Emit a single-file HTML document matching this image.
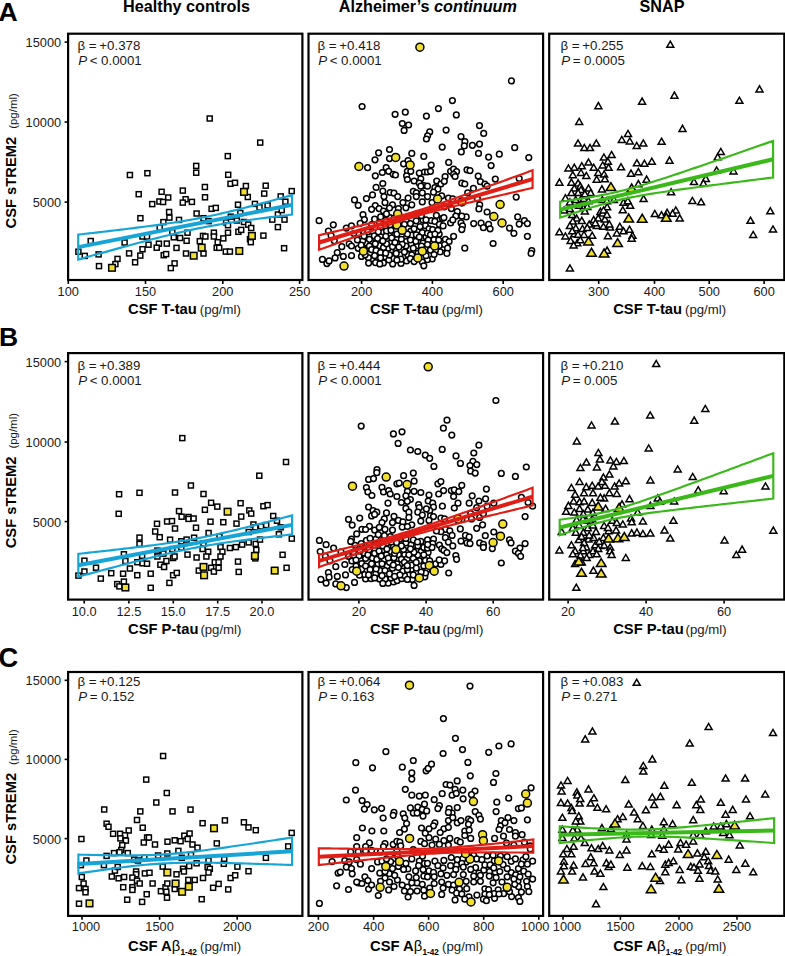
<!DOCTYPE html><html><head><meta charset="utf-8"><style>html,body{margin:0;padding:0;background:#fff;overflow:hidden;width:785px;height:956px;}svg{display:block;}text{font-family:"Liberation Sans", sans-serif;}</style></head><body>
<svg width="785" height="956" viewBox="0 0 785 956">
<rect width="785" height="956" fill="#fff"/>
<text x="186.5" y="12.3" font-size="16.2" font-weight="bold" text-anchor="middle">Healthy controls</text>
<text x="427.8" y="12.3" font-size="16.2" font-weight="bold" text-anchor="middle">Alzheimer’s <tspan font-style="italic">continuum</tspan></text>
<text x="662" y="12.3" font-size="16.2" font-weight="bold" text-anchor="middle">SNAP</text>
<text x="-1.6" y="20.8" font-size="26.5" font-weight="bold">A</text>
<text x="-1.0" y="345.5" font-size="26.5" font-weight="bold">B</text>
<text x="-1.6" y="666.9" font-size="27.3" font-weight="bold">C</text>
<g><rect x="127.4" y="172.5" width="5.0" height="5.0" fill="#fff" stroke="#000" stroke-width="1.5"/><rect x="144.9" y="170.7" width="5.0" height="5.0" fill="#fff" stroke="#000" stroke-width="1.5"/><rect x="136.2" y="191.7" width="5.0" height="5.0" fill="#fff" stroke="#000" stroke-width="1.5"/><rect x="159.1" y="189.3" width="5.0" height="5.0" fill="#fff" stroke="#000" stroke-width="1.5"/><rect x="165.7" y="195.0" width="5.0" height="5.0" fill="#fff" stroke="#000" stroke-width="1.5"/><rect x="149.7" y="201.6" width="5.0" height="5.0" fill="#fff" stroke="#000" stroke-width="1.5"/><rect x="156.9" y="199.0" width="5.0" height="5.0" fill="#fff" stroke="#000" stroke-width="1.5"/><rect x="160.6" y="199.5" width="5.0" height="5.0" fill="#fff" stroke="#000" stroke-width="1.5"/><rect x="180.3" y="188.1" width="5.0" height="5.0" fill="#fff" stroke="#000" stroke-width="1.5"/><rect x="166.6" y="209.5" width="5.0" height="5.0" fill="#fff" stroke="#000" stroke-width="1.5"/><rect x="166.9" y="215.1" width="5.0" height="5.0" fill="#fff" stroke="#000" stroke-width="1.5"/><rect x="137.9" y="215.7" width="5.0" height="5.0" fill="#fff" stroke="#000" stroke-width="1.5"/><rect x="176.5" y="217.4" width="5.0" height="5.0" fill="#fff" stroke="#000" stroke-width="1.5"/><rect x="160.9" y="219.6" width="5.0" height="5.0" fill="#fff" stroke="#000" stroke-width="1.5"/><rect x="157.2" y="225.1" width="5.0" height="5.0" fill="#fff" stroke="#000" stroke-width="1.5"/><rect x="169.8" y="229.6" width="5.0" height="5.0" fill="#fff" stroke="#000" stroke-width="1.5"/><rect x="171.3" y="234.8" width="5.0" height="5.0" fill="#fff" stroke="#000" stroke-width="1.5"/><rect x="177.6" y="235.5" width="5.0" height="5.0" fill="#fff" stroke="#000" stroke-width="1.5"/><rect x="140.0" y="234.0" width="5.0" height="5.0" fill="#fff" stroke="#000" stroke-width="1.5"/><rect x="144.5" y="234.0" width="5.0" height="5.0" fill="#fff" stroke="#000" stroke-width="1.5"/><rect x="88.2" y="238.5" width="5.0" height="5.0" fill="#fff" stroke="#000" stroke-width="1.5"/><rect x="122.1" y="240.0" width="5.0" height="5.0" fill="#fff" stroke="#000" stroke-width="1.5"/><rect x="146.0" y="242.2" width="5.0" height="5.0" fill="#fff" stroke="#000" stroke-width="1.5"/><rect x="156.4" y="241.2" width="5.0" height="5.0" fill="#fff" stroke="#000" stroke-width="1.5"/><rect x="164.3" y="241.1" width="5.0" height="5.0" fill="#fff" stroke="#000" stroke-width="1.5"/><rect x="154.2" y="245.2" width="5.0" height="5.0" fill="#fff" stroke="#000" stroke-width="1.5"/><rect x="140.0" y="246.7" width="5.0" height="5.0" fill="#fff" stroke="#000" stroke-width="1.5"/><rect x="174.0" y="245.4" width="5.0" height="5.0" fill="#fff" stroke="#000" stroke-width="1.5"/><rect x="75.9" y="249.2" width="5.0" height="5.0" fill="#fff" stroke="#000" stroke-width="1.5"/><rect x="82.3" y="253.4" width="5.0" height="5.0" fill="#fff" stroke="#000" stroke-width="1.5"/><rect x="96.1" y="251.9" width="5.0" height="5.0" fill="#fff" stroke="#000" stroke-width="1.5"/><rect x="126.6" y="250.9" width="5.0" height="5.0" fill="#fff" stroke="#000" stroke-width="1.5"/><rect x="137.8" y="253.1" width="5.0" height="5.0" fill="#fff" stroke="#000" stroke-width="1.5"/><rect x="161.2" y="252.7" width="5.0" height="5.0" fill="#fff" stroke="#000" stroke-width="1.5"/><rect x="163.6" y="251.6" width="5.0" height="5.0" fill="#fff" stroke="#000" stroke-width="1.5"/><rect x="115.0" y="256.4" width="5.0" height="5.0" fill="#fff" stroke="#000" stroke-width="1.5"/><rect x="112.9" y="261.6" width="5.0" height="5.0" fill="#fff" stroke="#000" stroke-width="1.5"/><rect x="132.6" y="259.8" width="5.0" height="5.0" fill="#fff" stroke="#000" stroke-width="1.5"/><rect x="96.5" y="263.6" width="5.0" height="5.0" fill="#fff" stroke="#000" stroke-width="1.5"/><rect x="172.1" y="260.9" width="5.0" height="5.0" fill="#fff" stroke="#000" stroke-width="1.5"/><rect x="168.3" y="265.6" width="5.0" height="5.0" fill="#fff" stroke="#000" stroke-width="1.5"/><rect x="207.2" y="116.0" width="5.0" height="5.0" fill="#fff" stroke="#000" stroke-width="1.5"/><rect x="257.7" y="140.1" width="5.0" height="5.0" fill="#fff" stroke="#000" stroke-width="1.5"/><rect x="225.3" y="153.6" width="5.0" height="5.0" fill="#fff" stroke="#000" stroke-width="1.5"/><rect x="193.7" y="163.4" width="5.0" height="5.0" fill="#fff" stroke="#000" stroke-width="1.5"/><rect x="193.7" y="170.2" width="5.0" height="5.0" fill="#fff" stroke="#000" stroke-width="1.5"/><rect x="225.7" y="172.3" width="5.0" height="5.0" fill="#fff" stroke="#000" stroke-width="1.5"/><rect x="228.0" y="181.3" width="5.0" height="5.0" fill="#fff" stroke="#000" stroke-width="1.5"/><rect x="232.5" y="180.3" width="5.0" height="5.0" fill="#fff" stroke="#000" stroke-width="1.5"/><rect x="243.4" y="183.5" width="5.0" height="5.0" fill="#fff" stroke="#000" stroke-width="1.5"/><rect x="263.2" y="183.2" width="5.0" height="5.0" fill="#fff" stroke="#000" stroke-width="1.5"/><rect x="245.3" y="194.5" width="5.0" height="5.0" fill="#fff" stroke="#000" stroke-width="1.5"/><rect x="261.7" y="191.1" width="5.0" height="5.0" fill="#fff" stroke="#000" stroke-width="1.5"/><rect x="289.2" y="188.6" width="5.0" height="5.0" fill="#fff" stroke="#000" stroke-width="1.5"/><rect x="202.4" y="184.5" width="5.0" height="5.0" fill="#fff" stroke="#000" stroke-width="1.5"/><rect x="202.5" y="194.8" width="5.0" height="5.0" fill="#fff" stroke="#000" stroke-width="1.5"/><rect x="183.1" y="196.7" width="5.0" height="5.0" fill="#fff" stroke="#000" stroke-width="1.5"/><rect x="180.3" y="200.1" width="5.0" height="5.0" fill="#fff" stroke="#000" stroke-width="1.5"/><rect x="189.4" y="199.4" width="5.0" height="5.0" fill="#fff" stroke="#000" stroke-width="1.5"/><rect x="278.2" y="193.9" width="5.0" height="5.0" fill="#fff" stroke="#000" stroke-width="1.5"/><rect x="282.9" y="199.2" width="5.0" height="5.0" fill="#fff" stroke="#000" stroke-width="1.5"/><rect x="252.4" y="201.4" width="5.0" height="5.0" fill="#fff" stroke="#000" stroke-width="1.5"/><rect x="257.0" y="204.8" width="5.0" height="5.0" fill="#fff" stroke="#000" stroke-width="1.5"/><rect x="265.1" y="202.9" width="5.0" height="5.0" fill="#fff" stroke="#000" stroke-width="1.5"/><rect x="235.5" y="202.2" width="5.0" height="5.0" fill="#fff" stroke="#000" stroke-width="1.5"/><rect x="237.8" y="210.5" width="5.0" height="5.0" fill="#fff" stroke="#000" stroke-width="1.5"/><rect x="209.1" y="206.3" width="5.0" height="5.0" fill="#fff" stroke="#000" stroke-width="1.5"/><rect x="213.3" y="205.4" width="5.0" height="5.0" fill="#fff" stroke="#000" stroke-width="1.5"/><rect x="194.1" y="211.0" width="5.0" height="5.0" fill="#fff" stroke="#000" stroke-width="1.5"/><rect x="201.0" y="215.7" width="5.0" height="5.0" fill="#fff" stroke="#000" stroke-width="1.5"/><rect x="206.1" y="218.6" width="5.0" height="5.0" fill="#fff" stroke="#000" stroke-width="1.5"/><rect x="228.3" y="214.2" width="5.0" height="5.0" fill="#fff" stroke="#000" stroke-width="1.5"/><rect x="223.6" y="219.9" width="5.0" height="5.0" fill="#fff" stroke="#000" stroke-width="1.5"/><rect x="225.5" y="222.7" width="5.0" height="5.0" fill="#fff" stroke="#000" stroke-width="1.5"/><rect x="234.4" y="218.0" width="5.0" height="5.0" fill="#fff" stroke="#000" stroke-width="1.5"/><rect x="241.5" y="219.5" width="5.0" height="5.0" fill="#fff" stroke="#000" stroke-width="1.5"/><rect x="245.7" y="222.1" width="5.0" height="5.0" fill="#fff" stroke="#000" stroke-width="1.5"/><rect x="248.7" y="225.5" width="5.0" height="5.0" fill="#fff" stroke="#000" stroke-width="1.5"/><rect x="275.4" y="212.0" width="5.0" height="5.0" fill="#fff" stroke="#000" stroke-width="1.5"/><rect x="279.2" y="207.6" width="5.0" height="5.0" fill="#fff" stroke="#000" stroke-width="1.5"/><rect x="269.8" y="217.1" width="5.0" height="5.0" fill="#fff" stroke="#000" stroke-width="1.5"/><rect x="282.0" y="217.1" width="5.0" height="5.0" fill="#fff" stroke="#000" stroke-width="1.5"/><rect x="275.4" y="224.6" width="5.0" height="5.0" fill="#fff" stroke="#000" stroke-width="1.5"/><rect x="225.5" y="230.2" width="5.0" height="5.0" fill="#fff" stroke="#000" stroke-width="1.5"/><rect x="235.9" y="229.3" width="5.0" height="5.0" fill="#fff" stroke="#000" stroke-width="1.5"/><rect x="238.7" y="227.4" width="5.0" height="5.0" fill="#fff" stroke="#000" stroke-width="1.5"/><rect x="211.4" y="230.2" width="5.0" height="5.0" fill="#fff" stroke="#000" stroke-width="1.5"/><rect x="211.4" y="234.0" width="5.0" height="5.0" fill="#fff" stroke="#000" stroke-width="1.5"/><rect x="220.8" y="235.9" width="5.0" height="5.0" fill="#fff" stroke="#000" stroke-width="1.5"/><rect x="215.2" y="239.7" width="5.0" height="5.0" fill="#fff" stroke="#000" stroke-width="1.5"/><rect x="200.5" y="233.4" width="5.0" height="5.0" fill="#fff" stroke="#000" stroke-width="1.5"/><rect x="202.9" y="234.0" width="5.0" height="5.0" fill="#fff" stroke="#000" stroke-width="1.5"/><rect x="197.3" y="238.7" width="5.0" height="5.0" fill="#fff" stroke="#000" stroke-width="1.5"/><rect x="185.0" y="230.2" width="5.0" height="5.0" fill="#fff" stroke="#000" stroke-width="1.5"/><rect x="184.1" y="238.3" width="5.0" height="5.0" fill="#fff" stroke="#000" stroke-width="1.5"/><rect x="247.5" y="236.8" width="5.0" height="5.0" fill="#fff" stroke="#000" stroke-width="1.5"/><rect x="248.3" y="239.7" width="5.0" height="5.0" fill="#fff" stroke="#000" stroke-width="1.5"/><rect x="260.9" y="233.1" width="5.0" height="5.0" fill="#fff" stroke="#000" stroke-width="1.5"/><rect x="214.2" y="245.3" width="5.0" height="5.0" fill="#fff" stroke="#000" stroke-width="1.5"/><rect x="216.7" y="245.3" width="5.0" height="5.0" fill="#fff" stroke="#000" stroke-width="1.5"/><rect x="223.3" y="249.1" width="5.0" height="5.0" fill="#fff" stroke="#000" stroke-width="1.5"/><rect x="227.4" y="249.1" width="5.0" height="5.0" fill="#fff" stroke="#000" stroke-width="1.5"/><rect x="183.5" y="251.0" width="5.0" height="5.0" fill="#fff" stroke="#000" stroke-width="1.5"/><rect x="201.0" y="251.0" width="5.0" height="5.0" fill="#fff" stroke="#000" stroke-width="1.5"/><rect x="281.6" y="245.7" width="5.0" height="5.0" fill="#fff" stroke="#000" stroke-width="1.5"/><rect x="108.7" y="264.5" width="6.6" height="6.6" fill="#f0df2c" stroke="#000" stroke-width="1.5"/><rect x="240.7" y="188.6" width="6.6" height="6.6" fill="#f0df2c" stroke="#000" stroke-width="1.5"/><rect x="248.6" y="232.6" width="6.6" height="6.6" fill="#f0df2c" stroke="#000" stroke-width="1.5"/><rect x="198.4" y="244.3" width="6.6" height="6.6" fill="#f0df2c" stroke="#000" stroke-width="1.5"/><rect x="236.0" y="247.7" width="6.6" height="6.6" fill="#f0df2c" stroke="#000" stroke-width="1.5"/><rect x="190.4" y="252.4" width="6.6" height="6.6" fill="#f0df2c" stroke="#000" stroke-width="1.5"/></g>
<path d="M78.20,234.60 L81.76,234.20 L85.33,233.79 L88.89,233.39 L92.45,232.98 L96.02,232.57 L99.58,232.16 L103.14,231.75 L106.71,231.33 L110.27,230.92 L113.83,230.50 L117.40,230.07 L120.96,229.64 L124.52,229.21 L128.09,228.78 L131.65,228.34 L135.21,227.89 L138.78,227.44 L142.34,226.99 L145.90,226.52 L149.47,226.05 L153.03,225.57 L156.59,225.09 L160.16,224.59 L163.72,224.08 L167.28,223.56 L170.85,223.03 L174.41,222.48 L177.97,221.92 L181.54,221.34 L185.10,220.74 L188.66,220.13 L192.23,219.49 L195.79,218.83 L199.35,218.15 L202.92,217.45 L206.48,216.73 L210.04,215.99 L213.61,215.22 L217.17,214.44 L220.73,213.63 L224.30,212.81 L227.86,211.97 L231.42,211.11 L234.99,210.24 L238.55,209.36 L242.11,208.46 L245.68,207.55 L249.24,206.64 L252.80,205.71 L256.37,204.77 L259.93,203.83 L263.49,202.88 L267.06,201.92 L270.62,200.96 L274.18,200.00 L277.75,199.02 L281.31,198.05 L284.87,197.07 L288.44,196.09 L292.00,195.10 L292.00,214.60 L288.44,215.02 L284.87,215.45 L281.31,215.88 L277.75,216.31 L274.18,216.75 L270.62,217.19 L267.06,217.63 L263.49,218.09 L259.93,218.54 L256.37,219.01 L252.80,219.48 L249.24,219.96 L245.68,220.45 L242.11,220.95 L238.55,221.47 L234.99,221.99 L231.42,222.53 L227.86,223.08 L224.30,223.65 L220.73,224.23 L217.17,224.84 L213.61,225.46 L210.04,226.10 L206.48,226.77 L202.92,227.46 L199.35,228.16 L195.79,228.89 L192.23,229.64 L188.66,230.42 L185.10,231.21 L181.54,232.02 L177.97,232.85 L174.41,233.69 L170.85,234.55 L167.28,235.43 L163.72,236.32 L160.16,237.22 L156.59,238.13 L153.03,239.05 L149.47,239.98 L145.90,240.92 L142.34,241.86 L138.78,242.82 L135.21,243.77 L131.65,244.74 L128.09,245.71 L124.52,246.68 L120.96,247.66 L117.40,248.64 L113.83,249.62 L110.27,250.61 L106.71,251.60 L103.14,252.59 L99.58,253.59 L96.02,254.58 L92.45,255.58 L88.89,256.59 L85.33,257.59 L81.76,258.59 L78.20,259.60 Z" fill="none" stroke="#17a5d8" stroke-width="2.15"/>
<path d="M78.2,247.1 L292,204.85" fill="none" stroke="#17a5d8" stroke-width="4.0"/>
<rect x="68.1" y="33.7" width="234.29999999999998" height="246.3" fill="none" stroke="#000" stroke-width="2.2"/>
<line x1="68.3" y1="281" x2="68.3" y2="283.9" stroke="#000" stroke-width="1.6"/>
<text x="68.3" y="296.0" font-size="12.8" text-anchor="middle" fill="#1a1a1a">100</text>
<line x1="145.5" y1="281" x2="145.5" y2="283.9" stroke="#000" stroke-width="1.6"/>
<text x="145.5" y="296.0" font-size="12.8" text-anchor="middle" fill="#1a1a1a">150</text>
<line x1="222.8" y1="281" x2="222.8" y2="283.9" stroke="#000" stroke-width="1.6"/>
<text x="222.8" y="296.0" font-size="12.8" text-anchor="middle" fill="#1a1a1a">200</text>
<line x1="299.6" y1="281" x2="299.6" y2="283.9" stroke="#000" stroke-width="1.6"/>
<text x="299.6" y="296.0" font-size="12.8" text-anchor="middle" fill="#1a1a1a">250</text>
<text x="77.45" y="50.2" font-size="13.3" fill="#1a1a1a">β</text>
<text x="88.65" y="50.2" font-size="13.3" fill="#1a1a1a">=</text>
<text x="99.30" y="50.2" font-size="13.3" fill="#1a1a1a">+0.378</text>
<text x="78.35" y="64.7" font-size="13.3" font-style="italic" fill="#1a1a1a">P</text>
<text x="89.65" y="64.7" font-size="13.3" fill="#1a1a1a">&lt;</text>
<text x="101.10" y="64.7" font-size="13.3" fill="#1a1a1a">0.0001</text>
<g><circle cx="384.3" cy="226.6" r="4.0" fill="#f0df2c" stroke="#000" stroke-width="1.5"/><circle cx="381.0" cy="235.4" r="2.85" fill="#fff" stroke="#000" stroke-width="1.5"/><circle cx="419.4" cy="242.5" r="2.85" fill="#fff" stroke="#000" stroke-width="1.5"/><circle cx="404.9" cy="237.4" r="2.85" fill="#fff" stroke="#000" stroke-width="1.5"/><circle cx="396.0" cy="230.6" r="2.85" fill="#fff" stroke="#000" stroke-width="1.5"/><circle cx="417.4" cy="230.4" r="2.85" fill="#fff" stroke="#000" stroke-width="1.5"/><circle cx="434.0" cy="239.6" r="2.85" fill="#fff" stroke="#000" stroke-width="1.5"/><circle cx="371.8" cy="242.6" r="2.85" fill="#fff" stroke="#000" stroke-width="1.5"/><circle cx="360.4" cy="237.8" r="2.85" fill="#fff" stroke="#000" stroke-width="1.5"/><circle cx="432.2" cy="259.0" r="2.85" fill="#fff" stroke="#000" stroke-width="1.5"/><circle cx="369.4" cy="235.3" r="2.85" fill="#fff" stroke="#000" stroke-width="1.5"/><circle cx="366.8" cy="243.2" r="2.85" fill="#fff" stroke="#000" stroke-width="1.5"/><circle cx="401.0" cy="263.5" r="2.85" fill="#fff" stroke="#000" stroke-width="1.5"/><circle cx="422.0" cy="258.1" r="2.85" fill="#fff" stroke="#000" stroke-width="1.5"/><circle cx="442.8" cy="248.0" r="2.85" fill="#fff" stroke="#000" stroke-width="1.5"/><circle cx="395.1" cy="249.2" r="2.85" fill="#fff" stroke="#000" stroke-width="1.5"/><circle cx="390.6" cy="251.0" r="2.85" fill="#fff" stroke="#000" stroke-width="1.5"/><circle cx="392.7" cy="263.9" r="2.85" fill="#fff" stroke="#000" stroke-width="1.5"/><circle cx="385.9" cy="257.3" r="2.85" fill="#fff" stroke="#000" stroke-width="1.5"/><circle cx="391.4" cy="242.3" r="2.85" fill="#fff" stroke="#000" stroke-width="1.5"/><circle cx="426.0" cy="236.9" r="2.85" fill="#fff" stroke="#000" stroke-width="1.5"/><circle cx="367.1" cy="248.8" r="2.85" fill="#fff" stroke="#000" stroke-width="1.5"/><circle cx="409.7" cy="248.7" r="2.85" fill="#fff" stroke="#000" stroke-width="1.5"/><circle cx="372.2" cy="258.8" r="2.85" fill="#fff" stroke="#000" stroke-width="1.5"/><circle cx="383.4" cy="262.9" r="2.85" fill="#fff" stroke="#000" stroke-width="1.5"/><circle cx="427.3" cy="259.7" r="2.85" fill="#fff" stroke="#000" stroke-width="1.5"/><circle cx="403.5" cy="256.6" r="2.85" fill="#fff" stroke="#000" stroke-width="1.5"/><circle cx="389.2" cy="234.0" r="2.85" fill="#fff" stroke="#000" stroke-width="1.5"/><circle cx="375.6" cy="262.7" r="2.85" fill="#fff" stroke="#000" stroke-width="1.5"/><circle cx="440.1" cy="251.9" r="2.85" fill="#fff" stroke="#000" stroke-width="1.5"/><circle cx="422.3" cy="262.0" r="2.85" fill="#fff" stroke="#000" stroke-width="1.5"/><circle cx="407.8" cy="254.7" r="2.85" fill="#fff" stroke="#000" stroke-width="1.5"/><circle cx="400.0" cy="254.9" r="2.85" fill="#fff" stroke="#000" stroke-width="1.5"/><circle cx="389.9" cy="217.5" r="2.85" fill="#fff" stroke="#000" stroke-width="1.5"/><circle cx="397.2" cy="239.0" r="2.85" fill="#fff" stroke="#000" stroke-width="1.5"/><circle cx="363.8" cy="232.1" r="2.85" fill="#fff" stroke="#000" stroke-width="1.5"/><circle cx="358.2" cy="248.3" r="2.85" fill="#fff" stroke="#000" stroke-width="1.5"/><circle cx="392.8" cy="258.4" r="2.85" fill="#fff" stroke="#000" stroke-width="1.5"/><circle cx="362.7" cy="241.0" r="2.85" fill="#fff" stroke="#000" stroke-width="1.5"/><circle cx="416.8" cy="245.7" r="2.85" fill="#fff" stroke="#000" stroke-width="1.5"/><circle cx="406.2" cy="241.6" r="2.85" fill="#fff" stroke="#000" stroke-width="1.5"/><circle cx="439.5" cy="245.6" r="2.85" fill="#fff" stroke="#000" stroke-width="1.5"/><circle cx="425.3" cy="248.2" r="2.85" fill="#fff" stroke="#000" stroke-width="1.5"/><circle cx="406.5" cy="261.0" r="2.85" fill="#fff" stroke="#000" stroke-width="1.5"/><circle cx="368.4" cy="257.7" r="2.85" fill="#fff" stroke="#000" stroke-width="1.5"/><circle cx="379.4" cy="222.5" r="2.85" fill="#fff" stroke="#000" stroke-width="1.5"/><circle cx="418.1" cy="253.2" r="2.85" fill="#fff" stroke="#000" stroke-width="1.5"/><circle cx="425.4" cy="225.7" r="2.85" fill="#fff" stroke="#000" stroke-width="1.5"/><circle cx="410.8" cy="231.2" r="2.85" fill="#fff" stroke="#000" stroke-width="1.5"/><circle cx="411.4" cy="235.2" r="2.85" fill="#fff" stroke="#000" stroke-width="1.5"/><circle cx="435.5" cy="250.2" r="2.85" fill="#fff" stroke="#000" stroke-width="1.5"/><circle cx="411.2" cy="243.9" r="2.85" fill="#fff" stroke="#000" stroke-width="1.5"/><circle cx="394.2" cy="218.2" r="2.85" fill="#fff" stroke="#000" stroke-width="1.5"/><circle cx="388.2" cy="248.2" r="2.85" fill="#fff" stroke="#000" stroke-width="1.5"/><circle cx="379.5" cy="245.7" r="2.85" fill="#fff" stroke="#000" stroke-width="1.5"/><circle cx="406.1" cy="220.0" r="2.85" fill="#fff" stroke="#000" stroke-width="1.5"/><circle cx="430.4" cy="250.1" r="2.85" fill="#fff" stroke="#000" stroke-width="1.5"/><circle cx="382.4" cy="231.7" r="2.85" fill="#fff" stroke="#000" stroke-width="1.5"/><circle cx="388.8" cy="260.0" r="2.85" fill="#fff" stroke="#000" stroke-width="1.5"/><circle cx="372.9" cy="231.7" r="2.85" fill="#fff" stroke="#000" stroke-width="1.5"/><circle cx="415.8" cy="241.3" r="2.85" fill="#fff" stroke="#000" stroke-width="1.5"/><circle cx="400.7" cy="226.5" r="2.85" fill="#fff" stroke="#000" stroke-width="1.5"/><circle cx="385.8" cy="220.4" r="2.85" fill="#fff" stroke="#000" stroke-width="1.5"/><circle cx="401.0" cy="259.2" r="2.85" fill="#fff" stroke="#000" stroke-width="1.5"/><circle cx="390.2" cy="224.8" r="2.85" fill="#fff" stroke="#000" stroke-width="1.5"/><circle cx="398.8" cy="218.6" r="2.85" fill="#fff" stroke="#000" stroke-width="1.5"/><circle cx="401.6" cy="234.6" r="2.85" fill="#fff" stroke="#000" stroke-width="1.5"/><circle cx="434.1" cy="254.5" r="2.85" fill="#fff" stroke="#000" stroke-width="1.5"/><circle cx="375.8" cy="227.5" r="2.85" fill="#fff" stroke="#000" stroke-width="1.5"/><circle cx="374.3" cy="235.9" r="2.85" fill="#fff" stroke="#000" stroke-width="1.5"/><circle cx="439.2" cy="234.1" r="2.85" fill="#fff" stroke="#000" stroke-width="1.5"/><circle cx="511.4" cy="80.9" r="2.85" fill="#fff" stroke="#000" stroke-width="1.5"/><circle cx="362.1" cy="106.5" r="2.85" fill="#fff" stroke="#000" stroke-width="1.5"/><circle cx="452.4" cy="100.6" r="2.85" fill="#fff" stroke="#000" stroke-width="1.5"/><circle cx="438.4" cy="108.6" r="2.85" fill="#fff" stroke="#000" stroke-width="1.5"/><circle cx="395.1" cy="114.3" r="2.85" fill="#fff" stroke="#000" stroke-width="1.5"/><circle cx="405.3" cy="112.2" r="2.85" fill="#fff" stroke="#000" stroke-width="1.5"/><circle cx="426.4" cy="116.1" r="2.85" fill="#fff" stroke="#000" stroke-width="1.5"/><circle cx="456.3" cy="114.9" r="2.85" fill="#fff" stroke="#000" stroke-width="1.5"/><circle cx="402.3" cy="123.5" r="2.85" fill="#fff" stroke="#000" stroke-width="1.5"/><circle cx="408.6" cy="125.0" r="2.85" fill="#fff" stroke="#000" stroke-width="1.5"/><circle cx="404.1" cy="130.4" r="2.85" fill="#fff" stroke="#000" stroke-width="1.5"/><circle cx="429.7" cy="131.9" r="2.85" fill="#fff" stroke="#000" stroke-width="1.5"/><circle cx="427.6" cy="135.8" r="2.85" fill="#fff" stroke="#000" stroke-width="1.5"/><circle cx="426.4" cy="139.0" r="2.85" fill="#fff" stroke="#000" stroke-width="1.5"/><circle cx="446.1" cy="130.1" r="2.85" fill="#fff" stroke="#000" stroke-width="1.5"/><circle cx="479.5" cy="125.6" r="2.85" fill="#fff" stroke="#000" stroke-width="1.5"/><circle cx="483.7" cy="133.4" r="2.85" fill="#fff" stroke="#000" stroke-width="1.5"/><circle cx="461.0" cy="136.6" r="2.85" fill="#fff" stroke="#000" stroke-width="1.5"/><circle cx="464.9" cy="141.7" r="2.85" fill="#fff" stroke="#000" stroke-width="1.5"/><circle cx="464.3" cy="145.9" r="2.85" fill="#fff" stroke="#000" stroke-width="1.5"/><circle cx="472.4" cy="145.3" r="2.85" fill="#fff" stroke="#000" stroke-width="1.5"/><circle cx="479.5" cy="144.1" r="2.85" fill="#fff" stroke="#000" stroke-width="1.5"/><circle cx="442.2" cy="147.1" r="2.85" fill="#fff" stroke="#000" stroke-width="1.5"/><circle cx="514.7" cy="147.7" r="2.85" fill="#fff" stroke="#000" stroke-width="1.5"/><circle cx="389.5" cy="149.5" r="2.85" fill="#fff" stroke="#000" stroke-width="1.5"/><circle cx="378.6" cy="152.8" r="2.85" fill="#fff" stroke="#000" stroke-width="1.5"/><circle cx="411.8" cy="153.4" r="2.85" fill="#fff" stroke="#000" stroke-width="1.5"/><circle cx="423.8" cy="156.4" r="2.85" fill="#fff" stroke="#000" stroke-width="1.5"/><circle cx="375.0" cy="159.8" r="2.85" fill="#fff" stroke="#000" stroke-width="1.5"/><circle cx="389.5" cy="158.6" r="2.85" fill="#fff" stroke="#000" stroke-width="1.5"/><circle cx="367.6" cy="167.7" r="2.85" fill="#fff" stroke="#000" stroke-width="1.5"/><circle cx="403.6" cy="163.8" r="2.85" fill="#fff" stroke="#000" stroke-width="1.5"/><circle cx="408.1" cy="160.6" r="2.85" fill="#fff" stroke="#000" stroke-width="1.5"/><circle cx="386.2" cy="167.7" r="2.85" fill="#fff" stroke="#000" stroke-width="1.5"/><circle cx="382.3" cy="172.5" r="2.85" fill="#fff" stroke="#000" stroke-width="1.5"/><circle cx="388.7" cy="171.3" r="2.85" fill="#fff" stroke="#000" stroke-width="1.5"/><circle cx="393.2" cy="174.3" r="2.85" fill="#fff" stroke="#000" stroke-width="1.5"/><circle cx="395.5" cy="175.0" r="2.85" fill="#fff" stroke="#000" stroke-width="1.5"/><circle cx="375.3" cy="175.8" r="2.85" fill="#fff" stroke="#000" stroke-width="1.5"/><circle cx="407.4" cy="171.3" r="2.85" fill="#fff" stroke="#000" stroke-width="1.5"/><circle cx="410.8" cy="171.3" r="2.85" fill="#fff" stroke="#000" stroke-width="1.5"/><circle cx="406.6" cy="175.8" r="2.85" fill="#fff" stroke="#000" stroke-width="1.5"/><circle cx="407.4" cy="179.5" r="2.85" fill="#fff" stroke="#000" stroke-width="1.5"/><circle cx="419.3" cy="173.1" r="2.85" fill="#fff" stroke="#000" stroke-width="1.5"/><circle cx="424.5" cy="172.0" r="2.85" fill="#fff" stroke="#000" stroke-width="1.5"/><circle cx="420.8" cy="178.8" r="2.85" fill="#fff" stroke="#000" stroke-width="1.5"/><circle cx="414.1" cy="181.0" r="2.85" fill="#fff" stroke="#000" stroke-width="1.5"/><circle cx="419.3" cy="183.2" r="2.85" fill="#fff" stroke="#000" stroke-width="1.5"/><circle cx="423.8" cy="185.5" r="2.85" fill="#fff" stroke="#000" stroke-width="1.5"/><circle cx="382.8" cy="183.5" r="2.85" fill="#fff" stroke="#000" stroke-width="1.5"/><circle cx="376.1" cy="187.4" r="2.85" fill="#fff" stroke="#000" stroke-width="1.5"/><circle cx="382.8" cy="191.0" r="2.85" fill="#fff" stroke="#000" stroke-width="1.5"/><circle cx="390.2" cy="192.5" r="2.85" fill="#fff" stroke="#000" stroke-width="1.5"/><circle cx="394.0" cy="193.2" r="2.85" fill="#fff" stroke="#000" stroke-width="1.5"/><circle cx="413.3" cy="191.4" r="2.85" fill="#fff" stroke="#000" stroke-width="1.5"/><circle cx="416.3" cy="192.9" r="2.85" fill="#fff" stroke="#000" stroke-width="1.5"/><circle cx="420.8" cy="186.2" r="2.85" fill="#fff" stroke="#000" stroke-width="1.5"/><circle cx="422.3" cy="192.9" r="2.85" fill="#fff" stroke="#000" stroke-width="1.5"/><circle cx="372.5" cy="194.9" r="2.85" fill="#fff" stroke="#000" stroke-width="1.5"/><circle cx="366.4" cy="198.6" r="2.85" fill="#fff" stroke="#000" stroke-width="1.5"/><circle cx="354.5" cy="199.9" r="2.85" fill="#fff" stroke="#000" stroke-width="1.5"/><circle cx="358.2" cy="205.3" r="2.85" fill="#fff" stroke="#000" stroke-width="1.5"/><circle cx="384.0" cy="196.6" r="2.85" fill="#fff" stroke="#000" stroke-width="1.5"/><circle cx="397.7" cy="196.6" r="2.85" fill="#fff" stroke="#000" stroke-width="1.5"/><circle cx="408.1" cy="198.1" r="2.85" fill="#fff" stroke="#000" stroke-width="1.5"/><circle cx="416.3" cy="196.6" r="2.85" fill="#fff" stroke="#000" stroke-width="1.5"/><circle cx="422.3" cy="201.9" r="2.85" fill="#fff" stroke="#000" stroke-width="1.5"/><circle cx="385.0" cy="202.6" r="2.85" fill="#fff" stroke="#000" stroke-width="1.5"/><circle cx="392.5" cy="204.8" r="2.85" fill="#fff" stroke="#000" stroke-width="1.5"/><circle cx="402.9" cy="202.6" r="2.85" fill="#fff" stroke="#000" stroke-width="1.5"/><circle cx="411.8" cy="204.8" r="2.85" fill="#fff" stroke="#000" stroke-width="1.5"/><circle cx="375.3" cy="205.6" r="2.85" fill="#fff" stroke="#000" stroke-width="1.5"/><circle cx="371.6" cy="209.3" r="2.85" fill="#fff" stroke="#000" stroke-width="1.5"/><circle cx="379.1" cy="208.6" r="2.85" fill="#fff" stroke="#000" stroke-width="1.5"/><circle cx="398.4" cy="208.6" r="2.85" fill="#fff" stroke="#000" stroke-width="1.5"/><circle cx="405.9" cy="207.8" r="2.85" fill="#fff" stroke="#000" stroke-width="1.5"/><circle cx="319.1" cy="220.7" r="2.85" fill="#fff" stroke="#000" stroke-width="1.5"/><circle cx="333.3" cy="224.8" r="2.85" fill="#fff" stroke="#000" stroke-width="1.5"/><circle cx="328.4" cy="231.1" r="2.85" fill="#fff" stroke="#000" stroke-width="1.5"/><circle cx="331.1" cy="235.6" r="2.85" fill="#fff" stroke="#000" stroke-width="1.5"/><circle cx="346.3" cy="228.1" r="2.85" fill="#fff" stroke="#000" stroke-width="1.5"/><circle cx="351.5" cy="225.9" r="2.85" fill="#fff" stroke="#000" stroke-width="1.5"/><circle cx="363.0" cy="214.7" r="2.85" fill="#fff" stroke="#000" stroke-width="1.5"/><circle cx="364.4" cy="219.6" r="2.85" fill="#fff" stroke="#000" stroke-width="1.5"/><circle cx="383.5" cy="211.0" r="2.85" fill="#fff" stroke="#000" stroke-width="1.5"/><circle cx="389.5" cy="208.0" r="2.85" fill="#fff" stroke="#000" stroke-width="1.5"/><circle cx="386.5" cy="213.9" r="2.85" fill="#fff" stroke="#000" stroke-width="1.5"/><circle cx="374.6" cy="219.2" r="2.85" fill="#fff" stroke="#000" stroke-width="1.5"/><circle cx="423.0" cy="219.9" r="2.85" fill="#fff" stroke="#000" stroke-width="1.5"/><circle cx="420.0" cy="226.6" r="2.85" fill="#fff" stroke="#000" stroke-width="1.5"/><circle cx="410.4" cy="223.6" r="2.85" fill="#fff" stroke="#000" stroke-width="1.5"/><circle cx="404.4" cy="224.4" r="2.85" fill="#fff" stroke="#000" stroke-width="1.5"/><circle cx="414.1" cy="228.8" r="2.85" fill="#fff" stroke="#000" stroke-width="1.5"/><circle cx="380.5" cy="227.4" r="2.85" fill="#fff" stroke="#000" stroke-width="1.5"/><circle cx="367.9" cy="231.8" r="2.85" fill="#fff" stroke="#000" stroke-width="1.5"/><circle cx="358.2" cy="234.1" r="2.85" fill="#fff" stroke="#000" stroke-width="1.5"/><circle cx="378.3" cy="231.8" r="2.85" fill="#fff" stroke="#000" stroke-width="1.5"/><circle cx="386.5" cy="231.1" r="2.85" fill="#fff" stroke="#000" stroke-width="1.5"/><circle cx="391.0" cy="230.3" r="2.85" fill="#fff" stroke="#000" stroke-width="1.5"/><circle cx="396.9" cy="234.1" r="2.85" fill="#fff" stroke="#000" stroke-width="1.5"/><circle cx="407.4" cy="234.1" r="2.85" fill="#fff" stroke="#000" stroke-width="1.5"/><circle cx="416.3" cy="234.8" r="2.85" fill="#fff" stroke="#000" stroke-width="1.5"/><circle cx="422.3" cy="232.6" r="2.85" fill="#fff" stroke="#000" stroke-width="1.5"/><circle cx="357.4" cy="240.0" r="2.85" fill="#fff" stroke="#000" stroke-width="1.5"/><circle cx="369.4" cy="239.3" r="2.85" fill="#fff" stroke="#000" stroke-width="1.5"/><circle cx="377.6" cy="238.5" r="2.85" fill="#fff" stroke="#000" stroke-width="1.5"/><circle cx="385.8" cy="236.3" r="2.85" fill="#fff" stroke="#000" stroke-width="1.5"/><circle cx="391.7" cy="237.8" r="2.85" fill="#fff" stroke="#000" stroke-width="1.5"/><circle cx="401.4" cy="239.3" r="2.85" fill="#fff" stroke="#000" stroke-width="1.5"/><circle cx="410.4" cy="240.0" r="2.85" fill="#fff" stroke="#000" stroke-width="1.5"/><circle cx="419.3" cy="237.0" r="2.85" fill="#fff" stroke="#000" stroke-width="1.5"/><circle cx="423.0" cy="243.0" r="2.85" fill="#fff" stroke="#000" stroke-width="1.5"/><circle cx="334.3" cy="240.8" r="2.85" fill="#fff" stroke="#000" stroke-width="1.5"/><circle cx="341.8" cy="246.7" r="2.85" fill="#fff" stroke="#000" stroke-width="1.5"/><circle cx="349.2" cy="243.8" r="2.85" fill="#fff" stroke="#000" stroke-width="1.5"/><circle cx="351.5" cy="246.0" r="2.85" fill="#fff" stroke="#000" stroke-width="1.5"/><circle cx="361.2" cy="245.2" r="2.85" fill="#fff" stroke="#000" stroke-width="1.5"/><circle cx="369.4" cy="246.0" r="2.85" fill="#fff" stroke="#000" stroke-width="1.5"/><circle cx="375.3" cy="243.8" r="2.85" fill="#fff" stroke="#000" stroke-width="1.5"/><circle cx="383.5" cy="247.5" r="2.85" fill="#fff" stroke="#000" stroke-width="1.5"/><circle cx="392.5" cy="246.7" r="2.85" fill="#fff" stroke="#000" stroke-width="1.5"/><circle cx="386.5" cy="243.8" r="2.85" fill="#fff" stroke="#000" stroke-width="1.5"/><circle cx="398.4" cy="244.5" r="2.85" fill="#fff" stroke="#000" stroke-width="1.5"/><circle cx="405.9" cy="246.0" r="2.85" fill="#fff" stroke="#000" stroke-width="1.5"/><circle cx="413.3" cy="248.2" r="2.85" fill="#fff" stroke="#000" stroke-width="1.5"/><circle cx="421.5" cy="246.0" r="2.85" fill="#fff" stroke="#000" stroke-width="1.5"/><circle cx="371.6" cy="249.7" r="2.85" fill="#fff" stroke="#000" stroke-width="1.5"/><circle cx="376.1" cy="250.5" r="2.85" fill="#fff" stroke="#000" stroke-width="1.5"/><circle cx="380.5" cy="252.7" r="2.85" fill="#fff" stroke="#000" stroke-width="1.5"/><circle cx="389.5" cy="254.9" r="2.85" fill="#fff" stroke="#000" stroke-width="1.5"/><circle cx="396.2" cy="253.4" r="2.85" fill="#fff" stroke="#000" stroke-width="1.5"/><circle cx="404.4" cy="252.0" r="2.85" fill="#fff" stroke="#000" stroke-width="1.5"/><circle cx="411.8" cy="254.9" r="2.85" fill="#fff" stroke="#000" stroke-width="1.5"/><circle cx="337.3" cy="252.7" r="2.85" fill="#fff" stroke="#000" stroke-width="1.5"/><circle cx="335.1" cy="257.9" r="2.85" fill="#fff" stroke="#000" stroke-width="1.5"/><circle cx="343.3" cy="256.4" r="2.85" fill="#fff" stroke="#000" stroke-width="1.5"/><circle cx="351.5" cy="255.7" r="2.85" fill="#fff" stroke="#000" stroke-width="1.5"/><circle cx="322.4" cy="259.4" r="2.85" fill="#fff" stroke="#000" stroke-width="1.5"/><circle cx="326.9" cy="263.6" r="2.85" fill="#fff" stroke="#000" stroke-width="1.5"/><circle cx="329.1" cy="260.9" r="2.85" fill="#fff" stroke="#000" stroke-width="1.5"/><circle cx="368.6" cy="263.1" r="2.85" fill="#fff" stroke="#000" stroke-width="1.5"/><circle cx="379.8" cy="263.9" r="2.85" fill="#fff" stroke="#000" stroke-width="1.5"/><circle cx="380.5" cy="257.9" r="2.85" fill="#fff" stroke="#000" stroke-width="1.5"/><circle cx="396.9" cy="260.1" r="2.85" fill="#fff" stroke="#000" stroke-width="1.5"/><circle cx="410.4" cy="258.7" r="2.85" fill="#fff" stroke="#000" stroke-width="1.5"/><circle cx="414.1" cy="261.6" r="2.85" fill="#fff" stroke="#000" stroke-width="1.5"/><circle cx="423.8" cy="265.8" r="2.85" fill="#fff" stroke="#000" stroke-width="1.5"/><circle cx="374.6" cy="255.7" r="2.85" fill="#fff" stroke="#000" stroke-width="1.5"/><circle cx="461.3" cy="151.9" r="2.85" fill="#fff" stroke="#000" stroke-width="1.5"/><circle cx="478.5" cy="153.4" r="2.85" fill="#fff" stroke="#000" stroke-width="1.5"/><circle cx="488.6" cy="157.1" r="2.85" fill="#fff" stroke="#000" stroke-width="1.5"/><circle cx="499.3" cy="154.2" r="2.85" fill="#fff" stroke="#000" stroke-width="1.5"/><circle cx="528.8" cy="157.6" r="2.85" fill="#fff" stroke="#000" stroke-width="1.5"/><circle cx="448.7" cy="162.4" r="2.85" fill="#fff" stroke="#000" stroke-width="1.5"/><circle cx="431.2" cy="165.0" r="2.85" fill="#fff" stroke="#000" stroke-width="1.5"/><circle cx="491.1" cy="165.6" r="2.85" fill="#fff" stroke="#000" stroke-width="1.5"/><circle cx="427.5" cy="172.0" r="2.85" fill="#fff" stroke="#000" stroke-width="1.5"/><circle cx="430.5" cy="171.3" r="2.85" fill="#fff" stroke="#000" stroke-width="1.5"/><circle cx="450.6" cy="171.3" r="2.85" fill="#fff" stroke="#000" stroke-width="1.5"/><circle cx="453.6" cy="169.1" r="2.85" fill="#fff" stroke="#000" stroke-width="1.5"/><circle cx="456.6" cy="171.6" r="2.85" fill="#fff" stroke="#000" stroke-width="1.5"/><circle cx="453.6" cy="174.3" r="2.85" fill="#fff" stroke="#000" stroke-width="1.5"/><circle cx="455.1" cy="176.5" r="2.85" fill="#fff" stroke="#000" stroke-width="1.5"/><circle cx="467.0" cy="169.8" r="2.85" fill="#fff" stroke="#000" stroke-width="1.5"/><circle cx="470.0" cy="170.6" r="2.85" fill="#fff" stroke="#000" stroke-width="1.5"/><circle cx="445.1" cy="176.5" r="2.85" fill="#fff" stroke="#000" stroke-width="1.5"/><circle cx="478.2" cy="176.1" r="2.85" fill="#fff" stroke="#000" stroke-width="1.5"/><circle cx="495.3" cy="179.1" r="2.85" fill="#fff" stroke="#000" stroke-width="1.5"/><circle cx="519.2" cy="178.5" r="2.85" fill="#fff" stroke="#000" stroke-width="1.5"/><circle cx="480.4" cy="181.7" r="2.85" fill="#fff" stroke="#000" stroke-width="1.5"/><circle cx="461.8" cy="183.2" r="2.85" fill="#fff" stroke="#000" stroke-width="1.5"/><circle cx="464.8" cy="184.0" r="2.85" fill="#fff" stroke="#000" stroke-width="1.5"/><circle cx="436.7" cy="181.0" r="2.85" fill="#fff" stroke="#000" stroke-width="1.5"/><circle cx="440.9" cy="184.0" r="2.85" fill="#fff" stroke="#000" stroke-width="1.5"/><circle cx="434.9" cy="187.7" r="2.85" fill="#fff" stroke="#000" stroke-width="1.5"/><circle cx="437.9" cy="189.2" r="2.85" fill="#fff" stroke="#000" stroke-width="1.5"/><circle cx="427.5" cy="186.2" r="2.85" fill="#fff" stroke="#000" stroke-width="1.5"/><circle cx="484.9" cy="184.0" r="2.85" fill="#fff" stroke="#000" stroke-width="1.5"/><circle cx="487.1" cy="186.2" r="2.85" fill="#fff" stroke="#000" stroke-width="1.5"/><circle cx="473.4" cy="188.4" r="2.85" fill="#fff" stroke="#000" stroke-width="1.5"/><circle cx="467.7" cy="192.9" r="2.85" fill="#fff" stroke="#000" stroke-width="1.5"/><circle cx="433.5" cy="192.2" r="2.85" fill="#fff" stroke="#000" stroke-width="1.5"/><circle cx="427.5" cy="196.6" r="2.85" fill="#fff" stroke="#000" stroke-width="1.5"/><circle cx="441.7" cy="195.9" r="2.85" fill="#fff" stroke="#000" stroke-width="1.5"/><circle cx="448.4" cy="198.1" r="2.85" fill="#fff" stroke="#000" stroke-width="1.5"/><circle cx="452.8" cy="198.9" r="2.85" fill="#fff" stroke="#000" stroke-width="1.5"/><circle cx="477.4" cy="198.9" r="2.85" fill="#fff" stroke="#000" stroke-width="1.5"/><circle cx="479.7" cy="204.8" r="2.85" fill="#fff" stroke="#000" stroke-width="1.5"/><circle cx="478.9" cy="208.9" r="2.85" fill="#fff" stroke="#000" stroke-width="1.5"/><circle cx="516.2" cy="197.1" r="2.85" fill="#fff" stroke="#000" stroke-width="1.5"/><circle cx="432.0" cy="202.6" r="2.85" fill="#fff" stroke="#000" stroke-width="1.5"/><circle cx="451.3" cy="208.6" r="2.85" fill="#fff" stroke="#000" stroke-width="1.5"/><circle cx="457.3" cy="211.5" r="2.85" fill="#fff" stroke="#000" stroke-width="1.5"/><circle cx="487.1" cy="212.0" r="2.85" fill="#fff" stroke="#000" stroke-width="1.5"/><circle cx="455.8" cy="216.2" r="2.85" fill="#fff" stroke="#000" stroke-width="1.5"/><circle cx="466.2" cy="216.9" r="2.85" fill="#fff" stroke="#000" stroke-width="1.5"/><circle cx="461.8" cy="216.2" r="2.85" fill="#fff" stroke="#000" stroke-width="1.5"/><circle cx="517.7" cy="216.9" r="2.85" fill="#fff" stroke="#000" stroke-width="1.5"/><circle cx="524.4" cy="220.7" r="2.85" fill="#fff" stroke="#000" stroke-width="1.5"/><circle cx="527.4" cy="223.6" r="2.85" fill="#fff" stroke="#000" stroke-width="1.5"/><circle cx="519.2" cy="224.1" r="2.85" fill="#fff" stroke="#000" stroke-width="1.5"/><circle cx="473.7" cy="223.6" r="2.85" fill="#fff" stroke="#000" stroke-width="1.5"/><circle cx="481.1" cy="223.2" r="2.85" fill="#fff" stroke="#000" stroke-width="1.5"/><circle cx="483.4" cy="227.7" r="2.85" fill="#fff" stroke="#000" stroke-width="1.5"/><circle cx="488.6" cy="224.4" r="2.85" fill="#fff" stroke="#000" stroke-width="1.5"/><circle cx="490.1" cy="228.8" r="2.85" fill="#fff" stroke="#000" stroke-width="1.5"/><circle cx="509.5" cy="228.1" r="2.85" fill="#fff" stroke="#000" stroke-width="1.5"/><circle cx="513.9" cy="233.3" r="2.85" fill="#fff" stroke="#000" stroke-width="1.5"/><circle cx="527.4" cy="236.3" r="2.85" fill="#fff" stroke="#000" stroke-width="1.5"/><circle cx="431.2" cy="220.7" r="2.85" fill="#fff" stroke="#000" stroke-width="1.5"/><circle cx="426.0" cy="219.9" r="2.85" fill="#fff" stroke="#000" stroke-width="1.5"/><circle cx="436.4" cy="215.4" r="2.85" fill="#fff" stroke="#000" stroke-width="1.5"/><circle cx="442.4" cy="218.4" r="2.85" fill="#fff" stroke="#000" stroke-width="1.5"/><circle cx="443.9" cy="217.7" r="2.85" fill="#fff" stroke="#000" stroke-width="1.5"/><circle cx="434.9" cy="221.4" r="2.85" fill="#fff" stroke="#000" stroke-width="1.5"/><circle cx="439.4" cy="224.4" r="2.85" fill="#fff" stroke="#000" stroke-width="1.5"/><circle cx="450.6" cy="222.9" r="2.85" fill="#fff" stroke="#000" stroke-width="1.5"/><circle cx="452.8" cy="219.9" r="2.85" fill="#fff" stroke="#000" stroke-width="1.5"/><circle cx="461.0" cy="222.9" r="2.85" fill="#fff" stroke="#000" stroke-width="1.5"/><circle cx="462.5" cy="225.9" r="2.85" fill="#fff" stroke="#000" stroke-width="1.5"/><circle cx="461.8" cy="229.6" r="2.85" fill="#fff" stroke="#000" stroke-width="1.5"/><circle cx="443.1" cy="225.9" r="2.85" fill="#fff" stroke="#000" stroke-width="1.5"/><circle cx="429.0" cy="228.8" r="2.85" fill="#fff" stroke="#000" stroke-width="1.5"/><circle cx="427.5" cy="233.3" r="2.85" fill="#fff" stroke="#000" stroke-width="1.5"/><circle cx="432.7" cy="229.6" r="2.85" fill="#fff" stroke="#000" stroke-width="1.5"/><circle cx="437.9" cy="230.3" r="2.85" fill="#fff" stroke="#000" stroke-width="1.5"/><circle cx="430.5" cy="234.8" r="2.85" fill="#fff" stroke="#000" stroke-width="1.5"/><circle cx="434.9" cy="234.1" r="2.85" fill="#fff" stroke="#000" stroke-width="1.5"/><circle cx="453.6" cy="236.3" r="2.85" fill="#fff" stroke="#000" stroke-width="1.5"/><circle cx="438.7" cy="240.0" r="2.85" fill="#fff" stroke="#000" stroke-width="1.5"/><circle cx="445.4" cy="239.3" r="2.85" fill="#fff" stroke="#000" stroke-width="1.5"/><circle cx="449.1" cy="241.5" r="2.85" fill="#fff" stroke="#000" stroke-width="1.5"/><circle cx="428.2" cy="240.0" r="2.85" fill="#fff" stroke="#000" stroke-width="1.5"/><circle cx="427.5" cy="244.5" r="2.85" fill="#fff" stroke="#000" stroke-width="1.5"/><circle cx="444.6" cy="244.5" r="2.85" fill="#fff" stroke="#000" stroke-width="1.5"/><circle cx="447.6" cy="248.2" r="2.85" fill="#fff" stroke="#000" stroke-width="1.5"/><circle cx="464.8" cy="248.2" r="2.85" fill="#fff" stroke="#000" stroke-width="1.5"/><circle cx="493.1" cy="243.5" r="2.85" fill="#fff" stroke="#000" stroke-width="1.5"/><circle cx="446.9" cy="253.4" r="2.85" fill="#fff" stroke="#000" stroke-width="1.5"/><circle cx="426.0" cy="255.7" r="2.85" fill="#fff" stroke="#000" stroke-width="1.5"/><circle cx="531.8" cy="250.5" r="2.85" fill="#fff" stroke="#000" stroke-width="1.5"/><circle cx="531.1" cy="253.4" r="2.85" fill="#fff" stroke="#000" stroke-width="1.5"/><circle cx="444.3" cy="181.3" r="2.85" fill="#fff" stroke="#000" stroke-width="1.5"/><circle cx="444.3" cy="206.8" r="2.85" fill="#fff" stroke="#000" stroke-width="1.5"/><circle cx="380.6" cy="216.9" r="2.85" fill="#fff" stroke="#000" stroke-width="1.5"/><circle cx="421.3" cy="215.7" r="2.85" fill="#fff" stroke="#000" stroke-width="1.5"/><circle cx="416.2" cy="220.8" r="2.85" fill="#fff" stroke="#000" stroke-width="1.5"/><circle cx="360.2" cy="223.3" r="2.85" fill="#fff" stroke="#000" stroke-width="1.5"/><circle cx="371.7" cy="224.6" r="2.85" fill="#fff" stroke="#000" stroke-width="1.5"/><circle cx="364.0" cy="236.1" r="2.85" fill="#fff" stroke="#000" stroke-width="1.5"/><circle cx="353.8" cy="233.5" r="2.85" fill="#fff" stroke="#000" stroke-width="1.5"/><circle cx="402.2" cy="244.3" r="2.85" fill="#fff" stroke="#000" stroke-width="1.5"/><circle cx="385.7" cy="253.2" r="2.85" fill="#fff" stroke="#000" stroke-width="1.5"/><circle cx="361.5" cy="256.4" r="2.85" fill="#fff" stroke="#000" stroke-width="1.5"/><circle cx="382.8" cy="241.0" r="2.85" fill="#fff" stroke="#000" stroke-width="1.5"/><circle cx="395.0" cy="242.5" r="2.85" fill="#fff" stroke="#000" stroke-width="1.5"/><circle cx="365.2" cy="254.8" r="2.85" fill="#fff" stroke="#000" stroke-width="1.5"/><circle cx="398.9" cy="247.1" r="2.85" fill="#fff" stroke="#000" stroke-width="1.5"/><circle cx="419.9" cy="47.2" r="4.0" fill="#f0df2c" stroke="#000" stroke-width="1.5"/><circle cx="395.7" cy="157.4" r="4.0" fill="#f0df2c" stroke="#000" stroke-width="1.5"/><circle cx="358.9" cy="166.5" r="4.0" fill="#f0df2c" stroke="#000" stroke-width="1.5"/><circle cx="410.1" cy="164.9" r="4.0" fill="#f0df2c" stroke="#000" stroke-width="1.5"/><circle cx="397.7" cy="213.9" r="4.0" fill="#f0df2c" stroke="#000" stroke-width="1.5"/><circle cx="396.9" cy="225.1" r="4.0" fill="#f0df2c" stroke="#000" stroke-width="1.5"/><circle cx="402.2" cy="230.3" r="4.0" fill="#f0df2c" stroke="#000" stroke-width="1.5"/><circle cx="363.4" cy="251.2" r="4.0" fill="#f0df2c" stroke="#000" stroke-width="1.5"/><circle cx="422.3" cy="251.2" r="4.0" fill="#f0df2c" stroke="#000" stroke-width="1.5"/><circle cx="417.8" cy="257.9" r="4.0" fill="#f0df2c" stroke="#000" stroke-width="1.5"/><circle cx="344.0" cy="266.1" r="4.0" fill="#f0df2c" stroke="#000" stroke-width="1.5"/><circle cx="437.6" cy="198.9" r="4.0" fill="#f0df2c" stroke="#000" stroke-width="1.5"/><circle cx="461.8" cy="201.9" r="4.0" fill="#f0df2c" stroke="#000" stroke-width="1.5"/><circle cx="500.1" cy="204.5" r="4.0" fill="#f0df2c" stroke="#000" stroke-width="1.5"/><circle cx="493.8" cy="216.6" r="4.0" fill="#f0df2c" stroke="#000" stroke-width="1.5"/><circle cx="502.0" cy="222.9" r="4.0" fill="#f0df2c" stroke="#000" stroke-width="1.5"/><circle cx="434.6" cy="246.0" r="4.0" fill="#f0df2c" stroke="#000" stroke-width="1.5"/></g>
<path d="M319.10,235.20 L322.66,234.38 L326.22,233.56 L329.78,232.74 L333.33,231.91 L336.89,231.09 L340.45,230.26 L344.01,229.43 L347.57,228.60 L351.12,227.76 L354.68,226.92 L358.24,226.08 L361.80,225.24 L365.36,224.39 L368.92,223.53 L372.48,222.67 L376.03,221.80 L379.59,220.93 L383.15,220.04 L386.71,219.14 L390.27,218.24 L393.83,217.31 L397.38,216.37 L400.94,215.42 L404.50,214.44 L408.06,213.44 L411.62,212.42 L415.18,211.37 L418.73,210.30 L422.29,209.20 L425.85,208.08 L429.41,206.94 L432.97,205.78 L436.53,204.60 L440.08,203.41 L443.64,202.20 L447.20,200.98 L450.76,199.75 L454.32,198.51 L457.88,197.26 L461.43,196.01 L464.99,194.75 L468.55,193.48 L472.11,192.21 L475.67,190.94 L479.23,189.67 L482.78,188.39 L486.34,187.11 L489.90,185.82 L493.46,184.54 L497.02,183.25 L500.58,181.96 L504.13,180.67 L507.69,179.37 L511.25,178.08 L514.81,176.79 L518.37,175.49 L521.92,174.19 L525.48,172.90 L529.04,171.60 L532.60,170.30 L532.60,187.90 L529.04,188.71 L525.48,189.53 L521.92,190.35 L518.37,191.16 L514.81,191.98 L511.25,192.80 L507.69,193.62 L504.13,194.44 L500.58,195.26 L497.02,196.09 L493.46,196.91 L489.90,197.74 L486.34,198.57 L482.78,199.40 L479.23,200.23 L475.67,201.07 L472.11,201.91 L468.55,202.76 L464.99,203.61 L461.43,204.46 L457.88,205.32 L454.32,206.18 L450.76,207.06 L447.20,207.94 L443.64,208.84 L440.08,209.74 L436.53,210.66 L432.97,211.59 L429.41,212.55 L425.85,213.52 L422.29,214.51 L418.73,215.53 L415.18,216.57 L411.62,217.64 L408.06,218.73 L404.50,219.84 L400.94,220.98 L397.38,222.13 L393.83,223.31 L390.27,224.50 L386.71,225.70 L383.15,226.92 L379.59,228.15 L376.03,229.39 L372.48,230.63 L368.92,231.88 L365.36,233.14 L361.80,234.40 L358.24,235.67 L354.68,236.94 L351.12,238.22 L347.57,239.50 L344.01,240.78 L340.45,242.06 L336.89,243.35 L333.33,244.63 L329.78,245.92 L326.22,247.21 L322.66,248.51 L319.10,249.80 Z" fill="none" stroke="#e01e16" stroke-width="2.15"/>
<path d="M319.1,242.5 L532.6,179.1" fill="none" stroke="#e01e16" stroke-width="4.0"/>
<rect x="308.5" y="33.7" width="234.60000000000002" height="246.3" fill="none" stroke="#000" stroke-width="2.2"/>
<line x1="361.6" y1="281" x2="361.6" y2="283.9" stroke="#000" stroke-width="1.6"/>
<text x="361.6" y="296.0" font-size="12.8" text-anchor="middle" fill="#1a1a1a">200</text>
<line x1="432.4" y1="281" x2="432.4" y2="283.9" stroke="#000" stroke-width="1.6"/>
<text x="432.4" y="296.0" font-size="12.8" text-anchor="middle" fill="#1a1a1a">400</text>
<line x1="503.2" y1="281" x2="503.2" y2="283.9" stroke="#000" stroke-width="1.6"/>
<text x="503.2" y="296.0" font-size="12.8" text-anchor="middle" fill="#1a1a1a">600</text>
<text x="317.44" y="50.2" font-size="13.3" fill="#1a1a1a">β</text>
<text x="328.64" y="50.2" font-size="13.3" fill="#1a1a1a">=</text>
<text x="339.29" y="50.2" font-size="13.3" fill="#1a1a1a">+0.418</text>
<text x="318.34" y="64.7" font-size="13.3" font-style="italic" fill="#1a1a1a">P</text>
<text x="329.64" y="64.7" font-size="13.3" fill="#1a1a1a">&lt;</text>
<text x="341.09" y="64.7" font-size="13.3" fill="#1a1a1a">0.0001</text>
<g><path d="M666.8,47.3 L673.8,47.3 L670.3,41.2 Z" fill="#fff" stroke="#000" stroke-width="1.5" stroke-linejoin="miter"/><path d="M756.0,91.9 L763.0,91.9 L759.5,85.8 Z" fill="#fff" stroke="#000" stroke-width="1.5" stroke-linejoin="miter"/><path d="M735.9,103.3 L742.9,103.3 L739.4,97.2 Z" fill="#fff" stroke="#000" stroke-width="1.5" stroke-linejoin="miter"/><path d="M670.9,98.2 L677.9,98.2 L674.4,92.1 Z" fill="#fff" stroke="#000" stroke-width="1.5" stroke-linejoin="miter"/><path d="M638.6,104.2 L645.6,104.2 L642.1,98.1 Z" fill="#fff" stroke="#000" stroke-width="1.5" stroke-linejoin="miter"/><path d="M594.9,108.7 L601.9,108.7 L598.4,102.6 Z" fill="#fff" stroke="#000" stroke-width="1.5" stroke-linejoin="miter"/><path d="M575.7,124.5 L582.7,124.5 L579.2,118.4 Z" fill="#fff" stroke="#000" stroke-width="1.5" stroke-linejoin="miter"/><path d="M679.0,131.4 L686.0,131.4 L682.5,125.3 Z" fill="#fff" stroke="#000" stroke-width="1.5" stroke-linejoin="miter"/><path d="M624.5,136.5 L631.5,136.5 L628.0,130.4 Z" fill="#fff" stroke="#000" stroke-width="1.5" stroke-linejoin="miter"/><path d="M618.3,142.5 L625.3,142.5 L621.8,136.4 Z" fill="#fff" stroke="#000" stroke-width="1.5" stroke-linejoin="miter"/><path d="M626.3,144.0 L633.3,144.0 L629.8,137.9 Z" fill="#fff" stroke="#000" stroke-width="1.5" stroke-linejoin="miter"/><path d="M574.5,146.1 L581.5,146.1 L578.0,140.0 Z" fill="#fff" stroke="#000" stroke-width="1.5" stroke-linejoin="miter"/><path d="M580.8,150.6 L587.8,150.6 L584.3,144.5 Z" fill="#fff" stroke="#000" stroke-width="1.5" stroke-linejoin="miter"/><path d="M586.5,150.6 L593.5,150.6 L590.0,144.5 Z" fill="#fff" stroke="#000" stroke-width="1.5" stroke-linejoin="miter"/><path d="M592.8,146.1 L599.8,146.1 L596.3,140.0 Z" fill="#fff" stroke="#000" stroke-width="1.5" stroke-linejoin="miter"/><path d="M633.2,148.5 L640.2,148.5 L636.7,142.4 Z" fill="#fff" stroke="#000" stroke-width="1.5" stroke-linejoin="miter"/><path d="M639.8,146.1 L646.8,146.1 L643.3,140.0 Z" fill="#fff" stroke="#000" stroke-width="1.5" stroke-linejoin="miter"/><path d="M658.1,144.3 L665.1,144.3 L661.6,138.2 Z" fill="#fff" stroke="#000" stroke-width="1.5" stroke-linejoin="miter"/><path d="M600.4,160.1 L607.4,160.1 L603.9,154.0 Z" fill="#fff" stroke="#000" stroke-width="1.5" stroke-linejoin="miter"/><path d="M608.1,157.6 L615.1,157.6 L611.6,151.5 Z" fill="#fff" stroke="#000" stroke-width="1.5" stroke-linejoin="miter"/><path d="M604.4,164.3 L611.4,164.3 L607.9,158.2 Z" fill="#fff" stroke="#000" stroke-width="1.5" stroke-linejoin="miter"/><path d="M585.0,165.1 L592.0,165.1 L588.5,159.0 Z" fill="#fff" stroke="#000" stroke-width="1.5" stroke-linejoin="miter"/><path d="M578.3,168.8 L585.3,168.8 L581.8,162.7 Z" fill="#fff" stroke="#000" stroke-width="1.5" stroke-linejoin="miter"/><path d="M570.8,170.3 L577.8,170.3 L574.3,164.2 Z" fill="#fff" stroke="#000" stroke-width="1.5" stroke-linejoin="miter"/><path d="M564.9,171.0 L571.9,171.0 L568.4,164.9 Z" fill="#fff" stroke="#000" stroke-width="1.5" stroke-linejoin="miter"/><path d="M590.2,170.3 L597.2,170.3 L593.7,164.2 Z" fill="#fff" stroke="#000" stroke-width="1.5" stroke-linejoin="miter"/><path d="M599.2,168.0 L606.2,168.0 L602.7,161.9 Z" fill="#fff" stroke="#000" stroke-width="1.5" stroke-linejoin="miter"/><path d="M605.1,170.3 L612.1,170.3 L608.6,164.2 Z" fill="#fff" stroke="#000" stroke-width="1.5" stroke-linejoin="miter"/><path d="M617.5,169.8 L624.5,169.8 L621.0,163.7 Z" fill="#fff" stroke="#000" stroke-width="1.5" stroke-linejoin="miter"/><path d="M633.4,165.8 L640.4,165.8 L636.9,159.7 Z" fill="#fff" stroke="#000" stroke-width="1.5" stroke-linejoin="miter"/><path d="M640.9,166.3 L647.9,166.3 L644.4,160.2 Z" fill="#fff" stroke="#000" stroke-width="1.5" stroke-linejoin="miter"/><path d="M648.3,164.3 L655.3,164.3 L651.8,158.2 Z" fill="#fff" stroke="#000" stroke-width="1.5" stroke-linejoin="miter"/><path d="M569.3,177.7 L576.3,177.7 L572.8,171.6 Z" fill="#fff" stroke="#000" stroke-width="1.5" stroke-linejoin="miter"/><path d="M577.5,175.5 L584.5,175.5 L581.0,169.4 Z" fill="#fff" stroke="#000" stroke-width="1.5" stroke-linejoin="miter"/><path d="M582.8,178.5 L589.8,178.5 L586.3,172.4 Z" fill="#fff" stroke="#000" stroke-width="1.5" stroke-linejoin="miter"/><path d="M594.7,175.5 L601.7,175.5 L598.2,169.4 Z" fill="#fff" stroke="#000" stroke-width="1.5" stroke-linejoin="miter"/><path d="M600.6,177.0 L607.6,177.0 L604.1,170.9 Z" fill="#fff" stroke="#000" stroke-width="1.5" stroke-linejoin="miter"/><path d="M627.5,176.2 L634.5,176.2 L631.0,170.1 Z" fill="#fff" stroke="#000" stroke-width="1.5" stroke-linejoin="miter"/><path d="M634.9,174.7 L641.9,174.7 L638.4,168.6 Z" fill="#fff" stroke="#000" stroke-width="1.5" stroke-linejoin="miter"/><path d="M555.9,185.2 L562.9,185.2 L559.4,179.1 Z" fill="#fff" stroke="#000" stroke-width="1.5" stroke-linejoin="miter"/><path d="M567.9,185.2 L574.9,185.2 L571.4,179.1 Z" fill="#fff" stroke="#000" stroke-width="1.5" stroke-linejoin="miter"/><path d="M574.6,185.9 L581.6,185.9 L578.1,179.8 Z" fill="#fff" stroke="#000" stroke-width="1.5" stroke-linejoin="miter"/><path d="M576.8,188.9 L583.8,188.9 L580.3,182.8 Z" fill="#fff" stroke="#000" stroke-width="1.5" stroke-linejoin="miter"/><path d="M593.2,182.2 L600.2,182.2 L596.7,176.1 Z" fill="#fff" stroke="#000" stroke-width="1.5" stroke-linejoin="miter"/><path d="M601.4,181.8 L608.4,181.8 L604.9,175.7 Z" fill="#fff" stroke="#000" stroke-width="1.5" stroke-linejoin="miter"/><path d="M643.1,182.2 L650.1,182.2 L646.6,176.1 Z" fill="#fff" stroke="#000" stroke-width="1.5" stroke-linejoin="miter"/><path d="M634.9,186.7 L641.9,186.7 L638.4,180.6 Z" fill="#fff" stroke="#000" stroke-width="1.5" stroke-linejoin="miter"/><path d="M570.8,191.1 L577.8,191.1 L574.3,185.0 Z" fill="#fff" stroke="#000" stroke-width="1.5" stroke-linejoin="miter"/><path d="M577.5,192.6 L584.5,192.6 L581.0,186.5 Z" fill="#fff" stroke="#000" stroke-width="1.5" stroke-linejoin="miter"/><path d="M585.0,191.1 L592.0,191.1 L588.5,185.0 Z" fill="#fff" stroke="#000" stroke-width="1.5" stroke-linejoin="miter"/><path d="M598.4,191.9 L605.4,191.9 L601.9,185.8 Z" fill="#fff" stroke="#000" stroke-width="1.5" stroke-linejoin="miter"/><path d="M567.9,195.6 L574.9,195.6 L571.4,189.5 Z" fill="#fff" stroke="#000" stroke-width="1.5" stroke-linejoin="miter"/><path d="M574.6,195.6 L581.6,195.6 L578.1,189.5 Z" fill="#fff" stroke="#000" stroke-width="1.5" stroke-linejoin="miter"/><path d="M587.2,195.6 L594.2,195.6 L590.7,189.5 Z" fill="#fff" stroke="#000" stroke-width="1.5" stroke-linejoin="miter"/><path d="M561.9,200.8 L568.9,200.8 L565.4,194.7 Z" fill="#fff" stroke="#000" stroke-width="1.5" stroke-linejoin="miter"/><path d="M640.1,201.6 L647.1,201.6 L643.6,195.5 Z" fill="#fff" stroke="#000" stroke-width="1.5" stroke-linejoin="miter"/><path d="M620.0,205.3 L627.0,205.3 L623.5,199.2 Z" fill="#fff" stroke="#000" stroke-width="1.5" stroke-linejoin="miter"/><path d="M626.7,208.3 L633.7,208.3 L630.2,202.2 Z" fill="#fff" stroke="#000" stroke-width="1.5" stroke-linejoin="miter"/><path d="M603.6,209.8 L610.6,209.8 L607.1,203.7 Z" fill="#fff" stroke="#000" stroke-width="1.5" stroke-linejoin="miter"/><path d="M619.3,212.8 L626.3,212.8 L622.8,206.7 Z" fill="#fff" stroke="#000" stroke-width="1.5" stroke-linejoin="miter"/><path d="M576.8,203.1 L583.8,203.1 L580.3,197.0 Z" fill="#fff" stroke="#000" stroke-width="1.5" stroke-linejoin="miter"/><path d="M596.9,214.4 L603.9,214.4 L600.4,208.3 Z" fill="#fff" stroke="#000" stroke-width="1.5" stroke-linejoin="miter"/><path d="M599.2,215.9 L606.2,215.9 L602.7,209.8 Z" fill="#fff" stroke="#000" stroke-width="1.5" stroke-linejoin="miter"/><path d="M566.4,211.4 L573.4,211.4 L569.9,205.3 Z" fill="#fff" stroke="#000" stroke-width="1.5" stroke-linejoin="miter"/><path d="M579.8,210.7 L586.8,210.7 L583.3,204.6 Z" fill="#fff" stroke="#000" stroke-width="1.5" stroke-linejoin="miter"/><path d="M651.3,216.6 L658.3,216.6 L654.8,210.5 Z" fill="#fff" stroke="#000" stroke-width="1.5" stroke-linejoin="miter"/><path d="M658.0,217.8 L665.0,217.8 L661.5,211.7 Z" fill="#fff" stroke="#000" stroke-width="1.5" stroke-linejoin="miter"/><path d="M573.1,221.1 L580.1,221.1 L576.6,215.0 Z" fill="#fff" stroke="#000" stroke-width="1.5" stroke-linejoin="miter"/><path d="M569.3,224.1 L576.3,224.1 L572.8,218.0 Z" fill="#fff" stroke="#000" stroke-width="1.5" stroke-linejoin="miter"/><path d="M578.3,223.4 L585.3,223.4 L581.8,217.3 Z" fill="#fff" stroke="#000" stroke-width="1.5" stroke-linejoin="miter"/><path d="M594.7,221.1 L601.7,221.1 L598.2,215.0 Z" fill="#fff" stroke="#000" stroke-width="1.5" stroke-linejoin="miter"/><path d="M601.4,221.9 L608.4,221.9 L604.9,215.8 Z" fill="#fff" stroke="#000" stroke-width="1.5" stroke-linejoin="miter"/><path d="M585.7,227.1 L592.7,227.1 L589.2,221.0 Z" fill="#fff" stroke="#000" stroke-width="1.5" stroke-linejoin="miter"/><path d="M590.2,222.6 L597.2,222.6 L593.7,216.5 Z" fill="#fff" stroke="#000" stroke-width="1.5" stroke-linejoin="miter"/><path d="M555.9,234.8 L562.9,234.8 L559.4,228.7 Z" fill="#fff" stroke="#000" stroke-width="1.5" stroke-linejoin="miter"/><path d="M566.4,228.6 L573.4,228.6 L569.9,222.5 Z" fill="#fff" stroke="#000" stroke-width="1.5" stroke-linejoin="miter"/><path d="M572.3,230.8 L579.3,230.8 L575.8,224.7 Z" fill="#fff" stroke="#000" stroke-width="1.5" stroke-linejoin="miter"/><path d="M579.0,231.5 L586.0,231.5 L582.5,225.4 Z" fill="#fff" stroke="#000" stroke-width="1.5" stroke-linejoin="miter"/><path d="M593.2,228.6 L600.2,228.6 L596.7,222.5 Z" fill="#fff" stroke="#000" stroke-width="1.5" stroke-linejoin="miter"/><path d="M599.9,229.3 L606.9,229.3 L603.4,223.2 Z" fill="#fff" stroke="#000" stroke-width="1.5" stroke-linejoin="miter"/><path d="M606.6,230.1 L613.6,230.1 L610.1,224.0 Z" fill="#fff" stroke="#000" stroke-width="1.5" stroke-linejoin="miter"/><path d="M616.3,229.3 L623.3,229.3 L619.8,223.2 Z" fill="#fff" stroke="#000" stroke-width="1.5" stroke-linejoin="miter"/><path d="M620.0,233.8 L627.0,233.8 L623.5,227.7 Z" fill="#fff" stroke="#000" stroke-width="1.5" stroke-linejoin="miter"/><path d="M626.0,232.3 L633.0,232.3 L629.5,226.2 Z" fill="#fff" stroke="#000" stroke-width="1.5" stroke-linejoin="miter"/><path d="M561.9,239.0 L568.9,239.0 L565.4,232.9 Z" fill="#fff" stroke="#000" stroke-width="1.5" stroke-linejoin="miter"/><path d="M570.8,236.8 L577.8,236.8 L574.3,230.7 Z" fill="#fff" stroke="#000" stroke-width="1.5" stroke-linejoin="miter"/><path d="M580.5,237.5 L587.5,237.5 L584.0,231.4 Z" fill="#fff" stroke="#000" stroke-width="1.5" stroke-linejoin="miter"/><path d="M588.7,238.3 L595.7,238.3 L592.2,232.2 Z" fill="#fff" stroke="#000" stroke-width="1.5" stroke-linejoin="miter"/><path d="M604.4,238.7 L611.4,238.7 L607.9,232.6 Z" fill="#fff" stroke="#000" stroke-width="1.5" stroke-linejoin="miter"/><path d="M613.3,236.0 L620.3,236.0 L616.8,229.9 Z" fill="#fff" stroke="#000" stroke-width="1.5" stroke-linejoin="miter"/><path d="M629.0,238.3 L636.0,238.3 L632.5,232.2 Z" fill="#fff" stroke="#000" stroke-width="1.5" stroke-linejoin="miter"/><path d="M628.2,241.2 L635.2,241.2 L631.7,235.1 Z" fill="#fff" stroke="#000" stroke-width="1.5" stroke-linejoin="miter"/><path d="M567.1,243.5 L574.1,243.5 L570.6,237.4 Z" fill="#fff" stroke="#000" stroke-width="1.5" stroke-linejoin="miter"/><path d="M573.8,245.7 L580.8,245.7 L577.3,239.6 Z" fill="#fff" stroke="#000" stroke-width="1.5" stroke-linejoin="miter"/><path d="M570.1,247.9 L577.1,247.9 L573.6,241.8 Z" fill="#fff" stroke="#000" stroke-width="1.5" stroke-linejoin="miter"/><path d="M576.8,242.7 L583.8,242.7 L580.3,236.6 Z" fill="#fff" stroke="#000" stroke-width="1.5" stroke-linejoin="miter"/><path d="M603.6,253.2 L610.6,253.2 L607.1,247.1 Z" fill="#fff" stroke="#000" stroke-width="1.5" stroke-linejoin="miter"/><path d="M566.4,271.0 L573.4,271.0 L569.9,264.9 Z" fill="#fff" stroke="#000" stroke-width="1.5" stroke-linejoin="miter"/><path d="M666.0,163.2 L673.0,163.2 L669.5,157.1 Z" fill="#fff" stroke="#000" stroke-width="1.5" stroke-linejoin="miter"/><path d="M717.3,154.5 L724.3,154.5 L720.8,148.4 Z" fill="#fff" stroke="#000" stroke-width="1.5" stroke-linejoin="miter"/><path d="M714.2,159.8 L721.2,159.8 L717.7,153.7 Z" fill="#fff" stroke="#000" stroke-width="1.5" stroke-linejoin="miter"/><path d="M713.1,173.0 L720.1,173.0 L716.6,166.9 Z" fill="#fff" stroke="#000" stroke-width="1.5" stroke-linejoin="miter"/><path d="M730.0,174.0 L737.0,174.0 L733.5,167.9 Z" fill="#fff" stroke="#000" stroke-width="1.5" stroke-linejoin="miter"/><path d="M690.5,184.6 L697.5,184.6 L694.0,178.5 Z" fill="#fff" stroke="#000" stroke-width="1.5" stroke-linejoin="miter"/><path d="M702.3,181.4 L709.3,181.4 L705.8,175.3 Z" fill="#fff" stroke="#000" stroke-width="1.5" stroke-linejoin="miter"/><path d="M699.9,186.1 L706.9,186.1 L703.4,180.0 Z" fill="#fff" stroke="#000" stroke-width="1.5" stroke-linejoin="miter"/><path d="M667.6,194.8 L674.6,194.8 L671.1,188.7 Z" fill="#fff" stroke="#000" stroke-width="1.5" stroke-linejoin="miter"/><path d="M688.9,203.5 L695.9,203.5 L692.4,197.4 Z" fill="#fff" stroke="#000" stroke-width="1.5" stroke-linejoin="miter"/><path d="M697.6,204.8 L704.6,204.8 L701.1,198.7 Z" fill="#fff" stroke="#000" stroke-width="1.5" stroke-linejoin="miter"/><path d="M672.3,213.0 L679.3,213.0 L675.8,206.9 Z" fill="#fff" stroke="#000" stroke-width="1.5" stroke-linejoin="miter"/><path d="M669.1,216.2 L676.1,216.2 L672.6,210.1 Z" fill="#fff" stroke="#000" stroke-width="1.5" stroke-linejoin="miter"/><path d="M676.2,220.9 L683.2,220.9 L679.7,214.8 Z" fill="#fff" stroke="#000" stroke-width="1.5" stroke-linejoin="miter"/><path d="M663.6,215.4 L670.6,215.4 L667.1,209.3 Z" fill="#fff" stroke="#000" stroke-width="1.5" stroke-linejoin="miter"/><path d="M766.8,213.8 L773.8,213.8 L770.3,207.7 Z" fill="#fff" stroke="#000" stroke-width="1.5" stroke-linejoin="miter"/><path d="M747.0,223.3 L754.0,223.3 L750.5,217.2 Z" fill="#fff" stroke="#000" stroke-width="1.5" stroke-linejoin="miter"/><path d="M769.5,232.0 L776.5,232.0 L773.0,225.9 Z" fill="#fff" stroke="#000" stroke-width="1.5" stroke-linejoin="miter"/><path d="M749.7,237.5 L756.7,237.5 L753.2,231.4 Z" fill="#fff" stroke="#000" stroke-width="1.5" stroke-linejoin="miter"/><path d="M566.4,204.9 L573.4,204.9 L569.9,198.8 Z" fill="#fff" stroke="#000" stroke-width="1.5" stroke-linejoin="miter"/><path d="M572.2,202.5 L579.2,202.5 L575.7,196.4 Z" fill="#fff" stroke="#000" stroke-width="1.5" stroke-linejoin="miter"/><path d="M580.3,201.4 L587.3,201.4 L583.8,195.3 Z" fill="#fff" stroke="#000" stroke-width="1.5" stroke-linejoin="miter"/><path d="M584.9,203.7 L591.9,203.7 L588.4,197.6 Z" fill="#fff" stroke="#000" stroke-width="1.5" stroke-linejoin="miter"/><path d="M560.6,213.0 L567.6,213.0 L564.1,206.9 Z" fill="#fff" stroke="#000" stroke-width="1.5" stroke-linejoin="miter"/><path d="M575.6,208.3 L582.6,208.3 L579.1,202.2 Z" fill="#fff" stroke="#000" stroke-width="1.5" stroke-linejoin="miter"/><path d="M583.8,209.5 L590.8,209.5 L587.3,203.4 Z" fill="#fff" stroke="#000" stroke-width="1.5" stroke-linejoin="miter"/><path d="M568.7,217.6 L575.7,217.6 L572.2,211.5 Z" fill="#fff" stroke="#000" stroke-width="1.5" stroke-linejoin="miter"/><path d="M581.4,214.1 L588.4,214.1 L584.9,208.0 Z" fill="#fff" stroke="#000" stroke-width="1.5" stroke-linejoin="miter"/><path d="M598.8,202.5 L605.8,202.5 L602.3,196.4 Z" fill="#fff" stroke="#000" stroke-width="1.5" stroke-linejoin="miter"/><path d="M603.5,203.7 L610.5,203.7 L607.0,197.6 Z" fill="#fff" stroke="#000" stroke-width="1.5" stroke-linejoin="miter"/><path d="M610.4,202.5 L617.4,202.5 L613.9,196.4 Z" fill="#fff" stroke="#000" stroke-width="1.5" stroke-linejoin="miter"/><path d="M600.0,213.0 L607.0,213.0 L603.5,206.9 Z" fill="#fff" stroke="#000" stroke-width="1.5" stroke-linejoin="miter"/><path d="M603.5,217.6 L610.5,217.6 L607.0,211.5 Z" fill="#fff" stroke="#000" stroke-width="1.5" stroke-linejoin="miter"/><path d="M583.8,230.4 L590.8,230.4 L587.3,224.3 Z" fill="#fff" stroke="#000" stroke-width="1.5" stroke-linejoin="miter"/><path d="M574.5,237.3 L581.5,237.3 L578.0,231.2 Z" fill="#fff" stroke="#000" stroke-width="1.5" stroke-linejoin="miter"/><path d="M568.7,233.8 L575.7,233.8 L572.2,227.7 Z" fill="#fff" stroke="#000" stroke-width="1.5" stroke-linejoin="miter"/><path d="M591.9,225.7 L598.9,225.7 L595.4,219.6 Z" fill="#fff" stroke="#000" stroke-width="1.5" stroke-linejoin="miter"/><path d="M605.8,226.9 L612.8,226.9 L609.3,220.8 Z" fill="#fff" stroke="#000" stroke-width="1.5" stroke-linejoin="miter"/><path d="M624.3,203.7 L631.3,203.7 L627.8,197.6 Z" fill="#fff" stroke="#000" stroke-width="1.5" stroke-linejoin="miter"/><path d="M581.4,196.7 L588.4,196.7 L584.9,190.6 Z" fill="#fff" stroke="#000" stroke-width="1.5" stroke-linejoin="miter"/><path d="M606.1,190.6 L615.7,190.6 L610.9,182.6 Z" fill="#f0df2c" stroke="#000" stroke-width="1.5" stroke-linejoin="miter"/><path d="M626.9,192.0 L636.5,192.0 L631.7,184.0 Z" fill="#f0df2c" stroke="#000" stroke-width="1.5" stroke-linejoin="miter"/><path d="M623.9,222.0 L633.5,222.0 L628.7,214.0 Z" fill="#f0df2c" stroke="#000" stroke-width="1.5" stroke-linejoin="miter"/><path d="M637.4,222.3 L647.0,222.3 L642.2,214.3 Z" fill="#f0df2c" stroke="#000" stroke-width="1.5" stroke-linejoin="miter"/><path d="M583.7,245.1 L593.3,245.1 L588.5,237.1 Z" fill="#f0df2c" stroke="#000" stroke-width="1.5" stroke-linejoin="miter"/><path d="M612.8,246.6 L622.4,246.6 L617.6,238.6 Z" fill="#f0df2c" stroke="#000" stroke-width="1.5" stroke-linejoin="miter"/><path d="M586.7,256.3 L596.3,256.3 L591.5,248.3 Z" fill="#f0df2c" stroke="#000" stroke-width="1.5" stroke-linejoin="miter"/><path d="M599.3,257.0 L608.9,257.0 L604.1,249.0 Z" fill="#f0df2c" stroke="#000" stroke-width="1.5" stroke-linejoin="miter"/><path d="M661.5,221.3 L671.1,221.3 L666.3,213.3 Z" fill="#f0df2c" stroke="#000" stroke-width="1.5" stroke-linejoin="miter"/></g>
<path d="M560.20,201.70 L563.75,201.20 L567.30,200.69 L570.85,200.18 L574.39,199.65 L577.94,199.11 L581.49,198.57 L585.04,198.00 L588.59,197.43 L592.13,196.83 L595.68,196.21 L599.23,195.57 L602.78,194.90 L606.33,194.20 L609.88,193.47 L613.43,192.70 L616.97,191.89 L620.52,191.05 L624.07,190.17 L627.62,189.24 L631.17,188.29 L634.72,187.30 L638.26,186.28 L641.81,185.24 L645.36,184.17 L648.91,183.08 L652.46,181.97 L656.00,180.85 L659.55,179.71 L663.10,178.56 L666.65,177.40 L670.20,176.24 L673.75,175.06 L677.30,173.88 L680.84,172.69 L684.39,171.50 L687.94,170.30 L691.49,169.10 L695.04,167.89 L698.59,166.68 L702.13,165.47 L705.68,164.26 L709.23,163.04 L712.78,161.82 L716.33,160.60 L719.88,159.38 L723.42,158.15 L726.97,156.93 L730.52,155.70 L734.07,154.47 L737.62,153.24 L741.17,152.01 L744.71,150.78 L748.26,149.55 L751.81,148.31 L755.36,147.08 L758.91,145.84 L762.46,144.61 L766.00,143.37 L769.55,142.14 L773.10,140.90 L773.10,177.50 L769.55,177.94 L766.00,178.39 L762.46,178.84 L758.91,179.28 L755.36,179.73 L751.81,180.18 L748.26,180.62 L744.71,181.07 L741.17,181.52 L737.62,181.98 L734.07,182.43 L730.52,182.88 L726.97,183.34 L723.42,183.79 L719.88,184.25 L716.33,184.71 L712.78,185.17 L709.23,185.63 L705.68,186.10 L702.13,186.56 L698.59,187.03 L695.04,187.51 L691.49,187.98 L687.94,188.46 L684.39,188.94 L680.84,189.43 L677.30,189.93 L673.75,190.43 L670.20,190.93 L666.65,191.45 L663.10,191.97 L659.55,192.50 L656.00,193.05 L652.46,193.61 L648.91,194.18 L645.36,194.77 L641.81,195.39 L638.26,196.02 L634.72,196.69 L631.17,197.38 L627.62,198.10 L624.07,198.86 L620.52,199.66 L616.97,200.50 L613.43,201.37 L609.88,202.29 L606.33,203.24 L602.78,204.22 L599.23,205.23 L595.68,206.27 L592.13,207.33 L588.59,208.42 L585.04,209.52 L581.49,210.64 L577.94,211.78 L574.39,212.92 L570.85,214.08 L567.30,215.25 L563.75,216.42 L560.20,217.60 Z" fill="none" stroke="#3bb91b" stroke-width="2.15"/>
<path d="M560.2,209.65 L773.1,159.2" fill="none" stroke="#3bb91b" stroke-width="4.0"/>
<rect x="549.2" y="33.7" width="235.0999999999999" height="246.3" fill="none" stroke="#000" stroke-width="2.2"/>
<line x1="598.7" y1="281" x2="598.7" y2="283.9" stroke="#000" stroke-width="1.6"/>
<text x="598.7" y="296.0" font-size="12.8" text-anchor="middle" fill="#1a1a1a">300</text>
<line x1="654.5" y1="281" x2="654.5" y2="283.9" stroke="#000" stroke-width="1.6"/>
<text x="654.5" y="296.0" font-size="12.8" text-anchor="middle" fill="#1a1a1a">400</text>
<line x1="709.2" y1="281" x2="709.2" y2="283.9" stroke="#000" stroke-width="1.6"/>
<text x="709.2" y="296.0" font-size="12.8" text-anchor="middle" fill="#1a1a1a">500</text>
<line x1="764.1" y1="281" x2="764.1" y2="283.9" stroke="#000" stroke-width="1.6"/>
<text x="764.1" y="296.0" font-size="12.8" text-anchor="middle" fill="#1a1a1a">600</text>
<text x="560.46" y="50.2" font-size="13.3" fill="#1a1a1a">β</text>
<text x="571.66" y="50.2" font-size="13.3" fill="#1a1a1a">=</text>
<text x="582.31" y="50.2" font-size="13.3" fill="#1a1a1a">+0.255</text>
<text x="561.36" y="64.7" font-size="13.3" font-style="italic" fill="#1a1a1a">P</text>
<text x="572.66" y="64.7" font-size="13.3" fill="#1a1a1a">=</text>
<text x="584.11" y="64.7" font-size="13.3" fill="#1a1a1a">0.0005</text>
<line x1="64.6" y1="42.1" x2="67.5" y2="42.1" stroke="#000" stroke-width="1.6"/>
<text x="61.2" y="47.1" font-size="12.8" text-anchor="end" fill="#1a1a1a">15000</text>
<line x1="64.6" y1="122" x2="67.5" y2="122" stroke="#000" stroke-width="1.6"/>
<text x="61.2" y="127.0" font-size="12.8" text-anchor="end" fill="#1a1a1a">10000</text>
<line x1="64.6" y1="202.1" x2="67.5" y2="202.1" stroke="#000" stroke-width="1.6"/>
<text x="61.2" y="207.1" font-size="12.8" text-anchor="end" fill="#1a1a1a">5000</text>
<text transform="translate(16.2,228.5) rotate(-90)" font-size="14.75" font-weight="bold">CSF sTREM2</text>
<text transform="translate(16.6,128.8) rotate(-90)" font-size="11.45" fill="#1a1a1a">(pg/ml)</text>
<g><rect x="116.6" y="491.7" width="5.0" height="5.0" fill="#fff" stroke="#000" stroke-width="1.5"/><rect x="137.0" y="490.3" width="5.0" height="5.0" fill="#fff" stroke="#000" stroke-width="1.5"/><rect x="172.5" y="490.0" width="5.0" height="5.0" fill="#fff" stroke="#000" stroke-width="1.5"/><rect x="116.2" y="511.3" width="5.0" height="5.0" fill="#fff" stroke="#000" stroke-width="1.5"/><rect x="176.5" y="508.6" width="5.0" height="5.0" fill="#fff" stroke="#000" stroke-width="1.5"/><rect x="179.1" y="514.2" width="5.0" height="5.0" fill="#fff" stroke="#000" stroke-width="1.5"/><rect x="154.5" y="521.3" width="5.0" height="5.0" fill="#fff" stroke="#000" stroke-width="1.5"/><rect x="164.6" y="519.0" width="5.0" height="5.0" fill="#fff" stroke="#000" stroke-width="1.5"/><rect x="169.5" y="518.6" width="5.0" height="5.0" fill="#fff" stroke="#000" stroke-width="1.5"/><rect x="172.5" y="526.0" width="5.0" height="5.0" fill="#fff" stroke="#000" stroke-width="1.5"/><rect x="152.7" y="529.0" width="5.0" height="5.0" fill="#fff" stroke="#000" stroke-width="1.5"/><rect x="157.2" y="534.7" width="5.0" height="5.0" fill="#fff" stroke="#000" stroke-width="1.5"/><rect x="137.0" y="535.1" width="5.0" height="5.0" fill="#fff" stroke="#000" stroke-width="1.5"/><rect x="137.0" y="541.4" width="5.0" height="5.0" fill="#fff" stroke="#000" stroke-width="1.5"/><rect x="167.6" y="537.2" width="5.0" height="5.0" fill="#fff" stroke="#000" stroke-width="1.5"/><rect x="178.8" y="538.8" width="5.0" height="5.0" fill="#fff" stroke="#000" stroke-width="1.5"/><rect x="178.8" y="545.1" width="5.0" height="5.0" fill="#fff" stroke="#000" stroke-width="1.5"/><rect x="121.4" y="551.8" width="5.0" height="5.0" fill="#fff" stroke="#000" stroke-width="1.5"/><rect x="122.9" y="558.5" width="5.0" height="5.0" fill="#fff" stroke="#000" stroke-width="1.5"/><rect x="139.6" y="553.3" width="5.0" height="5.0" fill="#fff" stroke="#000" stroke-width="1.5"/><rect x="81.9" y="558.2" width="5.0" height="5.0" fill="#fff" stroke="#000" stroke-width="1.5"/><rect x="93.5" y="565.2" width="5.0" height="5.0" fill="#fff" stroke="#000" stroke-width="1.5"/><rect x="81.9" y="569.0" width="5.0" height="5.0" fill="#fff" stroke="#000" stroke-width="1.5"/><rect x="75.9" y="573.1" width="5.0" height="5.0" fill="#fff" stroke="#000" stroke-width="1.5"/><rect x="98.3" y="576.1" width="5.0" height="5.0" fill="#fff" stroke="#000" stroke-width="1.5"/><rect x="108.7" y="570.7" width="5.0" height="5.0" fill="#fff" stroke="#000" stroke-width="1.5"/><rect x="120.6" y="571.2" width="5.0" height="5.0" fill="#fff" stroke="#000" stroke-width="1.5"/><rect x="127.4" y="566.0" width="5.0" height="5.0" fill="#fff" stroke="#000" stroke-width="1.5"/><rect x="134.8" y="572.7" width="5.0" height="5.0" fill="#fff" stroke="#000" stroke-width="1.5"/><rect x="134.8" y="559.7" width="5.0" height="5.0" fill="#fff" stroke="#000" stroke-width="1.5"/><rect x="140.0" y="560.8" width="5.0" height="5.0" fill="#fff" stroke="#000" stroke-width="1.5"/><rect x="144.5" y="561.2" width="5.0" height="5.0" fill="#fff" stroke="#000" stroke-width="1.5"/><rect x="148.2" y="571.2" width="5.0" height="5.0" fill="#fff" stroke="#000" stroke-width="1.5"/><rect x="154.9" y="548.1" width="5.0" height="5.0" fill="#fff" stroke="#000" stroke-width="1.5"/><rect x="154.9" y="554.0" width="5.0" height="5.0" fill="#fff" stroke="#000" stroke-width="1.5"/><rect x="160.9" y="551.1" width="5.0" height="5.0" fill="#fff" stroke="#000" stroke-width="1.5"/><rect x="163.9" y="558.5" width="5.0" height="5.0" fill="#fff" stroke="#000" stroke-width="1.5"/><rect x="157.9" y="562.2" width="5.0" height="5.0" fill="#fff" stroke="#000" stroke-width="1.5"/><rect x="161.6" y="564.5" width="5.0" height="5.0" fill="#fff" stroke="#000" stroke-width="1.5"/><rect x="170.6" y="555.5" width="5.0" height="5.0" fill="#fff" stroke="#000" stroke-width="1.5"/><rect x="172.1" y="554.0" width="5.0" height="5.0" fill="#fff" stroke="#000" stroke-width="1.5"/><rect x="169.8" y="546.6" width="5.0" height="5.0" fill="#fff" stroke="#000" stroke-width="1.5"/><rect x="170.6" y="572.7" width="5.0" height="5.0" fill="#fff" stroke="#000" stroke-width="1.5"/><rect x="174.3" y="570.4" width="5.0" height="5.0" fill="#fff" stroke="#000" stroke-width="1.5"/><rect x="166.9" y="580.4" width="5.0" height="5.0" fill="#fff" stroke="#000" stroke-width="1.5"/><rect x="114.7" y="581.6" width="5.0" height="5.0" fill="#fff" stroke="#000" stroke-width="1.5"/><rect x="116.9" y="583.9" width="5.0" height="5.0" fill="#fff" stroke="#000" stroke-width="1.5"/><rect x="121.4" y="579.1" width="5.0" height="5.0" fill="#fff" stroke="#000" stroke-width="1.5"/><rect x="148.2" y="585.3" width="5.0" height="5.0" fill="#fff" stroke="#000" stroke-width="1.5"/><rect x="179.8" y="435.6" width="5.0" height="5.0" fill="#fff" stroke="#000" stroke-width="1.5"/><rect x="283.5" y="459.5" width="5.0" height="5.0" fill="#fff" stroke="#000" stroke-width="1.5"/><rect x="256.8" y="473.2" width="5.0" height="5.0" fill="#fff" stroke="#000" stroke-width="1.5"/><rect x="188.4" y="483.0" width="5.0" height="5.0" fill="#fff" stroke="#000" stroke-width="1.5"/><rect x="201.0" y="491.5" width="5.0" height="5.0" fill="#fff" stroke="#000" stroke-width="1.5"/><rect x="208.6" y="500.3" width="5.0" height="5.0" fill="#fff" stroke="#000" stroke-width="1.5"/><rect x="214.8" y="504.1" width="5.0" height="5.0" fill="#fff" stroke="#000" stroke-width="1.5"/><rect x="202.4" y="507.3" width="5.0" height="5.0" fill="#fff" stroke="#000" stroke-width="1.5"/><rect x="238.1" y="500.7" width="5.0" height="5.0" fill="#fff" stroke="#000" stroke-width="1.5"/><rect x="246.8" y="507.9" width="5.0" height="5.0" fill="#fff" stroke="#000" stroke-width="1.5"/><rect x="248.7" y="511.1" width="5.0" height="5.0" fill="#fff" stroke="#000" stroke-width="1.5"/><rect x="260.9" y="503.7" width="5.0" height="5.0" fill="#fff" stroke="#000" stroke-width="1.5"/><rect x="265.1" y="502.6" width="5.0" height="5.0" fill="#fff" stroke="#000" stroke-width="1.5"/><rect x="270.7" y="513.5" width="5.0" height="5.0" fill="#fff" stroke="#000" stroke-width="1.5"/><rect x="274.5" y="518.2" width="5.0" height="5.0" fill="#fff" stroke="#000" stroke-width="1.5"/><rect x="278.2" y="524.8" width="5.0" height="5.0" fill="#fff" stroke="#000" stroke-width="1.5"/><rect x="186.0" y="514.5" width="5.0" height="5.0" fill="#fff" stroke="#000" stroke-width="1.5"/><rect x="186.0" y="516.4" width="5.0" height="5.0" fill="#fff" stroke="#000" stroke-width="1.5"/><rect x="191.1" y="516.0" width="5.0" height="5.0" fill="#fff" stroke="#000" stroke-width="1.5"/><rect x="208.0" y="519.2" width="5.0" height="5.0" fill="#fff" stroke="#000" stroke-width="1.5"/><rect x="220.8" y="519.7" width="5.0" height="5.0" fill="#fff" stroke="#000" stroke-width="1.5"/><rect x="234.0" y="521.1" width="5.0" height="5.0" fill="#fff" stroke="#000" stroke-width="1.5"/><rect x="238.7" y="514.1" width="5.0" height="5.0" fill="#fff" stroke="#000" stroke-width="1.5"/><rect x="250.9" y="522.0" width="5.0" height="5.0" fill="#fff" stroke="#000" stroke-width="1.5"/><rect x="252.8" y="524.8" width="5.0" height="5.0" fill="#fff" stroke="#000" stroke-width="1.5"/><rect x="258.5" y="523.9" width="5.0" height="5.0" fill="#fff" stroke="#000" stroke-width="1.5"/><rect x="263.7" y="522.6" width="5.0" height="5.0" fill="#fff" stroke="#000" stroke-width="1.5"/><rect x="193.5" y="525.2" width="5.0" height="5.0" fill="#fff" stroke="#000" stroke-width="1.5"/><rect x="206.1" y="530.5" width="5.0" height="5.0" fill="#fff" stroke="#000" stroke-width="1.5"/><rect x="191.6" y="535.2" width="5.0" height="5.0" fill="#fff" stroke="#000" stroke-width="1.5"/><rect x="184.1" y="537.1" width="5.0" height="5.0" fill="#fff" stroke="#000" stroke-width="1.5"/><rect x="217.0" y="534.2" width="5.0" height="5.0" fill="#fff" stroke="#000" stroke-width="1.5"/><rect x="246.2" y="529.5" width="5.0" height="5.0" fill="#fff" stroke="#000" stroke-width="1.5"/><rect x="276.4" y="531.8" width="5.0" height="5.0" fill="#fff" stroke="#000" stroke-width="1.5"/><rect x="289.3" y="536.1" width="5.0" height="5.0" fill="#fff" stroke="#000" stroke-width="1.5"/><rect x="201.0" y="540.8" width="5.0" height="5.0" fill="#fff" stroke="#000" stroke-width="1.5"/><rect x="200.1" y="546.5" width="5.0" height="5.0" fill="#fff" stroke="#000" stroke-width="1.5"/><rect x="205.7" y="549.3" width="5.0" height="5.0" fill="#fff" stroke="#000" stroke-width="1.5"/><rect x="203.9" y="554.0" width="5.0" height="5.0" fill="#fff" stroke="#000" stroke-width="1.5"/><rect x="218.0" y="544.6" width="5.0" height="5.0" fill="#fff" stroke="#000" stroke-width="1.5"/><rect x="219.9" y="549.3" width="5.0" height="5.0" fill="#fff" stroke="#000" stroke-width="1.5"/><rect x="218.0" y="554.0" width="5.0" height="5.0" fill="#fff" stroke="#000" stroke-width="1.5"/><rect x="227.4" y="545.5" width="5.0" height="5.0" fill="#fff" stroke="#000" stroke-width="1.5"/><rect x="233.4" y="544.6" width="5.0" height="5.0" fill="#fff" stroke="#000" stroke-width="1.5"/><rect x="239.6" y="542.1" width="5.0" height="5.0" fill="#fff" stroke="#000" stroke-width="1.5"/><rect x="246.2" y="539.9" width="5.0" height="5.0" fill="#fff" stroke="#000" stroke-width="1.5"/><rect x="253.2" y="541.4" width="5.0" height="5.0" fill="#fff" stroke="#000" stroke-width="1.5"/><rect x="253.8" y="547.4" width="5.0" height="5.0" fill="#fff" stroke="#000" stroke-width="1.5"/><rect x="257.5" y="537.1" width="5.0" height="5.0" fill="#fff" stroke="#000" stroke-width="1.5"/><rect x="185.0" y="552.1" width="5.0" height="5.0" fill="#fff" stroke="#000" stroke-width="1.5"/><rect x="194.1" y="555.0" width="5.0" height="5.0" fill="#fff" stroke="#000" stroke-width="1.5"/><rect x="212.3" y="559.7" width="5.0" height="5.0" fill="#fff" stroke="#000" stroke-width="1.5"/><rect x="216.1" y="559.7" width="5.0" height="5.0" fill="#fff" stroke="#000" stroke-width="1.5"/><rect x="235.5" y="559.1" width="5.0" height="5.0" fill="#fff" stroke="#000" stroke-width="1.5"/><rect x="252.8" y="555.9" width="5.0" height="5.0" fill="#fff" stroke="#000" stroke-width="1.5"/><rect x="280.1" y="552.3" width="5.0" height="5.0" fill="#fff" stroke="#000" stroke-width="1.5"/><rect x="196.3" y="568.1" width="5.0" height="5.0" fill="#fff" stroke="#000" stroke-width="1.5"/><rect x="208.6" y="565.3" width="5.0" height="5.0" fill="#fff" stroke="#000" stroke-width="1.5"/><rect x="211.4" y="569.1" width="5.0" height="5.0" fill="#fff" stroke="#000" stroke-width="1.5"/><rect x="216.1" y="565.3" width="5.0" height="5.0" fill="#fff" stroke="#000" stroke-width="1.5"/><rect x="236.2" y="569.4" width="5.0" height="5.0" fill="#fff" stroke="#000" stroke-width="1.5"/><rect x="284.1" y="565.3" width="5.0" height="5.0" fill="#fff" stroke="#000" stroke-width="1.5"/><rect x="122.1" y="584.2" width="6.6" height="6.6" fill="#f0df2c" stroke="#000" stroke-width="1.5"/><rect x="224.3" y="508.4" width="6.6" height="6.6" fill="#f0df2c" stroke="#000" stroke-width="1.5"/><rect x="251.6" y="552.6" width="6.6" height="6.6" fill="#f0df2c" stroke="#000" stroke-width="1.5"/><rect x="200.2" y="563.6" width="6.6" height="6.6" fill="#f0df2c" stroke="#000" stroke-width="1.5"/><rect x="200.8" y="572.0" width="6.6" height="6.6" fill="#f0df2c" stroke="#000" stroke-width="1.5"/><rect x="271.4" y="567.3" width="6.6" height="6.6" fill="#f0df2c" stroke="#000" stroke-width="1.5"/></g>
<path d="M78.30,553.85 L81.86,553.47 L85.43,553.08 L88.99,552.69 L92.55,552.30 L96.12,551.91 L99.68,551.52 L103.24,551.12 L106.81,550.73 L110.37,550.33 L113.93,549.92 L117.50,549.52 L121.06,549.11 L124.62,548.69 L128.19,548.28 L131.75,547.86 L135.31,547.43 L138.88,547.00 L142.44,546.56 L146.00,546.11 L149.57,545.66 L153.13,545.20 L156.69,544.72 L160.26,544.24 L163.82,543.75 L167.38,543.24 L170.95,542.72 L174.51,542.19 L178.07,541.63 L181.64,541.06 L185.20,540.47 L188.76,539.86 L192.33,539.23 L195.89,538.58 L199.45,537.90 L203.02,537.21 L206.58,536.49 L210.14,535.75 L213.71,534.99 L217.27,534.21 L220.83,533.41 L224.40,532.60 L227.96,531.77 L231.52,530.93 L235.09,530.08 L238.65,529.21 L242.21,528.33 L245.78,527.45 L249.34,526.55 L252.90,525.65 L256.47,524.74 L260.03,523.83 L263.59,522.91 L267.16,521.98 L270.72,521.05 L274.28,520.12 L277.85,519.18 L281.41,518.24 L284.97,517.30 L288.54,516.35 L292.10,515.40 L292.10,534.40 L288.54,534.80 L284.97,535.20 L281.41,535.60 L277.85,536.01 L274.28,536.41 L270.72,536.83 L267.16,537.24 L263.59,537.67 L260.03,538.09 L256.47,538.52 L252.90,538.96 L249.34,539.41 L245.78,539.86 L242.21,540.32 L238.65,540.79 L235.09,541.27 L231.52,541.76 L227.96,542.27 L224.40,542.79 L220.83,543.32 L217.27,543.87 L213.71,544.44 L210.14,545.02 L206.58,545.63 L203.02,546.26 L199.45,546.91 L195.89,547.58 L192.33,548.28 L188.76,548.99 L185.20,549.73 L181.64,550.48 L178.07,551.26 L174.51,552.05 L170.95,552.87 L167.38,553.69 L163.82,554.53 L160.26,555.39 L156.69,556.25 L153.13,557.12 L149.57,558.01 L146.00,558.90 L142.44,559.80 L138.88,560.71 L135.31,561.63 L131.75,562.54 L128.19,563.47 L124.62,564.40 L121.06,565.33 L117.50,566.27 L113.93,567.21 L110.37,568.15 L106.81,569.10 L103.24,570.05 L99.68,571.00 L96.12,571.95 L92.55,572.91 L88.99,573.87 L85.43,574.83 L81.86,575.79 L78.30,576.75 Z" fill="none" stroke="#17a5d8" stroke-width="2.15"/>
<path d="M78.3,565.3 L292.1,524.9" fill="none" stroke="#17a5d8" stroke-width="4.0"/>
<rect x="68.1" y="353.1" width="234.29999999999998" height="246.5" fill="none" stroke="#000" stroke-width="2.2"/>
<line x1="84.2" y1="600.6" x2="84.2" y2="603.5" stroke="#000" stroke-width="1.6"/>
<text x="84.2" y="615.6" font-size="12.8" text-anchor="middle" fill="#1a1a1a">10.0</text>
<line x1="128.9" y1="600.6" x2="128.9" y2="603.5" stroke="#000" stroke-width="1.6"/>
<text x="128.9" y="615.6" font-size="12.8" text-anchor="middle" fill="#1a1a1a">12.5</text>
<line x1="173.3" y1="600.6" x2="173.3" y2="603.5" stroke="#000" stroke-width="1.6"/>
<text x="173.3" y="615.6" font-size="12.8" text-anchor="middle" fill="#1a1a1a">15.0</text>
<line x1="217.7" y1="600.6" x2="217.7" y2="603.5" stroke="#000" stroke-width="1.6"/>
<text x="217.7" y="615.6" font-size="12.8" text-anchor="middle" fill="#1a1a1a">17.5</text>
<line x1="262" y1="600.6" x2="262" y2="603.5" stroke="#000" stroke-width="1.6"/>
<text x="262" y="615.6" font-size="12.8" text-anchor="middle" fill="#1a1a1a">20.0</text>
<text x="77.45" y="369.6" font-size="13.3" fill="#1a1a1a">β</text>
<text x="88.65" y="369.6" font-size="13.3" fill="#1a1a1a">=</text>
<text x="99.30" y="369.6" font-size="13.3" fill="#1a1a1a">+0.389</text>
<text x="78.35" y="385.2" font-size="13.3" font-style="italic" fill="#1a1a1a">P</text>
<text x="89.65" y="385.2" font-size="13.3" fill="#1a1a1a">&lt;</text>
<text x="101.10" y="385.2" font-size="13.3" fill="#1a1a1a">0.0001</text>
<g><circle cx="404.7" cy="554.8" r="2.85" fill="#fff" stroke="#000" stroke-width="1.5"/><circle cx="365.6" cy="579.0" r="2.85" fill="#fff" stroke="#000" stroke-width="1.5"/><circle cx="374.8" cy="548.9" r="2.85" fill="#fff" stroke="#000" stroke-width="1.5"/><circle cx="412.4" cy="579.4" r="2.85" fill="#fff" stroke="#000" stroke-width="1.5"/><circle cx="416.9" cy="550.1" r="2.85" fill="#fff" stroke="#000" stroke-width="1.5"/><circle cx="426.9" cy="556.9" r="2.85" fill="#fff" stroke="#000" stroke-width="1.5"/><circle cx="371.0" cy="578.7" r="2.85" fill="#fff" stroke="#000" stroke-width="1.5"/><circle cx="427.4" cy="569.6" r="2.85" fill="#fff" stroke="#000" stroke-width="1.5"/><circle cx="378.1" cy="563.9" r="2.85" fill="#fff" stroke="#000" stroke-width="1.5"/><circle cx="401.0" cy="563.6" r="2.85" fill="#fff" stroke="#000" stroke-width="1.5"/><circle cx="364.3" cy="574.5" r="2.85" fill="#fff" stroke="#000" stroke-width="1.5"/><circle cx="360.9" cy="559.3" r="2.85" fill="#fff" stroke="#000" stroke-width="1.5"/><circle cx="411.7" cy="569.1" r="2.85" fill="#fff" stroke="#000" stroke-width="1.5"/><circle cx="388.2" cy="583.2" r="2.85" fill="#fff" stroke="#000" stroke-width="1.5"/><circle cx="408.4" cy="575.0" r="2.85" fill="#fff" stroke="#000" stroke-width="1.5"/><circle cx="382.7" cy="567.4" r="2.85" fill="#fff" stroke="#000" stroke-width="1.5"/><circle cx="393.6" cy="582.0" r="2.85" fill="#fff" stroke="#000" stroke-width="1.5"/><circle cx="424.8" cy="576.8" r="2.85" fill="#fff" stroke="#000" stroke-width="1.5"/><circle cx="425.6" cy="573.0" r="2.85" fill="#fff" stroke="#000" stroke-width="1.5"/><circle cx="397.2" cy="580.6" r="2.85" fill="#fff" stroke="#000" stroke-width="1.5"/><circle cx="383.1" cy="549.8" r="2.85" fill="#fff" stroke="#000" stroke-width="1.5"/><circle cx="372.4" cy="558.1" r="2.85" fill="#fff" stroke="#000" stroke-width="1.5"/><circle cx="354.3" cy="555.9" r="2.85" fill="#fff" stroke="#000" stroke-width="1.5"/><circle cx="359.5" cy="575.2" r="2.85" fill="#fff" stroke="#000" stroke-width="1.5"/><circle cx="390.8" cy="551.5" r="2.85" fill="#fff" stroke="#000" stroke-width="1.5"/><circle cx="421.2" cy="551.6" r="2.85" fill="#fff" stroke="#000" stroke-width="1.5"/><circle cx="363.1" cy="547.7" r="2.85" fill="#fff" stroke="#000" stroke-width="1.5"/><circle cx="361.7" cy="569.3" r="2.85" fill="#fff" stroke="#000" stroke-width="1.5"/><circle cx="379.4" cy="543.7" r="2.85" fill="#fff" stroke="#000" stroke-width="1.5"/><circle cx="387.2" cy="565.8" r="2.85" fill="#fff" stroke="#000" stroke-width="1.5"/><circle cx="385.3" cy="579.1" r="2.85" fill="#fff" stroke="#000" stroke-width="1.5"/><circle cx="379.5" cy="578.9" r="2.85" fill="#fff" stroke="#000" stroke-width="1.5"/><circle cx="401.7" cy="578.7" r="2.85" fill="#fff" stroke="#000" stroke-width="1.5"/><circle cx="366.4" cy="540.4" r="2.85" fill="#fff" stroke="#000" stroke-width="1.5"/><circle cx="407.3" cy="558.7" r="2.85" fill="#fff" stroke="#000" stroke-width="1.5"/><circle cx="355.2" cy="545.3" r="2.85" fill="#fff" stroke="#000" stroke-width="1.5"/><circle cx="404.5" cy="575.6" r="2.85" fill="#fff" stroke="#000" stroke-width="1.5"/><circle cx="375.8" cy="573.8" r="2.85" fill="#fff" stroke="#000" stroke-width="1.5"/><circle cx="417.7" cy="555.1" r="2.85" fill="#fff" stroke="#000" stroke-width="1.5"/><circle cx="380.2" cy="570.6" r="2.85" fill="#fff" stroke="#000" stroke-width="1.5"/><circle cx="393.5" cy="546.3" r="2.85" fill="#fff" stroke="#000" stroke-width="1.5"/><circle cx="386.9" cy="543.0" r="2.85" fill="#fff" stroke="#000" stroke-width="1.5"/><circle cx="376.0" cy="539.0" r="2.85" fill="#fff" stroke="#000" stroke-width="1.5"/><circle cx="351.8" cy="561.0" r="2.85" fill="#fff" stroke="#000" stroke-width="1.5"/><circle cx="363.7" cy="552.9" r="2.85" fill="#fff" stroke="#000" stroke-width="1.5"/><circle cx="390.4" cy="536.7" r="2.85" fill="#fff" stroke="#000" stroke-width="1.5"/><circle cx="361.8" cy="563.5" r="2.85" fill="#fff" stroke="#000" stroke-width="1.5"/><circle cx="411.1" cy="544.6" r="2.85" fill="#fff" stroke="#000" stroke-width="1.5"/><circle cx="402.7" cy="571.1" r="2.85" fill="#fff" stroke="#000" stroke-width="1.5"/><circle cx="428.1" cy="552.5" r="2.85" fill="#fff" stroke="#000" stroke-width="1.5"/><circle cx="413.9" cy="552.2" r="2.85" fill="#fff" stroke="#000" stroke-width="1.5"/><circle cx="369.2" cy="545.4" r="2.85" fill="#fff" stroke="#000" stroke-width="1.5"/><circle cx="383.0" cy="540.5" r="2.85" fill="#fff" stroke="#000" stroke-width="1.5"/><circle cx="384.2" cy="559.6" r="2.85" fill="#fff" stroke="#000" stroke-width="1.5"/><circle cx="398.5" cy="554.7" r="2.85" fill="#fff" stroke="#000" stroke-width="1.5"/><circle cx="391.4" cy="542.0" r="2.85" fill="#fff" stroke="#000" stroke-width="1.5"/><circle cx="359.0" cy="556.0" r="2.85" fill="#fff" stroke="#000" stroke-width="1.5"/><circle cx="359.9" cy="550.9" r="2.85" fill="#fff" stroke="#000" stroke-width="1.5"/><circle cx="353.5" cy="552.0" r="2.85" fill="#fff" stroke="#000" stroke-width="1.5"/><circle cx="399.9" cy="538.9" r="2.85" fill="#fff" stroke="#000" stroke-width="1.5"/><circle cx="405.8" cy="543.0" r="2.85" fill="#fff" stroke="#000" stroke-width="1.5"/><circle cx="421.1" cy="572.0" r="2.85" fill="#fff" stroke="#000" stroke-width="1.5"/><circle cx="425.4" cy="560.4" r="2.85" fill="#fff" stroke="#000" stroke-width="1.5"/><circle cx="396.6" cy="542.7" r="2.85" fill="#fff" stroke="#000" stroke-width="1.5"/><circle cx="403.5" cy="549.5" r="2.85" fill="#fff" stroke="#000" stroke-width="1.5"/><circle cx="495.9" cy="400.5" r="2.85" fill="#fff" stroke="#000" stroke-width="1.5"/><circle cx="361.2" cy="426.1" r="2.85" fill="#fff" stroke="#000" stroke-width="1.5"/><circle cx="447.0" cy="420.2" r="2.85" fill="#fff" stroke="#000" stroke-width="1.5"/><circle cx="443.4" cy="428.2" r="2.85" fill="#fff" stroke="#000" stroke-width="1.5"/><circle cx="451.8" cy="435.1" r="2.85" fill="#fff" stroke="#000" stroke-width="1.5"/><circle cx="393.4" cy="433.9" r="2.85" fill="#fff" stroke="#000" stroke-width="1.5"/><circle cx="402.0" cy="431.8" r="2.85" fill="#fff" stroke="#000" stroke-width="1.5"/><circle cx="398.1" cy="443.4" r="2.85" fill="#fff" stroke="#000" stroke-width="1.5"/><circle cx="410.4" cy="450.0" r="2.85" fill="#fff" stroke="#000" stroke-width="1.5"/><circle cx="417.8" cy="451.5" r="2.85" fill="#fff" stroke="#000" stroke-width="1.5"/><circle cx="425.3" cy="455.1" r="2.85" fill="#fff" stroke="#000" stroke-width="1.5"/><circle cx="429.7" cy="458.3" r="2.85" fill="#fff" stroke="#000" stroke-width="1.5"/><circle cx="442.2" cy="449.4" r="2.85" fill="#fff" stroke="#000" stroke-width="1.5"/><circle cx="478.9" cy="445.2" r="2.85" fill="#fff" stroke="#000" stroke-width="1.5"/><circle cx="473.8" cy="453.0" r="2.85" fill="#fff" stroke="#000" stroke-width="1.5"/><circle cx="456.0" cy="455.9" r="2.85" fill="#fff" stroke="#000" stroke-width="1.5"/><circle cx="460.4" cy="463.4" r="2.85" fill="#fff" stroke="#000" stroke-width="1.5"/><circle cx="472.9" cy="461.3" r="2.85" fill="#fff" stroke="#000" stroke-width="1.5"/><circle cx="470.0" cy="465.5" r="2.85" fill="#fff" stroke="#000" stroke-width="1.5"/><circle cx="476.8" cy="464.6" r="2.85" fill="#fff" stroke="#000" stroke-width="1.5"/><circle cx="433.9" cy="466.4" r="2.85" fill="#fff" stroke="#000" stroke-width="1.5"/><circle cx="526.3" cy="467.0" r="2.85" fill="#fff" stroke="#000" stroke-width="1.5"/><circle cx="377.0" cy="469.7" r="2.85" fill="#fff" stroke="#000" stroke-width="1.5"/><circle cx="376.8" cy="472.7" r="2.85" fill="#fff" stroke="#000" stroke-width="1.5"/><circle cx="368.6" cy="479.4" r="2.85" fill="#fff" stroke="#000" stroke-width="1.5"/><circle cx="373.5" cy="478.6" r="2.85" fill="#fff" stroke="#000" stroke-width="1.5"/><circle cx="403.6" cy="475.7" r="2.85" fill="#fff" stroke="#000" stroke-width="1.5"/><circle cx="413.3" cy="473.1" r="2.85" fill="#fff" stroke="#000" stroke-width="1.5"/><circle cx="414.1" cy="481.2" r="2.85" fill="#fff" stroke="#000" stroke-width="1.5"/><circle cx="396.9" cy="483.8" r="2.85" fill="#fff" stroke="#000" stroke-width="1.5"/><circle cx="399.2" cy="483.1" r="2.85" fill="#fff" stroke="#000" stroke-width="1.5"/><circle cx="366.4" cy="487.6" r="2.85" fill="#fff" stroke="#000" stroke-width="1.5"/><circle cx="367.9" cy="492.0" r="2.85" fill="#fff" stroke="#000" stroke-width="1.5"/><circle cx="371.9" cy="495.5" r="2.85" fill="#fff" stroke="#000" stroke-width="1.5"/><circle cx="382.0" cy="487.3" r="2.85" fill="#fff" stroke="#000" stroke-width="1.5"/><circle cx="383.5" cy="492.0" r="2.85" fill="#fff" stroke="#000" stroke-width="1.5"/><circle cx="388.7" cy="490.6" r="2.85" fill="#fff" stroke="#000" stroke-width="1.5"/><circle cx="390.2" cy="494.0" r="2.85" fill="#fff" stroke="#000" stroke-width="1.5"/><circle cx="407.4" cy="491.3" r="2.85" fill="#fff" stroke="#000" stroke-width="1.5"/><circle cx="414.1" cy="491.3" r="2.85" fill="#fff" stroke="#000" stroke-width="1.5"/><circle cx="420.8" cy="492.5" r="2.85" fill="#fff" stroke="#000" stroke-width="1.5"/><circle cx="396.9" cy="496.5" r="2.85" fill="#fff" stroke="#000" stroke-width="1.5"/><circle cx="401.4" cy="502.5" r="2.85" fill="#fff" stroke="#000" stroke-width="1.5"/><circle cx="405.9" cy="495.8" r="2.85" fill="#fff" stroke="#000" stroke-width="1.5"/><circle cx="410.4" cy="499.5" r="2.85" fill="#fff" stroke="#000" stroke-width="1.5"/><circle cx="388.0" cy="503.2" r="2.85" fill="#fff" stroke="#000" stroke-width="1.5"/><circle cx="368.6" cy="507.0" r="2.85" fill="#fff" stroke="#000" stroke-width="1.5"/><circle cx="373.1" cy="510.7" r="2.85" fill="#fff" stroke="#000" stroke-width="1.5"/><circle cx="376.8" cy="512.2" r="2.85" fill="#fff" stroke="#000" stroke-width="1.5"/><circle cx="371.6" cy="515.9" r="2.85" fill="#fff" stroke="#000" stroke-width="1.5"/><circle cx="374.6" cy="514.4" r="2.85" fill="#fff" stroke="#000" stroke-width="1.5"/><circle cx="405.9" cy="508.4" r="2.85" fill="#fff" stroke="#000" stroke-width="1.5"/><circle cx="408.9" cy="512.2" r="2.85" fill="#fff" stroke="#000" stroke-width="1.5"/><circle cx="418.6" cy="504.7" r="2.85" fill="#fff" stroke="#000" stroke-width="1.5"/><circle cx="419.3" cy="507.7" r="2.85" fill="#fff" stroke="#000" stroke-width="1.5"/><circle cx="417.8" cy="512.2" r="2.85" fill="#fff" stroke="#000" stroke-width="1.5"/><circle cx="422.3" cy="515.1" r="2.85" fill="#fff" stroke="#000" stroke-width="1.5"/><circle cx="386.5" cy="512.9" r="2.85" fill="#fff" stroke="#000" stroke-width="1.5"/><circle cx="394.0" cy="516.3" r="2.85" fill="#fff" stroke="#000" stroke-width="1.5"/><circle cx="408.9" cy="517.4" r="2.85" fill="#fff" stroke="#000" stroke-width="1.5"/><circle cx="348.5" cy="519.3" r="2.85" fill="#fff" stroke="#000" stroke-width="1.5"/><circle cx="352.2" cy="525.1" r="2.85" fill="#fff" stroke="#000" stroke-width="1.5"/><circle cx="359.7" cy="518.1" r="2.85" fill="#fff" stroke="#000" stroke-width="1.5"/><circle cx="384.3" cy="518.9" r="2.85" fill="#fff" stroke="#000" stroke-width="1.5"/><circle cx="382.0" cy="522.6" r="2.85" fill="#fff" stroke="#000" stroke-width="1.5"/><circle cx="392.5" cy="522.6" r="2.85" fill="#fff" stroke="#000" stroke-width="1.5"/><circle cx="398.4" cy="520.4" r="2.85" fill="#fff" stroke="#000" stroke-width="1.5"/><circle cx="402.9" cy="521.9" r="2.85" fill="#fff" stroke="#000" stroke-width="1.5"/><circle cx="420.8" cy="521.1" r="2.85" fill="#fff" stroke="#000" stroke-width="1.5"/><circle cx="361.9" cy="529.3" r="2.85" fill="#fff" stroke="#000" stroke-width="1.5"/><circle cx="369.4" cy="526.3" r="2.85" fill="#fff" stroke="#000" stroke-width="1.5"/><circle cx="374.6" cy="530.1" r="2.85" fill="#fff" stroke="#000" stroke-width="1.5"/><circle cx="385.0" cy="529.3" r="2.85" fill="#fff" stroke="#000" stroke-width="1.5"/><circle cx="392.5" cy="530.1" r="2.85" fill="#fff" stroke="#000" stroke-width="1.5"/><circle cx="402.2" cy="527.1" r="2.85" fill="#fff" stroke="#000" stroke-width="1.5"/><circle cx="411.8" cy="524.8" r="2.85" fill="#fff" stroke="#000" stroke-width="1.5"/><circle cx="365.6" cy="529.5" r="2.85" fill="#fff" stroke="#000" stroke-width="1.5"/><circle cx="356.7" cy="533.9" r="2.85" fill="#fff" stroke="#000" stroke-width="1.5"/><circle cx="351.5" cy="539.2" r="2.85" fill="#fff" stroke="#000" stroke-width="1.5"/><circle cx="350.7" cy="541.4" r="2.85" fill="#fff" stroke="#000" stroke-width="1.5"/><circle cx="378.3" cy="534.7" r="2.85" fill="#fff" stroke="#000" stroke-width="1.5"/><circle cx="407.4" cy="526.5" r="2.85" fill="#fff" stroke="#000" stroke-width="1.5"/><circle cx="319.4" cy="540.4" r="2.85" fill="#fff" stroke="#000" stroke-width="1.5"/><circle cx="326.1" cy="544.7" r="2.85" fill="#fff" stroke="#000" stroke-width="1.5"/><circle cx="333.6" cy="548.1" r="2.85" fill="#fff" stroke="#000" stroke-width="1.5"/><circle cx="320.2" cy="551.5" r="2.85" fill="#fff" stroke="#000" stroke-width="1.5"/><circle cx="361.2" cy="543.6" r="2.85" fill="#fff" stroke="#000" stroke-width="1.5"/><circle cx="370.1" cy="538.4" r="2.85" fill="#fff" stroke="#000" stroke-width="1.5"/><circle cx="405.9" cy="538.4" r="2.85" fill="#fff" stroke="#000" stroke-width="1.5"/><circle cx="413.3" cy="539.9" r="2.85" fill="#fff" stroke="#000" stroke-width="1.5"/><circle cx="420.8" cy="541.4" r="2.85" fill="#fff" stroke="#000" stroke-width="1.5"/><circle cx="401.4" cy="545.9" r="2.85" fill="#fff" stroke="#000" stroke-width="1.5"/><circle cx="410.4" cy="548.8" r="2.85" fill="#fff" stroke="#000" stroke-width="1.5"/><circle cx="417.8" cy="545.9" r="2.85" fill="#fff" stroke="#000" stroke-width="1.5"/><circle cx="423.8" cy="547.4" r="2.85" fill="#fff" stroke="#000" stroke-width="1.5"/><circle cx="325.4" cy="556.3" r="2.85" fill="#fff" stroke="#000" stroke-width="1.5"/><circle cx="329.9" cy="560.8" r="2.85" fill="#fff" stroke="#000" stroke-width="1.5"/><circle cx="335.8" cy="566.7" r="2.85" fill="#fff" stroke="#000" stroke-width="1.5"/><circle cx="344.8" cy="564.5" r="2.85" fill="#fff" stroke="#000" stroke-width="1.5"/><circle cx="341.0" cy="551.8" r="2.85" fill="#fff" stroke="#000" stroke-width="1.5"/><circle cx="348.5" cy="556.3" r="2.85" fill="#fff" stroke="#000" stroke-width="1.5"/><circle cx="356.0" cy="560.0" r="2.85" fill="#fff" stroke="#000" stroke-width="1.5"/><circle cx="356.0" cy="566.0" r="2.85" fill="#fff" stroke="#000" stroke-width="1.5"/><circle cx="352.2" cy="569.7" r="2.85" fill="#fff" stroke="#000" stroke-width="1.5"/><circle cx="365.6" cy="558.5" r="2.85" fill="#fff" stroke="#000" stroke-width="1.5"/><circle cx="367.9" cy="554.8" r="2.85" fill="#fff" stroke="#000" stroke-width="1.5"/><circle cx="374.6" cy="553.3" r="2.85" fill="#fff" stroke="#000" stroke-width="1.5"/><circle cx="379.1" cy="551.1" r="2.85" fill="#fff" stroke="#000" stroke-width="1.5"/><circle cx="386.5" cy="554.8" r="2.85" fill="#fff" stroke="#000" stroke-width="1.5"/><circle cx="394.0" cy="557.8" r="2.85" fill="#fff" stroke="#000" stroke-width="1.5"/><circle cx="401.4" cy="559.3" r="2.85" fill="#fff" stroke="#000" stroke-width="1.5"/><circle cx="408.9" cy="554.8" r="2.85" fill="#fff" stroke="#000" stroke-width="1.5"/><circle cx="413.3" cy="558.5" r="2.85" fill="#fff" stroke="#000" stroke-width="1.5"/><circle cx="423.8" cy="554.8" r="2.85" fill="#fff" stroke="#000" stroke-width="1.5"/><circle cx="365.6" cy="566.0" r="2.85" fill="#fff" stroke="#000" stroke-width="1.5"/><circle cx="371.6" cy="563.8" r="2.85" fill="#fff" stroke="#000" stroke-width="1.5"/><circle cx="376.8" cy="559.3" r="2.85" fill="#fff" stroke="#000" stroke-width="1.5"/><circle cx="382.0" cy="563.8" r="2.85" fill="#fff" stroke="#000" stroke-width="1.5"/><circle cx="389.5" cy="562.3" r="2.85" fill="#fff" stroke="#000" stroke-width="1.5"/><circle cx="396.9" cy="563.8" r="2.85" fill="#fff" stroke="#000" stroke-width="1.5"/><circle cx="404.4" cy="562.3" r="2.85" fill="#fff" stroke="#000" stroke-width="1.5"/><circle cx="411.8" cy="565.2" r="2.85" fill="#fff" stroke="#000" stroke-width="1.5"/><circle cx="419.3" cy="560.8" r="2.85" fill="#fff" stroke="#000" stroke-width="1.5"/><circle cx="423.8" cy="566.0" r="2.85" fill="#fff" stroke="#000" stroke-width="1.5"/><circle cx="370.1" cy="569.7" r="2.85" fill="#fff" stroke="#000" stroke-width="1.5"/><circle cx="376.1" cy="569.0" r="2.85" fill="#fff" stroke="#000" stroke-width="1.5"/><circle cx="385.0" cy="570.5" r="2.85" fill="#fff" stroke="#000" stroke-width="1.5"/><circle cx="392.5" cy="568.2" r="2.85" fill="#fff" stroke="#000" stroke-width="1.5"/><circle cx="398.4" cy="567.5" r="2.85" fill="#fff" stroke="#000" stroke-width="1.5"/><circle cx="407.4" cy="569.7" r="2.85" fill="#fff" stroke="#000" stroke-width="1.5"/><circle cx="416.3" cy="568.2" r="2.85" fill="#fff" stroke="#000" stroke-width="1.5"/><circle cx="328.4" cy="572.7" r="2.85" fill="#fff" stroke="#000" stroke-width="1.5"/><circle cx="337.3" cy="576.4" r="2.85" fill="#fff" stroke="#000" stroke-width="1.5"/><circle cx="345.5" cy="574.9" r="2.85" fill="#fff" stroke="#000" stroke-width="1.5"/><circle cx="329.1" cy="577.2" r="2.85" fill="#fff" stroke="#000" stroke-width="1.5"/><circle cx="320.9" cy="579.4" r="2.85" fill="#fff" stroke="#000" stroke-width="1.5"/><circle cx="326.1" cy="583.1" r="2.85" fill="#fff" stroke="#000" stroke-width="1.5"/><circle cx="368.6" cy="574.9" r="2.85" fill="#fff" stroke="#000" stroke-width="1.5"/><circle cx="374.6" cy="577.9" r="2.85" fill="#fff" stroke="#000" stroke-width="1.5"/><circle cx="382.0" cy="575.7" r="2.85" fill="#fff" stroke="#000" stroke-width="1.5"/><circle cx="391.0" cy="577.9" r="2.85" fill="#fff" stroke="#000" stroke-width="1.5"/><circle cx="399.9" cy="574.9" r="2.85" fill="#fff" stroke="#000" stroke-width="1.5"/><circle cx="407.4" cy="579.4" r="2.85" fill="#fff" stroke="#000" stroke-width="1.5"/><circle cx="413.3" cy="574.9" r="2.85" fill="#fff" stroke="#000" stroke-width="1.5"/><circle cx="335.8" cy="583.9" r="2.85" fill="#fff" stroke="#000" stroke-width="1.5"/><circle cx="346.3" cy="587.6" r="2.85" fill="#fff" stroke="#000" stroke-width="1.5"/><circle cx="354.5" cy="582.4" r="2.85" fill="#fff" stroke="#000" stroke-width="1.5"/><circle cx="382.8" cy="583.4" r="2.85" fill="#fff" stroke="#000" stroke-width="1.5"/><circle cx="414.1" cy="585.4" r="2.85" fill="#fff" stroke="#000" stroke-width="1.5"/><circle cx="470.7" cy="471.2" r="2.85" fill="#fff" stroke="#000" stroke-width="1.5"/><circle cx="475.2" cy="473.1" r="2.85" fill="#fff" stroke="#000" stroke-width="1.5"/><circle cx="501.3" cy="473.4" r="2.85" fill="#fff" stroke="#000" stroke-width="1.5"/><circle cx="515.4" cy="476.4" r="2.85" fill="#fff" stroke="#000" stroke-width="1.5"/><circle cx="437.9" cy="483.8" r="2.85" fill="#fff" stroke="#000" stroke-width="1.5"/><circle cx="440.9" cy="481.6" r="2.85" fill="#fff" stroke="#000" stroke-width="1.5"/><circle cx="461.8" cy="485.3" r="2.85" fill="#fff" stroke="#000" stroke-width="1.5"/><circle cx="443.6" cy="490.6" r="2.85" fill="#fff" stroke="#000" stroke-width="1.5"/><circle cx="438.7" cy="494.0" r="2.85" fill="#fff" stroke="#000" stroke-width="1.5"/><circle cx="451.3" cy="490.6" r="2.85" fill="#fff" stroke="#000" stroke-width="1.5"/><circle cx="454.3" cy="489.8" r="2.85" fill="#fff" stroke="#000" stroke-width="1.5"/><circle cx="458.8" cy="491.6" r="2.85" fill="#fff" stroke="#000" stroke-width="1.5"/><circle cx="453.6" cy="496.5" r="2.85" fill="#fff" stroke="#000" stroke-width="1.5"/><circle cx="486.4" cy="489.1" r="2.85" fill="#fff" stroke="#000" stroke-width="1.5"/><circle cx="429.0" cy="495.0" r="2.85" fill="#fff" stroke="#000" stroke-width="1.5"/><circle cx="428.2" cy="501.0" r="2.85" fill="#fff" stroke="#000" stroke-width="1.5"/><circle cx="432.7" cy="503.2" r="2.85" fill="#fff" stroke="#000" stroke-width="1.5"/><circle cx="433.5" cy="507.0" r="2.85" fill="#fff" stroke="#000" stroke-width="1.5"/><circle cx="442.4" cy="506.2" r="2.85" fill="#fff" stroke="#000" stroke-width="1.5"/><circle cx="472.2" cy="495.8" r="2.85" fill="#fff" stroke="#000" stroke-width="1.5"/><circle cx="478.9" cy="501.0" r="2.85" fill="#fff" stroke="#000" stroke-width="1.5"/><circle cx="485.6" cy="498.8" r="2.85" fill="#fff" stroke="#000" stroke-width="1.5"/><circle cx="469.2" cy="503.2" r="2.85" fill="#fff" stroke="#000" stroke-width="1.5"/><circle cx="458.0" cy="503.2" r="2.85" fill="#fff" stroke="#000" stroke-width="1.5"/><circle cx="454.3" cy="508.0" r="2.85" fill="#fff" stroke="#000" stroke-width="1.5"/><circle cx="493.8" cy="503.2" r="2.85" fill="#fff" stroke="#000" stroke-width="1.5"/><circle cx="521.4" cy="497.3" r="2.85" fill="#fff" stroke="#000" stroke-width="1.5"/><circle cx="528.1" cy="502.5" r="2.85" fill="#fff" stroke="#000" stroke-width="1.5"/><circle cx="532.6" cy="506.2" r="2.85" fill="#fff" stroke="#000" stroke-width="1.5"/><circle cx="476.7" cy="507.7" r="2.85" fill="#fff" stroke="#000" stroke-width="1.5"/><circle cx="487.1" cy="506.2" r="2.85" fill="#fff" stroke="#000" stroke-width="1.5"/><circle cx="429.7" cy="510.7" r="2.85" fill="#fff" stroke="#000" stroke-width="1.5"/><circle cx="430.5" cy="515.9" r="2.85" fill="#fff" stroke="#000" stroke-width="1.5"/><circle cx="433.5" cy="516.6" r="2.85" fill="#fff" stroke="#000" stroke-width="1.5"/><circle cx="440.9" cy="518.1" r="2.85" fill="#fff" stroke="#000" stroke-width="1.5"/><circle cx="444.6" cy="518.9" r="2.85" fill="#fff" stroke="#000" stroke-width="1.5"/><circle cx="461.8" cy="519.6" r="2.85" fill="#fff" stroke="#000" stroke-width="1.5"/><circle cx="470.7" cy="513.7" r="2.85" fill="#fff" stroke="#000" stroke-width="1.5"/><circle cx="471.5" cy="518.9" r="2.85" fill="#fff" stroke="#000" stroke-width="1.5"/><circle cx="479.7" cy="517.4" r="2.85" fill="#fff" stroke="#000" stroke-width="1.5"/><circle cx="483.4" cy="513.7" r="2.85" fill="#fff" stroke="#000" stroke-width="1.5"/><circle cx="525.1" cy="516.6" r="2.85" fill="#fff" stroke="#000" stroke-width="1.5"/><circle cx="482.6" cy="524.8" r="2.85" fill="#fff" stroke="#000" stroke-width="1.5"/><circle cx="476.7" cy="528.3" r="2.85" fill="#fff" stroke="#000" stroke-width="1.5"/><circle cx="460.3" cy="528.9" r="2.85" fill="#fff" stroke="#000" stroke-width="1.5"/><circle cx="445.4" cy="529.3" r="2.85" fill="#fff" stroke="#000" stroke-width="1.5"/><circle cx="449.8" cy="530.8" r="2.85" fill="#fff" stroke="#000" stroke-width="1.5"/><circle cx="493.8" cy="532.0" r="2.85" fill="#fff" stroke="#000" stroke-width="1.5"/><circle cx="440.9" cy="531.7" r="2.85" fill="#fff" stroke="#000" stroke-width="1.5"/><circle cx="436.4" cy="531.0" r="2.85" fill="#fff" stroke="#000" stroke-width="1.5"/><circle cx="445.4" cy="537.7" r="2.85" fill="#fff" stroke="#000" stroke-width="1.5"/><circle cx="452.1" cy="535.4" r="2.85" fill="#fff" stroke="#000" stroke-width="1.5"/><circle cx="448.4" cy="542.1" r="2.85" fill="#fff" stroke="#000" stroke-width="1.5"/><circle cx="452.8" cy="545.9" r="2.85" fill="#fff" stroke="#000" stroke-width="1.5"/><circle cx="465.5" cy="535.4" r="2.85" fill="#fff" stroke="#000" stroke-width="1.5"/><circle cx="469.2" cy="536.9" r="2.85" fill="#fff" stroke="#000" stroke-width="1.5"/><circle cx="461.0" cy="541.1" r="2.85" fill="#fff" stroke="#000" stroke-width="1.5"/><circle cx="467.0" cy="542.9" r="2.85" fill="#fff" stroke="#000" stroke-width="1.5"/><circle cx="470.0" cy="543.6" r="2.85" fill="#fff" stroke="#000" stroke-width="1.5"/><circle cx="485.3" cy="535.7" r="2.85" fill="#fff" stroke="#000" stroke-width="1.5"/><circle cx="492.3" cy="548.6" r="2.85" fill="#fff" stroke="#000" stroke-width="1.5"/><circle cx="479.7" cy="542.9" r="2.85" fill="#fff" stroke="#000" stroke-width="1.5"/><circle cx="483.4" cy="544.4" r="2.85" fill="#fff" stroke="#000" stroke-width="1.5"/><circle cx="483.4" cy="547.4" r="2.85" fill="#fff" stroke="#000" stroke-width="1.5"/><circle cx="509.5" cy="539.9" r="2.85" fill="#fff" stroke="#000" stroke-width="1.5"/><circle cx="511.0" cy="542.9" r="2.85" fill="#fff" stroke="#000" stroke-width="1.5"/><circle cx="525.1" cy="543.6" r="2.85" fill="#fff" stroke="#000" stroke-width="1.5"/><circle cx="519.9" cy="548.1" r="2.85" fill="#fff" stroke="#000" stroke-width="1.5"/><circle cx="515.4" cy="551.1" r="2.85" fill="#fff" stroke="#000" stroke-width="1.5"/><circle cx="518.4" cy="553.3" r="2.85" fill="#fff" stroke="#000" stroke-width="1.5"/><circle cx="520.6" cy="556.3" r="2.85" fill="#fff" stroke="#000" stroke-width="1.5"/><circle cx="427.5" cy="539.9" r="2.85" fill="#fff" stroke="#000" stroke-width="1.5"/><circle cx="433.5" cy="539.2" r="2.85" fill="#fff" stroke="#000" stroke-width="1.5"/><circle cx="432.7" cy="543.6" r="2.85" fill="#fff" stroke="#000" stroke-width="1.5"/><circle cx="427.5" cy="548.1" r="2.85" fill="#fff" stroke="#000" stroke-width="1.5"/><circle cx="432.0" cy="547.4" r="2.85" fill="#fff" stroke="#000" stroke-width="1.5"/><circle cx="439.4" cy="545.1" r="2.85" fill="#fff" stroke="#000" stroke-width="1.5"/><circle cx="441.7" cy="548.8" r="2.85" fill="#fff" stroke="#000" stroke-width="1.5"/><circle cx="443.9" cy="550.3" r="2.85" fill="#fff" stroke="#000" stroke-width="1.5"/><circle cx="446.9" cy="552.6" r="2.85" fill="#fff" stroke="#000" stroke-width="1.5"/><circle cx="455.8" cy="555.6" r="2.85" fill="#fff" stroke="#000" stroke-width="1.5"/><circle cx="456.6" cy="559.3" r="2.85" fill="#fff" stroke="#000" stroke-width="1.5"/><circle cx="429.7" cy="560.8" r="2.85" fill="#fff" stroke="#000" stroke-width="1.5"/><circle cx="435.7" cy="563.8" r="2.85" fill="#fff" stroke="#000" stroke-width="1.5"/><circle cx="440.9" cy="564.5" r="2.85" fill="#fff" stroke="#000" stroke-width="1.5"/><circle cx="444.6" cy="560.8" r="2.85" fill="#fff" stroke="#000" stroke-width="1.5"/><circle cx="448.7" cy="573.0" r="2.85" fill="#fff" stroke="#000" stroke-width="1.5"/><circle cx="501.3" cy="563.0" r="2.85" fill="#fff" stroke="#000" stroke-width="1.5"/><circle cx="374.6" cy="545.1" r="2.85" fill="#fff" stroke="#000" stroke-width="1.5"/><circle cx="382.8" cy="545.9" r="2.85" fill="#fff" stroke="#000" stroke-width="1.5"/><circle cx="407.3" cy="501.3" r="2.85" fill="#fff" stroke="#000" stroke-width="1.5"/><circle cx="426.4" cy="508.9" r="2.85" fill="#fff" stroke="#000" stroke-width="1.5"/><circle cx="379.3" cy="527.4" r="2.85" fill="#fff" stroke="#000" stroke-width="1.5"/><circle cx="429.0" cy="520.4" r="2.85" fill="#fff" stroke="#000" stroke-width="1.5"/><circle cx="384.4" cy="535.7" r="2.85" fill="#fff" stroke="#000" stroke-width="1.5"/><circle cx="417.5" cy="542.0" r="2.85" fill="#fff" stroke="#000" stroke-width="1.5"/><circle cx="369.1" cy="549.7" r="2.85" fill="#fff" stroke="#000" stroke-width="1.5"/><circle cx="386.9" cy="549.0" r="2.85" fill="#fff" stroke="#000" stroke-width="1.5"/><circle cx="427.7" cy="544.6" r="2.85" fill="#fff" stroke="#000" stroke-width="1.5"/><circle cx="381.2" cy="556.1" r="2.85" fill="#fff" stroke="#000" stroke-width="1.5"/><circle cx="388.2" cy="558.0" r="2.85" fill="#fff" stroke="#000" stroke-width="1.5"/><circle cx="394.6" cy="553.5" r="2.85" fill="#fff" stroke="#000" stroke-width="1.5"/><circle cx="439.2" cy="559.9" r="2.85" fill="#fff" stroke="#000" stroke-width="1.5"/><circle cx="393.3" cy="565.0" r="2.85" fill="#fff" stroke="#000" stroke-width="1.5"/><circle cx="407.3" cy="565.6" r="2.85" fill="#fff" stroke="#000" stroke-width="1.5"/><circle cx="416.2" cy="562.4" r="2.85" fill="#fff" stroke="#000" stroke-width="1.5"/><circle cx="389.5" cy="573.9" r="2.85" fill="#fff" stroke="#000" stroke-width="1.5"/><circle cx="394.6" cy="576.4" r="2.85" fill="#fff" stroke="#000" stroke-width="1.5"/><circle cx="428.2" cy="366.8" r="4.0" fill="#f0df2c" stroke="#000" stroke-width="1.5"/><circle cx="386.2" cy="477.1" r="4.0" fill="#f0df2c" stroke="#000" stroke-width="1.5"/><circle cx="352.5" cy="486.2" r="4.0" fill="#f0df2c" stroke="#000" stroke-width="1.5"/><circle cx="407.1" cy="484.6" r="4.0" fill="#f0df2c" stroke="#000" stroke-width="1.5"/><circle cx="395.9" cy="549.6" r="4.0" fill="#f0df2c" stroke="#000" stroke-width="1.5"/><circle cx="356.7" cy="571.2" r="4.0" fill="#f0df2c" stroke="#000" stroke-width="1.5"/><circle cx="419.3" cy="577.9" r="4.0" fill="#f0df2c" stroke="#000" stroke-width="1.5"/><circle cx="341.0" cy="585.8" r="4.0" fill="#f0df2c" stroke="#000" stroke-width="1.5"/><circle cx="458.0" cy="518.9" r="4.0" fill="#f0df2c" stroke="#000" stroke-width="1.5"/><circle cx="502.8" cy="524.1" r="4.0" fill="#f0df2c" stroke="#000" stroke-width="1.5"/><circle cx="500.5" cy="536.2" r="4.0" fill="#f0df2c" stroke="#000" stroke-width="1.5"/><circle cx="493.1" cy="542.6" r="4.0" fill="#f0df2c" stroke="#000" stroke-width="1.5"/><circle cx="429.3" cy="565.5" r="4.0" fill="#f0df2c" stroke="#000" stroke-width="1.5"/><circle cx="434.2" cy="571.2" r="4.0" fill="#f0df2c" stroke="#000" stroke-width="1.5"/></g>
<path d="M319.10,554.70 L322.66,553.84 L326.22,552.98 L329.78,552.11 L333.33,551.25 L336.89,550.38 L340.45,549.51 L344.01,548.64 L347.57,547.76 L351.12,546.88 L354.68,545.99 L358.24,545.10 L361.80,544.20 L365.36,543.30 L368.92,542.39 L372.48,541.47 L376.03,540.54 L379.59,539.60 L383.15,538.65 L386.71,537.68 L390.27,536.70 L393.83,535.70 L397.38,534.68 L400.94,533.64 L404.50,532.58 L408.06,531.50 L411.62,530.40 L415.18,529.28 L418.73,528.13 L422.29,526.98 L425.85,525.80 L429.41,524.61 L432.97,523.41 L436.53,522.20 L440.08,520.98 L443.64,519.74 L447.20,518.50 L450.76,517.26 L454.32,516.01 L457.88,514.75 L461.43,513.49 L464.99,512.22 L468.55,510.95 L472.11,509.68 L475.67,508.41 L479.23,507.13 L482.78,505.85 L486.34,504.57 L489.90,503.29 L493.46,502.00 L497.02,500.72 L500.58,499.43 L504.13,498.14 L507.69,496.85 L511.25,495.56 L514.81,494.27 L518.37,492.98 L521.92,491.68 L525.48,490.39 L529.04,489.09 L532.60,487.80 L532.60,505.40 L529.04,506.25 L525.48,507.10 L521.92,507.95 L518.37,508.80 L514.81,509.65 L511.25,510.50 L507.69,511.35 L504.13,512.21 L500.58,513.06 L497.02,513.92 L493.46,514.78 L489.90,515.63 L486.34,516.49 L482.78,517.36 L479.23,518.22 L475.67,519.09 L472.11,519.96 L468.55,520.83 L464.99,521.70 L461.43,522.58 L457.88,523.46 L454.32,524.35 L450.76,525.24 L447.20,526.14 L443.64,527.04 L440.08,527.95 L436.53,528.87 L432.97,529.80 L429.41,530.74 L425.85,531.70 L422.29,532.67 L418.73,533.65 L415.18,534.65 L411.62,535.68 L408.06,536.72 L404.50,537.78 L400.94,538.86 L397.38,539.97 L393.83,541.09 L390.27,542.23 L386.71,543.40 L383.15,544.57 L379.59,545.76 L376.03,546.97 L372.48,548.18 L368.92,549.40 L365.36,550.64 L361.80,551.88 L358.24,553.12 L354.68,554.38 L351.12,555.63 L347.57,556.90 L344.01,558.16 L340.45,559.43 L336.89,560.70 L333.33,561.98 L329.78,563.26 L326.22,564.54 L322.66,565.82 L319.10,567.10 Z" fill="none" stroke="#e01e16" stroke-width="2.15"/>
<path d="M319.1,560.9 L532.6,496.6" fill="none" stroke="#e01e16" stroke-width="4.0"/>
<rect x="308.5" y="353.1" width="234.60000000000002" height="246.5" fill="none" stroke="#000" stroke-width="2.2"/>
<line x1="358.9" y1="600.6" x2="358.9" y2="603.5" stroke="#000" stroke-width="1.6"/>
<text x="358.9" y="615.6" font-size="12.8" text-anchor="middle" fill="#1a1a1a">20</text>
<line x1="426.1" y1="600.6" x2="426.1" y2="603.5" stroke="#000" stroke-width="1.6"/>
<text x="426.1" y="615.6" font-size="12.8" text-anchor="middle" fill="#1a1a1a">40</text>
<line x1="493.2" y1="600.6" x2="493.2" y2="603.5" stroke="#000" stroke-width="1.6"/>
<text x="493.2" y="615.6" font-size="12.8" text-anchor="middle" fill="#1a1a1a">60</text>
<text x="317.44" y="369.6" font-size="13.3" fill="#1a1a1a">β</text>
<text x="328.64" y="369.6" font-size="13.3" fill="#1a1a1a">=</text>
<text x="339.29" y="369.6" font-size="13.3" fill="#1a1a1a">+0.444</text>
<text x="318.34" y="385.2" font-size="13.3" font-style="italic" fill="#1a1a1a">P</text>
<text x="329.64" y="385.2" font-size="13.3" fill="#1a1a1a">&lt;</text>
<text x="341.09" y="385.2" font-size="13.3" fill="#1a1a1a">0.0001</text>
<g><path d="M652.7,366.6 L659.7,366.6 L656.2,360.5 Z" fill="#fff" stroke="#000" stroke-width="1.5" stroke-linejoin="miter"/><path d="M701.8,411.5 L708.8,411.5 L705.3,405.4 Z" fill="#fff" stroke="#000" stroke-width="1.5" stroke-linejoin="miter"/><path d="M690.7,423.2 L697.7,423.2 L694.2,417.1 Z" fill="#fff" stroke="#000" stroke-width="1.5" stroke-linejoin="miter"/><path d="M646.7,418.1 L653.7,418.1 L650.2,412.0 Z" fill="#fff" stroke="#000" stroke-width="1.5" stroke-linejoin="miter"/><path d="M611.4,424.1 L618.4,424.1 L614.9,418.0 Z" fill="#fff" stroke="#000" stroke-width="1.5" stroke-linejoin="miter"/><path d="M588.0,428.0 L595.0,428.0 L591.5,421.9 Z" fill="#fff" stroke="#000" stroke-width="1.5" stroke-linejoin="miter"/><path d="M573.3,444.1 L580.3,444.1 L576.8,438.0 Z" fill="#fff" stroke="#000" stroke-width="1.5" stroke-linejoin="miter"/><path d="M645.2,451.0 L652.2,451.0 L648.7,444.9 Z" fill="#fff" stroke="#000" stroke-width="1.5" stroke-linejoin="miter"/><path d="M594.9,455.5 L601.9,455.5 L598.4,449.4 Z" fill="#fff" stroke="#000" stroke-width="1.5" stroke-linejoin="miter"/><path d="M596.4,462.1 L603.4,462.1 L599.9,456.0 Z" fill="#fff" stroke="#000" stroke-width="1.5" stroke-linejoin="miter"/><path d="M582.9,465.1 L589.9,465.1 L586.4,459.0 Z" fill="#fff" stroke="#000" stroke-width="1.5" stroke-linejoin="miter"/><path d="M606.9,463.0 L613.9,463.0 L610.4,456.9 Z" fill="#fff" stroke="#000" stroke-width="1.5" stroke-linejoin="miter"/><path d="M612.9,464.5 L619.9,464.5 L616.4,458.4 Z" fill="#fff" stroke="#000" stroke-width="1.5" stroke-linejoin="miter"/><path d="M620.4,463.6 L627.4,463.6 L623.9,457.5 Z" fill="#fff" stroke="#000" stroke-width="1.5" stroke-linejoin="miter"/><path d="M576.9,470.5 L583.9,470.5 L580.4,464.4 Z" fill="#fff" stroke="#000" stroke-width="1.5" stroke-linejoin="miter"/><path d="M593.4,469.9 L600.4,469.9 L596.9,463.8 Z" fill="#fff" stroke="#000" stroke-width="1.5" stroke-linejoin="miter"/><path d="M609.9,469.0 L616.9,469.0 L613.4,462.9 Z" fill="#fff" stroke="#000" stroke-width="1.5" stroke-linejoin="miter"/><path d="M674.2,472.0 L681.2,472.0 L677.7,465.9 Z" fill="#fff" stroke="#000" stroke-width="1.5" stroke-linejoin="miter"/><path d="M646.9,483.0 L653.9,483.0 L650.4,476.9 Z" fill="#fff" stroke="#000" stroke-width="1.5" stroke-linejoin="miter"/><path d="M576.1,484.5 L583.1,484.5 L579.6,478.4 Z" fill="#fff" stroke="#000" stroke-width="1.5" stroke-linejoin="miter"/><path d="M567.9,490.5 L574.9,490.5 L571.4,484.4 Z" fill="#fff" stroke="#000" stroke-width="1.5" stroke-linejoin="miter"/><path d="M582.8,489.7 L589.8,489.7 L586.3,483.6 Z" fill="#fff" stroke="#000" stroke-width="1.5" stroke-linejoin="miter"/><path d="M588.7,488.3 L595.7,488.3 L592.2,482.2 Z" fill="#fff" stroke="#000" stroke-width="1.5" stroke-linejoin="miter"/><path d="M594.7,489.0 L601.7,489.0 L598.2,482.9 Z" fill="#fff" stroke="#000" stroke-width="1.5" stroke-linejoin="miter"/><path d="M599.9,480.1 L606.9,480.1 L603.4,474.0 Z" fill="#fff" stroke="#000" stroke-width="1.5" stroke-linejoin="miter"/><path d="M605.9,477.1 L612.9,477.1 L609.4,471.0 Z" fill="#fff" stroke="#000" stroke-width="1.5" stroke-linejoin="miter"/><path d="M601.4,488.3 L608.4,488.3 L604.9,482.2 Z" fill="#fff" stroke="#000" stroke-width="1.5" stroke-linejoin="miter"/><path d="M611.1,489.0 L618.1,489.0 L614.6,482.9 Z" fill="#fff" stroke="#000" stroke-width="1.5" stroke-linejoin="miter"/><path d="M615.6,486.0 L622.6,486.0 L619.1,479.9 Z" fill="#fff" stroke="#000" stroke-width="1.5" stroke-linejoin="miter"/><path d="M622.3,483.8 L629.3,483.8 L625.8,477.7 Z" fill="#fff" stroke="#000" stroke-width="1.5" stroke-linejoin="miter"/><path d="M598.4,484.5 L605.4,484.5 L601.9,478.4 Z" fill="#fff" stroke="#000" stroke-width="1.5" stroke-linejoin="miter"/><path d="M571.6,497.2 L578.6,497.2 L575.1,491.1 Z" fill="#fff" stroke="#000" stroke-width="1.5" stroke-linejoin="miter"/><path d="M580.5,495.7 L587.5,495.7 L584.0,489.6 Z" fill="#fff" stroke="#000" stroke-width="1.5" stroke-linejoin="miter"/><path d="M589.5,495.7 L596.5,495.7 L593.0,489.6 Z" fill="#fff" stroke="#000" stroke-width="1.5" stroke-linejoin="miter"/><path d="M605.9,495.7 L612.9,495.7 L609.4,489.6 Z" fill="#fff" stroke="#000" stroke-width="1.5" stroke-linejoin="miter"/><path d="M613.3,496.5 L620.3,496.5 L616.8,490.4 Z" fill="#fff" stroke="#000" stroke-width="1.5" stroke-linejoin="miter"/><path d="M600.6,500.9 L607.6,500.9 L604.1,494.8 Z" fill="#fff" stroke="#000" stroke-width="1.5" stroke-linejoin="miter"/><path d="M596.9,500.2 L603.9,500.2 L600.4,494.1 Z" fill="#fff" stroke="#000" stroke-width="1.5" stroke-linejoin="miter"/><path d="M626.0,501.7 L633.0,501.7 L629.5,495.6 Z" fill="#fff" stroke="#000" stroke-width="1.5" stroke-linejoin="miter"/><path d="M654.3,500.9 L661.3,500.9 L657.8,494.8 Z" fill="#fff" stroke="#000" stroke-width="1.5" stroke-linejoin="miter"/><path d="M564.9,508.4 L571.9,508.4 L568.4,502.3 Z" fill="#fff" stroke="#000" stroke-width="1.5" stroke-linejoin="miter"/><path d="M570.1,503.9 L577.1,503.9 L573.6,497.8 Z" fill="#fff" stroke="#000" stroke-width="1.5" stroke-linejoin="miter"/><path d="M576.1,504.7 L583.1,504.7 L579.6,498.6 Z" fill="#fff" stroke="#000" stroke-width="1.5" stroke-linejoin="miter"/><path d="M588.7,505.4 L595.7,505.4 L592.2,499.3 Z" fill="#fff" stroke="#000" stroke-width="1.5" stroke-linejoin="miter"/><path d="M562.6,514.3 L569.6,514.3 L566.1,508.2 Z" fill="#fff" stroke="#000" stroke-width="1.5" stroke-linejoin="miter"/><path d="M576.1,511.4 L583.1,511.4 L579.6,505.3 Z" fill="#fff" stroke="#000" stroke-width="1.5" stroke-linejoin="miter"/><path d="M584.3,512.1 L591.3,512.1 L587.8,506.0 Z" fill="#fff" stroke="#000" stroke-width="1.5" stroke-linejoin="miter"/><path d="M602.1,511.4 L609.1,511.4 L605.6,505.3 Z" fill="#fff" stroke="#000" stroke-width="1.5" stroke-linejoin="miter"/><path d="M618.5,506.9 L625.5,506.9 L622.0,500.8 Z" fill="#fff" stroke="#000" stroke-width="1.5" stroke-linejoin="miter"/><path d="M570.8,515.1 L577.8,515.1 L574.3,509.0 Z" fill="#fff" stroke="#000" stroke-width="1.5" stroke-linejoin="miter"/><path d="M579.8,516.6 L586.8,516.6 L583.3,510.5 Z" fill="#fff" stroke="#000" stroke-width="1.5" stroke-linejoin="miter"/><path d="M634.2,515.1 L641.2,515.1 L637.7,509.0 Z" fill="#fff" stroke="#000" stroke-width="1.5" stroke-linejoin="miter"/><path d="M646.9,508.4 L653.9,508.4 L650.4,502.3 Z" fill="#fff" stroke="#000" stroke-width="1.5" stroke-linejoin="miter"/><path d="M627.5,521.0 L634.5,521.0 L631.0,514.9 Z" fill="#fff" stroke="#000" stroke-width="1.5" stroke-linejoin="miter"/><path d="M639.4,524.0 L646.4,524.0 L642.9,517.9 Z" fill="#fff" stroke="#000" stroke-width="1.5" stroke-linejoin="miter"/><path d="M628.2,524.8 L635.2,524.8 L631.7,518.7 Z" fill="#fff" stroke="#000" stroke-width="1.5" stroke-linejoin="miter"/><path d="M608.8,523.3 L615.8,523.3 L612.3,517.2 Z" fill="#fff" stroke="#000" stroke-width="1.5" stroke-linejoin="miter"/><path d="M619.3,527.0 L626.3,527.0 L622.8,520.9 Z" fill="#fff" stroke="#000" stroke-width="1.5" stroke-linejoin="miter"/><path d="M600.6,528.5 L607.6,528.5 L604.1,522.4 Z" fill="#fff" stroke="#000" stroke-width="1.5" stroke-linejoin="miter"/><path d="M573.1,522.5 L580.1,522.5 L576.6,516.4 Z" fill="#fff" stroke="#000" stroke-width="1.5" stroke-linejoin="miter"/><path d="M582.8,523.3 L589.8,523.3 L586.3,517.2 Z" fill="#fff" stroke="#000" stroke-width="1.5" stroke-linejoin="miter"/><path d="M588.7,521.8 L595.7,521.8 L592.2,515.7 Z" fill="#fff" stroke="#000" stroke-width="1.5" stroke-linejoin="miter"/><path d="M569.3,530.7 L576.3,530.7 L572.8,524.6 Z" fill="#fff" stroke="#000" stroke-width="1.5" stroke-linejoin="miter"/><path d="M584.3,530.7 L591.3,530.7 L587.8,524.6 Z" fill="#fff" stroke="#000" stroke-width="1.5" stroke-linejoin="miter"/><path d="M558.2,534.4 L565.2,534.4 L561.7,528.3 Z" fill="#fff" stroke="#000" stroke-width="1.5" stroke-linejoin="miter"/><path d="M555.9,553.0 L562.9,553.0 L559.4,546.9 Z" fill="#fff" stroke="#000" stroke-width="1.5" stroke-linejoin="miter"/><path d="M572.3,535.2 L579.3,535.2 L575.8,529.1 Z" fill="#fff" stroke="#000" stroke-width="1.5" stroke-linejoin="miter"/><path d="M579.8,535.2 L586.8,535.2 L583.3,529.1 Z" fill="#fff" stroke="#000" stroke-width="1.5" stroke-linejoin="miter"/><path d="M592.5,534.4 L599.5,534.4 L596.0,528.3 Z" fill="#fff" stroke="#000" stroke-width="1.5" stroke-linejoin="miter"/><path d="M605.1,533.7 L612.1,533.7 L608.6,527.6 Z" fill="#fff" stroke="#000" stroke-width="1.5" stroke-linejoin="miter"/><path d="M612.6,532.9 L619.6,532.9 L616.1,526.8 Z" fill="#fff" stroke="#000" stroke-width="1.5" stroke-linejoin="miter"/><path d="M628.2,535.9 L635.2,535.9 L631.7,529.8 Z" fill="#fff" stroke="#000" stroke-width="1.5" stroke-linejoin="miter"/><path d="M633.4,535.2 L640.4,535.2 L636.9,529.1 Z" fill="#fff" stroke="#000" stroke-width="1.5" stroke-linejoin="miter"/><path d="M639.4,536.6 L646.4,536.6 L642.9,530.5 Z" fill="#fff" stroke="#000" stroke-width="1.5" stroke-linejoin="miter"/><path d="M646.9,535.9 L653.9,535.9 L650.4,529.8 Z" fill="#fff" stroke="#000" stroke-width="1.5" stroke-linejoin="miter"/><path d="M661.0,532.9 L668.0,532.9 L664.5,526.8 Z" fill="#fff" stroke="#000" stroke-width="1.5" stroke-linejoin="miter"/><path d="M575.3,542.6 L582.3,542.6 L578.8,536.5 Z" fill="#fff" stroke="#000" stroke-width="1.5" stroke-linejoin="miter"/><path d="M585.0,541.9 L592.0,541.9 L588.5,535.8 Z" fill="#fff" stroke="#000" stroke-width="1.5" stroke-linejoin="miter"/><path d="M590.2,540.4 L597.2,540.4 L593.7,534.3 Z" fill="#fff" stroke="#000" stroke-width="1.5" stroke-linejoin="miter"/><path d="M599.9,540.4 L606.9,540.4 L603.4,534.3 Z" fill="#fff" stroke="#000" stroke-width="1.5" stroke-linejoin="miter"/><path d="M567.9,547.8 L574.9,547.8 L571.4,541.7 Z" fill="#fff" stroke="#000" stroke-width="1.5" stroke-linejoin="miter"/><path d="M582.8,550.1 L589.8,550.1 L586.3,544.0 Z" fill="#fff" stroke="#000" stroke-width="1.5" stroke-linejoin="miter"/><path d="M591.7,547.8 L598.7,547.8 L595.2,541.7 Z" fill="#fff" stroke="#000" stroke-width="1.5" stroke-linejoin="miter"/><path d="M596.9,548.6 L603.9,548.6 L600.4,542.5 Z" fill="#fff" stroke="#000" stroke-width="1.5" stroke-linejoin="miter"/><path d="M606.6,550.1 L613.6,550.1 L610.1,544.0 Z" fill="#fff" stroke="#000" stroke-width="1.5" stroke-linejoin="miter"/><path d="M571.6,553.8 L578.6,553.8 L575.1,547.7 Z" fill="#fff" stroke="#000" stroke-width="1.5" stroke-linejoin="miter"/><path d="M579.8,553.8 L586.8,553.8 L583.3,547.7 Z" fill="#fff" stroke="#000" stroke-width="1.5" stroke-linejoin="miter"/><path d="M589.5,553.8 L596.5,553.8 L593.0,547.7 Z" fill="#fff" stroke="#000" stroke-width="1.5" stroke-linejoin="miter"/><path d="M594.7,551.5 L601.7,551.5 L598.2,545.4 Z" fill="#fff" stroke="#000" stroke-width="1.5" stroke-linejoin="miter"/><path d="M606.6,553.8 L613.6,553.8 L610.1,547.7 Z" fill="#fff" stroke="#000" stroke-width="1.5" stroke-linejoin="miter"/><path d="M569.3,556.8 L576.3,556.8 L572.8,550.7 Z" fill="#fff" stroke="#000" stroke-width="1.5" stroke-linejoin="miter"/><path d="M585.7,557.5 L592.7,557.5 L589.2,551.4 Z" fill="#fff" stroke="#000" stroke-width="1.5" stroke-linejoin="miter"/><path d="M593.2,556.8 L600.2,556.8 L596.7,550.7 Z" fill="#fff" stroke="#000" stroke-width="1.5" stroke-linejoin="miter"/><path d="M608.1,557.5 L615.1,557.5 L611.6,551.4 Z" fill="#fff" stroke="#000" stroke-width="1.5" stroke-linejoin="miter"/><path d="M622.3,560.5 L629.3,560.5 L625.8,554.4 Z" fill="#fff" stroke="#000" stroke-width="1.5" stroke-linejoin="miter"/><path d="M571.6,566.5 L578.6,566.5 L575.1,560.4 Z" fill="#fff" stroke="#000" stroke-width="1.5" stroke-linejoin="miter"/><path d="M578.3,565.0 L585.3,565.0 L581.8,558.9 Z" fill="#fff" stroke="#000" stroke-width="1.5" stroke-linejoin="miter"/><path d="M589.9,573.2 L596.9,573.2 L593.4,567.1 Z" fill="#fff" stroke="#000" stroke-width="1.5" stroke-linejoin="miter"/><path d="M572.8,590.3 L579.8,590.3 L576.3,584.2 Z" fill="#fff" stroke="#000" stroke-width="1.5" stroke-linejoin="miter"/><path d="M689.2,479.5 L696.2,479.5 L692.7,473.4 Z" fill="#fff" stroke="#000" stroke-width="1.5" stroke-linejoin="miter"/><path d="M694.7,492.8 L701.7,492.8 L698.2,486.7 Z" fill="#fff" stroke="#000" stroke-width="1.5" stroke-linejoin="miter"/><path d="M720.2,493.7 L727.2,493.7 L723.7,487.6 Z" fill="#fff" stroke="#000" stroke-width="1.5" stroke-linejoin="miter"/><path d="M762.0,489.0 L769.0,489.0 L765.5,482.9 Z" fill="#fff" stroke="#000" stroke-width="1.5" stroke-linejoin="miter"/><path d="M670.7,504.0 L677.7,504.0 L674.2,497.9 Z" fill="#fff" stroke="#000" stroke-width="1.5" stroke-linejoin="miter"/><path d="M656.5,504.3 L663.5,504.3 L660.0,498.2 Z" fill="#fff" stroke="#000" stroke-width="1.5" stroke-linejoin="miter"/><path d="M669.9,523.3 L676.9,523.3 L673.4,517.2 Z" fill="#fff" stroke="#000" stroke-width="1.5" stroke-linejoin="miter"/><path d="M666.8,541.1 L673.8,541.1 L670.3,535.0 Z" fill="#fff" stroke="#000" stroke-width="1.5" stroke-linejoin="miter"/><path d="M721.0,543.0 L728.0,543.0 L724.5,536.9 Z" fill="#fff" stroke="#000" stroke-width="1.5" stroke-linejoin="miter"/><path d="M738.6,552.2 L745.6,552.2 L742.1,546.1 Z" fill="#fff" stroke="#000" stroke-width="1.5" stroke-linejoin="miter"/><path d="M732.8,557.5 L739.8,557.5 L736.3,551.4 Z" fill="#fff" stroke="#000" stroke-width="1.5" stroke-linejoin="miter"/><path d="M769.8,533.2 L776.8,533.2 L773.3,527.1 Z" fill="#fff" stroke="#000" stroke-width="1.5" stroke-linejoin="miter"/><path d="M580.6,504.1 L587.6,504.1 L584.1,498.0 Z" fill="#fff" stroke="#000" stroke-width="1.5" stroke-linejoin="miter"/><path d="M589.4,515.4 L596.4,515.4 L592.9,509.3 Z" fill="#fff" stroke="#000" stroke-width="1.5" stroke-linejoin="miter"/><path d="M579.4,521.7 L586.4,521.7 L582.9,515.6 Z" fill="#fff" stroke="#000" stroke-width="1.5" stroke-linejoin="miter"/><path d="M575.6,528.0 L582.6,528.0 L579.1,521.9 Z" fill="#fff" stroke="#000" stroke-width="1.5" stroke-linejoin="miter"/><path d="M589.4,528.0 L596.4,528.0 L592.9,521.9 Z" fill="#fff" stroke="#000" stroke-width="1.5" stroke-linejoin="miter"/><path d="M578.1,539.3 L585.1,539.3 L581.6,533.2 Z" fill="#fff" stroke="#000" stroke-width="1.5" stroke-linejoin="miter"/><path d="M585.7,538.0 L592.7,538.0 L589.2,531.9 Z" fill="#fff" stroke="#000" stroke-width="1.5" stroke-linejoin="miter"/><path d="M580.6,545.5 L587.6,545.5 L584.1,539.4 Z" fill="#fff" stroke="#000" stroke-width="1.5" stroke-linejoin="miter"/><path d="M595.7,544.3 L602.7,544.3 L599.2,538.2 Z" fill="#fff" stroke="#000" stroke-width="1.5" stroke-linejoin="miter"/><path d="M579.4,550.6 L586.4,550.6 L582.9,544.5 Z" fill="#fff" stroke="#000" stroke-width="1.5" stroke-linejoin="miter"/><path d="M576.9,558.1 L583.9,558.1 L580.4,552.0 Z" fill="#fff" stroke="#000" stroke-width="1.5" stroke-linejoin="miter"/><path d="M583.2,560.6 L590.2,560.6 L586.7,554.5 Z" fill="#fff" stroke="#000" stroke-width="1.5" stroke-linejoin="miter"/><path d="M604.5,530.5 L611.5,530.5 L608.0,524.4 Z" fill="#fff" stroke="#000" stroke-width="1.5" stroke-linejoin="miter"/><path d="M600.7,548.1 L607.7,548.1 L604.2,542.0 Z" fill="#fff" stroke="#000" stroke-width="1.5" stroke-linejoin="miter"/><path d="M613.3,525.5 L620.3,525.5 L616.8,519.4 Z" fill="#fff" stroke="#000" stroke-width="1.5" stroke-linejoin="miter"/><path d="M593.4,510.0 L603.0,510.0 L598.2,502.0 Z" fill="#f0df2c" stroke="#000" stroke-width="1.5" stroke-linejoin="miter"/><path d="M614.3,511.5 L623.9,511.5 L619.1,503.5 Z" fill="#f0df2c" stroke="#000" stroke-width="1.5" stroke-linejoin="miter"/><path d="M603.8,542.0 L613.4,542.0 L608.6,534.0 Z" fill="#f0df2c" stroke="#000" stroke-width="1.5" stroke-linejoin="miter"/><path d="M613.1,541.7 L622.7,541.7 L617.9,533.7 Z" fill="#f0df2c" stroke="#000" stroke-width="1.5" stroke-linejoin="miter"/><path d="M619.5,540.5 L629.1,540.5 L624.3,532.5 Z" fill="#f0df2c" stroke="#000" stroke-width="1.5" stroke-linejoin="miter"/><path d="M574.0,565.1 L583.6,565.1 L578.8,557.1 Z" fill="#f0df2c" stroke="#000" stroke-width="1.5" stroke-linejoin="miter"/><path d="M596.4,566.6 L606.0,566.6 L601.2,558.6 Z" fill="#f0df2c" stroke="#000" stroke-width="1.5" stroke-linejoin="miter"/><path d="M576.7,576.3 L586.3,576.3 L581.5,568.3 Z" fill="#f0df2c" stroke="#000" stroke-width="1.5" stroke-linejoin="miter"/><path d="M596.4,577.0 L606.0,577.0 L601.2,569.0 Z" fill="#f0df2c" stroke="#000" stroke-width="1.5" stroke-linejoin="miter"/></g>
<path d="M559.70,519.70 L563.26,519.22 L566.82,518.73 L570.38,518.23 L573.94,517.72 L577.50,517.18 L581.06,516.62 L584.62,516.04 L588.18,515.43 L591.74,514.78 L595.30,514.10 L598.86,513.37 L602.42,512.60 L605.98,511.78 L609.54,510.91 L613.10,509.99 L616.66,509.02 L620.22,508.00 L623.78,506.95 L627.34,505.86 L630.90,504.74 L634.46,503.59 L638.02,502.42 L641.58,501.23 L645.14,500.02 L648.70,498.79 L652.26,497.56 L655.82,496.31 L659.38,495.06 L662.94,493.79 L666.50,492.52 L670.06,491.25 L673.62,489.96 L677.18,488.68 L680.74,487.39 L684.30,486.09 L687.86,484.80 L691.42,483.50 L694.98,482.19 L698.54,480.89 L702.10,479.58 L705.66,478.27 L709.22,476.96 L712.78,475.65 L716.34,474.34 L719.90,473.02 L723.46,471.71 L727.02,470.39 L730.58,469.07 L734.14,467.75 L737.70,466.43 L741.26,465.11 L744.82,463.79 L748.38,462.47 L751.94,461.15 L755.50,459.82 L759.06,458.50 L762.62,457.18 L766.18,455.85 L769.74,454.53 L773.30,453.20 L773.30,498.60 L769.74,498.99 L766.18,499.39 L762.62,499.78 L759.06,500.17 L755.50,500.57 L751.94,500.96 L748.38,501.36 L744.82,501.76 L741.26,502.15 L737.70,502.55 L734.14,502.95 L730.58,503.35 L727.02,503.75 L723.46,504.15 L719.90,504.55 L716.34,504.96 L712.78,505.36 L709.22,505.77 L705.66,506.18 L702.10,506.59 L698.54,507.00 L694.98,507.41 L691.42,507.83 L687.86,508.24 L684.30,508.66 L680.74,509.09 L677.18,509.52 L673.62,509.95 L670.06,510.39 L666.50,510.83 L662.94,511.28 L659.38,511.73 L655.82,512.19 L652.26,512.66 L648.70,513.15 L645.14,513.64 L641.58,514.15 L638.02,514.68 L634.46,515.22 L630.90,515.79 L627.34,516.39 L623.78,517.02 L620.22,517.68 L616.66,518.39 L613.10,519.14 L609.54,519.94 L605.98,520.78 L602.42,521.68 L598.86,522.63 L595.30,523.62 L591.74,524.65 L588.18,525.73 L584.62,526.83 L581.06,527.97 L577.50,529.13 L573.94,530.31 L570.38,531.51 L566.82,532.73 L563.26,533.96 L559.70,535.20 Z" fill="none" stroke="#3bb91b" stroke-width="2.15"/>
<path d="M559.7,527.45 L773.3,475.9" fill="none" stroke="#3bb91b" stroke-width="4.0"/>
<rect x="549.2" y="353.1" width="235.0999999999999" height="246.5" fill="none" stroke="#000" stroke-width="2.2"/>
<line x1="568.1" y1="600.6" x2="568.1" y2="603.5" stroke="#000" stroke-width="1.6"/>
<text x="568.1" y="615.6" font-size="12.8" text-anchor="middle" fill="#1a1a1a">20</text>
<line x1="646.1" y1="600.6" x2="646.1" y2="603.5" stroke="#000" stroke-width="1.6"/>
<text x="646.1" y="615.6" font-size="12.8" text-anchor="middle" fill="#1a1a1a">40</text>
<line x1="724.1" y1="600.6" x2="724.1" y2="603.5" stroke="#000" stroke-width="1.6"/>
<text x="724.1" y="615.6" font-size="12.8" text-anchor="middle" fill="#1a1a1a">60</text>
<text x="560.46" y="369.6" font-size="13.3" fill="#1a1a1a">β</text>
<text x="571.66" y="369.6" font-size="13.3" fill="#1a1a1a">=</text>
<text x="582.31" y="369.6" font-size="13.3" fill="#1a1a1a">+0.210</text>
<text x="561.36" y="385.2" font-size="13.3" font-style="italic" fill="#1a1a1a">P</text>
<text x="572.66" y="385.2" font-size="13.3" fill="#1a1a1a">=</text>
<text x="584.11" y="385.2" font-size="13.3" fill="#1a1a1a">0.005</text>
<line x1="64.6" y1="361.6" x2="67.5" y2="361.6" stroke="#000" stroke-width="1.6"/>
<text x="61.2" y="366.6" font-size="12.8" text-anchor="end" fill="#1a1a1a">15000</text>
<line x1="64.6" y1="442" x2="67.5" y2="442" stroke="#000" stroke-width="1.6"/>
<text x="61.2" y="447.0" font-size="12.8" text-anchor="end" fill="#1a1a1a">10000</text>
<line x1="64.6" y1="521.6" x2="67.5" y2="521.6" stroke="#000" stroke-width="1.6"/>
<text x="61.2" y="526.6" font-size="12.8" text-anchor="end" fill="#1a1a1a">5000</text>
<text transform="translate(16.2,548.3) rotate(-90)" font-size="14.75" font-weight="bold">CSF sTREM2</text>
<text transform="translate(16.6,448.6) rotate(-90)" font-size="11.45" fill="#1a1a1a">(pg/ml)</text>
<g><rect x="160.6" y="753.5" width="5.0" height="5.0" fill="#fff" stroke="#000" stroke-width="1.5"/><rect x="143.7" y="777.1" width="5.0" height="5.0" fill="#fff" stroke="#000" stroke-width="1.5"/><rect x="164.3" y="790.5" width="5.0" height="5.0" fill="#fff" stroke="#000" stroke-width="1.5"/><rect x="153.8" y="800.0" width="5.0" height="5.0" fill="#fff" stroke="#000" stroke-width="1.5"/><rect x="101.7" y="807.0" width="5.0" height="5.0" fill="#fff" stroke="#000" stroke-width="1.5"/><rect x="137.8" y="808.9" width="5.0" height="5.0" fill="#fff" stroke="#000" stroke-width="1.5"/><rect x="170.0" y="808.9" width="5.0" height="5.0" fill="#fff" stroke="#000" stroke-width="1.5"/><rect x="134.5" y="817.5" width="5.0" height="5.0" fill="#fff" stroke="#000" stroke-width="1.5"/><rect x="104.1" y="821.2" width="5.0" height="5.0" fill="#fff" stroke="#000" stroke-width="1.5"/><rect x="106.0" y="824.3" width="5.0" height="5.0" fill="#fff" stroke="#000" stroke-width="1.5"/><rect x="140.2" y="825.2" width="5.0" height="5.0" fill="#fff" stroke="#000" stroke-width="1.5"/><rect x="126.2" y="828.0" width="5.0" height="5.0" fill="#fff" stroke="#000" stroke-width="1.5"/><rect x="110.6" y="831.3" width="5.0" height="5.0" fill="#fff" stroke="#000" stroke-width="1.5"/><rect x="117.6" y="831.3" width="5.0" height="5.0" fill="#fff" stroke="#000" stroke-width="1.5"/><rect x="122.5" y="832.8" width="5.0" height="5.0" fill="#fff" stroke="#000" stroke-width="1.5"/><rect x="117.9" y="835.9" width="5.0" height="5.0" fill="#fff" stroke="#000" stroke-width="1.5"/><rect x="123.4" y="838.1" width="5.0" height="5.0" fill="#fff" stroke="#000" stroke-width="1.5"/><rect x="78.9" y="836.5" width="5.0" height="5.0" fill="#fff" stroke="#000" stroke-width="1.5"/><rect x="144.6" y="835.0" width="5.0" height="5.0" fill="#fff" stroke="#000" stroke-width="1.5"/><rect x="146.4" y="835.0" width="5.0" height="5.0" fill="#fff" stroke="#000" stroke-width="1.5"/><rect x="141.3" y="840.0" width="5.0" height="5.0" fill="#fff" stroke="#000" stroke-width="1.5"/><rect x="152.5" y="842.0" width="5.0" height="5.0" fill="#fff" stroke="#000" stroke-width="1.5"/><rect x="165.0" y="839.2" width="5.0" height="5.0" fill="#fff" stroke="#000" stroke-width="1.5"/><rect x="172.2" y="837.8" width="5.0" height="5.0" fill="#fff" stroke="#000" stroke-width="1.5"/><rect x="178.1" y="838.7" width="5.0" height="5.0" fill="#fff" stroke="#000" stroke-width="1.5"/><rect x="181.8" y="833.2" width="5.0" height="5.0" fill="#fff" stroke="#000" stroke-width="1.5"/><rect x="119.8" y="842.7" width="5.0" height="5.0" fill="#fff" stroke="#000" stroke-width="1.5"/><rect x="118.8" y="847.5" width="5.0" height="5.0" fill="#fff" stroke="#000" stroke-width="1.5"/><rect x="117.0" y="849.7" width="5.0" height="5.0" fill="#fff" stroke="#000" stroke-width="1.5"/><rect x="111.5" y="850.6" width="5.0" height="5.0" fill="#fff" stroke="#000" stroke-width="1.5"/><rect x="104.1" y="853.4" width="5.0" height="5.0" fill="#fff" stroke="#000" stroke-width="1.5"/><rect x="125.3" y="850.6" width="5.0" height="5.0" fill="#fff" stroke="#000" stroke-width="1.5"/><rect x="164.8" y="851.0" width="5.0" height="5.0" fill="#fff" stroke="#000" stroke-width="1.5"/><rect x="175.9" y="848.4" width="5.0" height="5.0" fill="#fff" stroke="#000" stroke-width="1.5"/><rect x="155.6" y="853.0" width="5.0" height="5.0" fill="#fff" stroke="#000" stroke-width="1.5"/><rect x="83.9" y="858.0" width="5.0" height="5.0" fill="#fff" stroke="#000" stroke-width="1.5"/><rect x="78.4" y="862.6" width="5.0" height="5.0" fill="#fff" stroke="#000" stroke-width="1.5"/><rect x="101.4" y="862.6" width="5.0" height="5.0" fill="#fff" stroke="#000" stroke-width="1.5"/><rect x="131.7" y="857.1" width="5.0" height="5.0" fill="#fff" stroke="#000" stroke-width="1.5"/><rect x="135.4" y="858.0" width="5.0" height="5.0" fill="#fff" stroke="#000" stroke-width="1.5"/><rect x="141.8" y="855.2" width="5.0" height="5.0" fill="#fff" stroke="#000" stroke-width="1.5"/><rect x="160.2" y="864.1" width="5.0" height="5.0" fill="#fff" stroke="#000" stroke-width="1.5"/><rect x="174.0" y="871.8" width="5.0" height="5.0" fill="#fff" stroke="#000" stroke-width="1.5"/><rect x="180.5" y="866.3" width="5.0" height="5.0" fill="#fff" stroke="#000" stroke-width="1.5"/><rect x="181.4" y="869.0" width="5.0" height="5.0" fill="#fff" stroke="#000" stroke-width="1.5"/><rect x="112.4" y="868.1" width="5.0" height="5.0" fill="#fff" stroke="#000" stroke-width="1.5"/><rect x="115.2" y="864.4" width="5.0" height="5.0" fill="#fff" stroke="#000" stroke-width="1.5"/><rect x="133.6" y="869.0" width="5.0" height="5.0" fill="#fff" stroke="#000" stroke-width="1.5"/><rect x="133.6" y="871.8" width="5.0" height="5.0" fill="#fff" stroke="#000" stroke-width="1.5"/><rect x="142.4" y="870.9" width="5.0" height="5.0" fill="#fff" stroke="#000" stroke-width="1.5"/><rect x="147.0" y="870.3" width="5.0" height="5.0" fill="#fff" stroke="#000" stroke-width="1.5"/><rect x="79.3" y="874.5" width="5.0" height="5.0" fill="#fff" stroke="#000" stroke-width="1.5"/><rect x="109.3" y="874.0" width="5.0" height="5.0" fill="#fff" stroke="#000" stroke-width="1.5"/><rect x="116.1" y="875.8" width="5.0" height="5.0" fill="#fff" stroke="#000" stroke-width="1.5"/><rect x="121.6" y="874.5" width="5.0" height="5.0" fill="#fff" stroke="#000" stroke-width="1.5"/><rect x="129.9" y="875.1" width="5.0" height="5.0" fill="#fff" stroke="#000" stroke-width="1.5"/><rect x="134.5" y="878.2" width="5.0" height="5.0" fill="#fff" stroke="#000" stroke-width="1.5"/><rect x="81.1" y="881.0" width="5.0" height="5.0" fill="#fff" stroke="#000" stroke-width="1.5"/><rect x="76.5" y="885.6" width="5.0" height="5.0" fill="#fff" stroke="#000" stroke-width="1.5"/><rect x="83.0" y="886.5" width="5.0" height="5.0" fill="#fff" stroke="#000" stroke-width="1.5"/><rect x="83.0" y="889.8" width="5.0" height="5.0" fill="#fff" stroke="#000" stroke-width="1.5"/><rect x="120.7" y="884.7" width="5.0" height="5.0" fill="#fff" stroke="#000" stroke-width="1.5"/><rect x="129.9" y="884.7" width="5.0" height="5.0" fill="#fff" stroke="#000" stroke-width="1.5"/><rect x="129.9" y="887.4" width="5.0" height="5.0" fill="#fff" stroke="#000" stroke-width="1.5"/><rect x="137.2" y="881.0" width="5.0" height="5.0" fill="#fff" stroke="#000" stroke-width="1.5"/><rect x="150.1" y="881.0" width="5.0" height="5.0" fill="#fff" stroke="#000" stroke-width="1.5"/><rect x="158.4" y="888.7" width="5.0" height="5.0" fill="#fff" stroke="#000" stroke-width="1.5"/><rect x="163.0" y="884.7" width="5.0" height="5.0" fill="#fff" stroke="#000" stroke-width="1.5"/><rect x="164.8" y="881.0" width="5.0" height="5.0" fill="#fff" stroke="#000" stroke-width="1.5"/><rect x="163.9" y="889.3" width="5.0" height="5.0" fill="#fff" stroke="#000" stroke-width="1.5"/><rect x="172.2" y="886.5" width="5.0" height="5.0" fill="#fff" stroke="#000" stroke-width="1.5"/><rect x="144.2" y="891.7" width="5.0" height="5.0" fill="#fff" stroke="#000" stroke-width="1.5"/><rect x="164.5" y="895.2" width="5.0" height="5.0" fill="#fff" stroke="#000" stroke-width="1.5"/><rect x="124.7" y="897.2" width="5.0" height="5.0" fill="#fff" stroke="#000" stroke-width="1.5"/><rect x="139.6" y="899.4" width="5.0" height="5.0" fill="#fff" stroke="#000" stroke-width="1.5"/><rect x="76.5" y="901.2" width="5.0" height="5.0" fill="#fff" stroke="#000" stroke-width="1.5"/><rect x="188.0" y="807.1" width="5.0" height="5.0" fill="#fff" stroke="#000" stroke-width="1.5"/><rect x="200.1" y="820.7" width="5.0" height="5.0" fill="#fff" stroke="#000" stroke-width="1.5"/><rect x="222.4" y="817.9" width="5.0" height="5.0" fill="#fff" stroke="#000" stroke-width="1.5"/><rect x="241.4" y="819.8" width="5.0" height="5.0" fill="#fff" stroke="#000" stroke-width="1.5"/><rect x="246.0" y="824.9" width="5.0" height="5.0" fill="#fff" stroke="#000" stroke-width="1.5"/><rect x="253.3" y="827.7" width="5.0" height="5.0" fill="#fff" stroke="#000" stroke-width="1.5"/><rect x="289.2" y="830.4" width="5.0" height="5.0" fill="#fff" stroke="#000" stroke-width="1.5"/><rect x="285.7" y="843.9" width="5.0" height="5.0" fill="#fff" stroke="#000" stroke-width="1.5"/><rect x="187.1" y="831.0" width="5.0" height="5.0" fill="#fff" stroke="#000" stroke-width="1.5"/><rect x="185.2" y="836.5" width="5.0" height="5.0" fill="#fff" stroke="#000" stroke-width="1.5"/><rect x="190.0" y="842.0" width="5.0" height="5.0" fill="#fff" stroke="#000" stroke-width="1.5"/><rect x="195.0" y="845.2" width="5.0" height="5.0" fill="#fff" stroke="#000" stroke-width="1.5"/><rect x="214.3" y="840.9" width="5.0" height="5.0" fill="#fff" stroke="#000" stroke-width="1.5"/><rect x="263.4" y="855.3" width="5.0" height="5.0" fill="#fff" stroke="#000" stroke-width="1.5"/><rect x="179.3" y="855.3" width="5.0" height="5.0" fill="#fff" stroke="#000" stroke-width="1.5"/><rect x="188.5" y="852.5" width="5.0" height="5.0" fill="#fff" stroke="#000" stroke-width="1.5"/><rect x="206.0" y="858.0" width="5.0" height="5.0" fill="#fff" stroke="#000" stroke-width="1.5"/><rect x="221.7" y="856.7" width="5.0" height="5.0" fill="#fff" stroke="#000" stroke-width="1.5"/><rect x="221.3" y="861.3" width="5.0" height="5.0" fill="#fff" stroke="#000" stroke-width="1.5"/><rect x="194.1" y="860.8" width="5.0" height="5.0" fill="#fff" stroke="#000" stroke-width="1.5"/><rect x="186.7" y="863.6" width="5.0" height="5.0" fill="#fff" stroke="#000" stroke-width="1.5"/><rect x="205.1" y="864.5" width="5.0" height="5.0" fill="#fff" stroke="#000" stroke-width="1.5"/><rect x="207.3" y="866.3" width="5.0" height="5.0" fill="#fff" stroke="#000" stroke-width="1.5"/><rect x="206.0" y="870.0" width="5.0" height="5.0" fill="#fff" stroke="#000" stroke-width="1.5"/><rect x="234.9" y="864.1" width="5.0" height="5.0" fill="#fff" stroke="#000" stroke-width="1.5"/><rect x="246.0" y="868.7" width="5.0" height="5.0" fill="#fff" stroke="#000" stroke-width="1.5"/><rect x="200.5" y="875.5" width="5.0" height="5.0" fill="#fff" stroke="#000" stroke-width="1.5"/><rect x="185.8" y="877.4" width="5.0" height="5.0" fill="#fff" stroke="#000" stroke-width="1.5"/><rect x="192.2" y="877.4" width="5.0" height="5.0" fill="#fff" stroke="#000" stroke-width="1.5"/><rect x="228.1" y="875.5" width="5.0" height="5.0" fill="#fff" stroke="#000" stroke-width="1.5"/><rect x="232.7" y="872.8" width="5.0" height="5.0" fill="#fff" stroke="#000" stroke-width="1.5"/><rect x="210.6" y="885.3" width="5.0" height="5.0" fill="#fff" stroke="#000" stroke-width="1.5"/><rect x="216.1" y="881.4" width="5.0" height="5.0" fill="#fff" stroke="#000" stroke-width="1.5"/><rect x="225.7" y="886.9" width="5.0" height="5.0" fill="#fff" stroke="#000" stroke-width="1.5"/><rect x="199.2" y="896.7" width="5.0" height="5.0" fill="#fff" stroke="#000" stroke-width="1.5"/><rect x="164.0" y="869.2" width="6.6" height="6.6" fill="#f0df2c" stroke="#000" stroke-width="1.5"/><rect x="172.3" y="880.2" width="6.6" height="6.6" fill="#f0df2c" stroke="#000" stroke-width="1.5"/><rect x="178.8" y="888.5" width="6.6" height="6.6" fill="#f0df2c" stroke="#000" stroke-width="1.5"/><rect x="86.2" y="900.1" width="6.6" height="6.6" fill="#f0df2c" stroke="#000" stroke-width="1.5"/><rect x="210.7" y="825.0" width="6.6" height="6.6" fill="#f0df2c" stroke="#000" stroke-width="1.5"/><rect x="185.5" y="883.4" width="6.6" height="6.6" fill="#f0df2c" stroke="#000" stroke-width="1.5"/></g>
<path d="M78.40,854.60 L81.96,854.70 L85.52,854.79 L89.09,854.88 L92.65,854.97 L96.21,855.05 L99.77,855.12 L103.33,855.19 L106.89,855.26 L110.46,855.31 L114.02,855.36 L117.58,855.40 L121.14,855.43 L124.70,855.44 L128.26,855.45 L131.83,855.44 L135.39,855.41 L138.95,855.36 L142.51,855.30 L146.07,855.21 L149.63,855.10 L153.20,854.96 L156.76,854.80 L160.32,854.61 L163.88,854.39 L167.44,854.15 L171.00,853.88 L174.56,853.58 L178.13,853.25 L181.69,852.91 L185.25,852.54 L188.81,852.15 L192.37,851.75 L195.94,851.33 L199.50,850.89 L203.06,850.45 L206.62,849.99 L210.18,849.52 L213.74,849.05 L217.31,848.56 L220.87,848.07 L224.43,847.57 L227.99,847.07 L231.55,846.56 L235.11,846.05 L238.68,845.54 L242.24,845.02 L245.80,844.49 L249.36,843.97 L252.92,843.44 L256.48,842.91 L260.05,842.37 L263.61,841.84 L267.17,841.30 L270.73,840.76 L274.29,840.22 L277.85,839.68 L281.42,839.14 L284.98,838.59 L288.54,838.05 L292.10,837.50 L292.10,865.00 L288.54,864.88 L284.98,864.76 L281.42,864.64 L277.85,864.52 L274.29,864.40 L270.73,864.29 L267.17,864.17 L263.61,864.06 L260.05,863.95 L256.48,863.84 L252.92,863.74 L249.36,863.63 L245.80,863.53 L242.24,863.43 L238.68,863.34 L235.11,863.25 L231.55,863.16 L227.99,863.08 L224.43,863.00 L220.87,862.93 L217.31,862.86 L213.74,862.80 L210.18,862.75 L206.62,862.71 L203.06,862.68 L199.50,862.66 L195.94,862.65 L192.37,862.65 L188.81,862.67 L185.25,862.71 L181.69,862.77 L178.13,862.85 L174.56,862.95 L171.00,863.07 L167.44,863.23 L163.88,863.41 L160.32,863.61 L156.76,863.85 L153.20,864.11 L149.63,864.40 L146.07,864.71 L142.51,865.05 L138.95,865.41 L135.39,865.79 L131.83,866.19 L128.26,866.60 L124.70,867.03 L121.14,867.47 L117.58,867.93 L114.02,868.39 L110.46,868.86 L106.89,869.34 L103.33,869.83 L99.77,870.33 L96.21,870.83 L92.65,871.33 L89.09,871.85 L85.52,872.36 L81.96,872.88 L78.40,873.40 Z" fill="none" stroke="#17a5d8" stroke-width="2.15"/>
<path d="M78.4,864.0 L292.1,851.25" fill="none" stroke="#17a5d8" stroke-width="4.0"/>
<rect x="68.1" y="672" width="234.29999999999998" height="243.89999999999998" fill="none" stroke="#000" stroke-width="2.2"/>
<line x1="82" y1="916.9" x2="82" y2="919.8" stroke="#000" stroke-width="1.6"/>
<text x="86.0" y="930.9" font-size="12.8" text-anchor="middle" fill="#1a1a1a">1000</text>
<line x1="159.6" y1="916.9" x2="159.6" y2="919.8" stroke="#000" stroke-width="1.6"/>
<text x="159.6" y="930.9" font-size="12.8" text-anchor="middle" fill="#1a1a1a">1500</text>
<line x1="237.2" y1="916.9" x2="237.2" y2="919.8" stroke="#000" stroke-width="1.6"/>
<text x="237.2" y="930.9" font-size="12.8" text-anchor="middle" fill="#1a1a1a">2000</text>
<text x="77.45" y="686.3" font-size="13.3" fill="#1a1a1a">β</text>
<text x="88.65" y="686.3" font-size="13.3" fill="#1a1a1a">=</text>
<text x="99.30" y="686.3" font-size="13.3" fill="#1a1a1a">+0.125</text>
<text x="78.35" y="701.1" font-size="13.3" font-style="italic" fill="#1a1a1a">P</text>
<text x="89.65" y="701.1" font-size="13.3" fill="#1a1a1a">=</text>
<text x="101.10" y="701.1" font-size="13.3" fill="#1a1a1a">0.152</text>
<g><circle cx="393.7" cy="858.6" r="2.85" fill="#fff" stroke="#000" stroke-width="1.5"/><circle cx="456.6" cy="865.1" r="2.85" fill="#fff" stroke="#000" stroke-width="1.5"/><circle cx="429.7" cy="888.0" r="2.85" fill="#fff" stroke="#000" stroke-width="1.5"/><circle cx="523.0" cy="859.9" r="2.85" fill="#fff" stroke="#000" stroke-width="1.5"/><circle cx="466.2" cy="861.9" r="2.85" fill="#fff" stroke="#000" stroke-width="1.5"/><circle cx="498.2" cy="889.8" r="2.85" fill="#fff" stroke="#000" stroke-width="1.5"/><circle cx="462.8" cy="858.9" r="2.85" fill="#fff" stroke="#000" stroke-width="1.5"/><circle cx="511.6" cy="896.6" r="2.85" fill="#fff" stroke="#000" stroke-width="1.5"/><circle cx="407.3" cy="887.2" r="2.85" fill="#fff" stroke="#000" stroke-width="1.5"/><circle cx="511.3" cy="872.5" r="2.85" fill="#fff" stroke="#000" stroke-width="1.5"/><circle cx="494.3" cy="860.9" r="2.85" fill="#fff" stroke="#000" stroke-width="1.5"/><circle cx="495.3" cy="872.2" r="2.85" fill="#fff" stroke="#000" stroke-width="1.5"/><circle cx="417.0" cy="882.9" r="2.85" fill="#fff" stroke="#000" stroke-width="1.5"/><circle cx="494.6" cy="898.3" r="2.85" fill="#fff" stroke="#000" stroke-width="1.5"/><circle cx="523.7" cy="871.2" r="2.85" fill="#fff" stroke="#000" stroke-width="1.5"/><circle cx="389.3" cy="873.7" r="2.85" fill="#fff" stroke="#000" stroke-width="1.5"/><circle cx="499.8" cy="871.5" r="2.85" fill="#fff" stroke="#000" stroke-width="1.5"/><circle cx="390.6" cy="861.7" r="2.85" fill="#fff" stroke="#000" stroke-width="1.5"/><circle cx="489.5" cy="871.5" r="2.85" fill="#fff" stroke="#000" stroke-width="1.5"/><circle cx="397.4" cy="880.0" r="2.85" fill="#fff" stroke="#000" stroke-width="1.5"/><circle cx="407.9" cy="869.0" r="2.85" fill="#fff" stroke="#000" stroke-width="1.5"/><circle cx="397.6" cy="856.4" r="2.85" fill="#fff" stroke="#000" stroke-width="1.5"/><circle cx="521.4" cy="892.1" r="2.85" fill="#fff" stroke="#000" stroke-width="1.5"/><circle cx="518.0" cy="881.0" r="2.85" fill="#fff" stroke="#000" stroke-width="1.5"/><circle cx="518.6" cy="886.7" r="2.85" fill="#fff" stroke="#000" stroke-width="1.5"/><circle cx="423.1" cy="869.6" r="2.85" fill="#fff" stroke="#000" stroke-width="1.5"/><circle cx="494.1" cy="893.6" r="2.85" fill="#fff" stroke="#000" stroke-width="1.5"/><circle cx="503.6" cy="893.7" r="2.85" fill="#fff" stroke="#000" stroke-width="1.5"/><circle cx="515.7" cy="874.9" r="2.85" fill="#fff" stroke="#000" stroke-width="1.5"/><circle cx="511.2" cy="861.3" r="2.85" fill="#fff" stroke="#000" stroke-width="1.5"/><circle cx="503.1" cy="864.7" r="2.85" fill="#fff" stroke="#000" stroke-width="1.5"/><circle cx="466.7" cy="888.7" r="2.85" fill="#fff" stroke="#000" stroke-width="1.5"/><circle cx="483.8" cy="870.2" r="2.85" fill="#fff" stroke="#000" stroke-width="1.5"/><circle cx="473.7" cy="855.3" r="2.85" fill="#fff" stroke="#000" stroke-width="1.5"/><circle cx="422.5" cy="856.2" r="2.85" fill="#fff" stroke="#000" stroke-width="1.5"/><circle cx="469.0" cy="896.9" r="2.85" fill="#fff" stroke="#000" stroke-width="1.5"/><circle cx="475.6" cy="867.7" r="2.85" fill="#fff" stroke="#000" stroke-width="1.5"/><circle cx="528.2" cy="874.2" r="2.85" fill="#fff" stroke="#000" stroke-width="1.5"/><circle cx="459.5" cy="889.0" r="2.85" fill="#fff" stroke="#000" stroke-width="1.5"/><circle cx="476.9" cy="895.1" r="2.85" fill="#fff" stroke="#000" stroke-width="1.5"/><circle cx="470.0" cy="686.1" r="2.85" fill="#fff" stroke="#000" stroke-width="1.5"/><circle cx="443.4" cy="718.6" r="2.85" fill="#fff" stroke="#000" stroke-width="1.5"/><circle cx="455.4" cy="738.3" r="2.85" fill="#fff" stroke="#000" stroke-width="1.5"/><circle cx="385.9" cy="751.7" r="2.85" fill="#fff" stroke="#000" stroke-width="1.5"/><circle cx="443.1" cy="753.5" r="2.85" fill="#fff" stroke="#000" stroke-width="1.5"/><circle cx="462.5" cy="749.6" r="2.85" fill="#fff" stroke="#000" stroke-width="1.5"/><circle cx="488.7" cy="752.3" r="2.85" fill="#fff" stroke="#000" stroke-width="1.5"/><circle cx="498.9" cy="746.0" r="2.85" fill="#fff" stroke="#000" stroke-width="1.5"/><circle cx="511.1" cy="743.9" r="2.85" fill="#fff" stroke="#000" stroke-width="1.5"/><circle cx="355.8" cy="762.7" r="2.85" fill="#fff" stroke="#000" stroke-width="1.5"/><circle cx="372.5" cy="767.8" r="2.85" fill="#fff" stroke="#000" stroke-width="1.5"/><circle cx="402.3" cy="767.2" r="2.85" fill="#fff" stroke="#000" stroke-width="1.5"/><circle cx="413.3" cy="760.6" r="2.85" fill="#fff" stroke="#000" stroke-width="1.5"/><circle cx="411.8" cy="772.9" r="2.85" fill="#fff" stroke="#000" stroke-width="1.5"/><circle cx="411.8" cy="779.1" r="2.85" fill="#fff" stroke="#000" stroke-width="1.5"/><circle cx="426.1" cy="770.8" r="2.85" fill="#fff" stroke="#000" stroke-width="1.5"/><circle cx="428.2" cy="768.4" r="2.85" fill="#fff" stroke="#000" stroke-width="1.5"/><circle cx="431.5" cy="764.2" r="2.85" fill="#fff" stroke="#000" stroke-width="1.5"/><circle cx="467.9" cy="762.4" r="2.85" fill="#fff" stroke="#000" stroke-width="1.5"/><circle cx="470.3" cy="775.8" r="2.85" fill="#fff" stroke="#000" stroke-width="1.5"/><circle cx="495.9" cy="773.5" r="2.85" fill="#fff" stroke="#000" stroke-width="1.5"/><circle cx="493.5" cy="782.4" r="2.85" fill="#fff" stroke="#000" stroke-width="1.5"/><circle cx="355.5" cy="790.1" r="2.85" fill="#fff" stroke="#000" stroke-width="1.5"/><circle cx="405.3" cy="789.3" r="2.85" fill="#fff" stroke="#000" stroke-width="1.5"/><circle cx="446.1" cy="784.5" r="2.85" fill="#fff" stroke="#000" stroke-width="1.5"/><circle cx="450.0" cy="785.1" r="2.85" fill="#fff" stroke="#000" stroke-width="1.5"/><circle cx="457.2" cy="780.9" r="2.85" fill="#fff" stroke="#000" stroke-width="1.5"/><circle cx="455.1" cy="789.3" r="2.85" fill="#fff" stroke="#000" stroke-width="1.5"/><circle cx="462.8" cy="790.1" r="2.85" fill="#fff" stroke="#000" stroke-width="1.5"/><circle cx="475.0" cy="791.0" r="2.85" fill="#fff" stroke="#000" stroke-width="1.5"/><circle cx="411.8" cy="795.2" r="2.85" fill="#fff" stroke="#000" stroke-width="1.5"/><circle cx="419.3" cy="796.1" r="2.85" fill="#fff" stroke="#000" stroke-width="1.5"/><circle cx="425.3" cy="795.2" r="2.85" fill="#fff" stroke="#000" stroke-width="1.5"/><circle cx="442.2" cy="793.7" r="2.85" fill="#fff" stroke="#000" stroke-width="1.5"/><circle cx="452.1" cy="795.2" r="2.85" fill="#fff" stroke="#000" stroke-width="1.5"/><circle cx="456.3" cy="793.4" r="2.85" fill="#fff" stroke="#000" stroke-width="1.5"/><circle cx="471.5" cy="794.6" r="2.85" fill="#fff" stroke="#000" stroke-width="1.5"/><circle cx="508.7" cy="798.2" r="2.85" fill="#fff" stroke="#000" stroke-width="1.5"/><circle cx="531.1" cy="787.8" r="2.85" fill="#fff" stroke="#000" stroke-width="1.5"/><circle cx="346.3" cy="800.0" r="2.85" fill="#fff" stroke="#000" stroke-width="1.5"/><circle cx="362.1" cy="800.6" r="2.85" fill="#fff" stroke="#000" stroke-width="1.5"/><circle cx="434.2" cy="799.7" r="2.85" fill="#fff" stroke="#000" stroke-width="1.5"/><circle cx="463.1" cy="798.8" r="2.85" fill="#fff" stroke="#000" stroke-width="1.5"/><circle cx="367.1" cy="804.6" r="2.85" fill="#fff" stroke="#000" stroke-width="1.5"/><circle cx="364.4" cy="809.1" r="2.85" fill="#fff" stroke="#000" stroke-width="1.5"/><circle cx="374.3" cy="809.8" r="2.85" fill="#fff" stroke="#000" stroke-width="1.5"/><circle cx="381.6" cy="808.3" r="2.85" fill="#fff" stroke="#000" stroke-width="1.5"/><circle cx="383.1" cy="818.0" r="2.85" fill="#fff" stroke="#000" stroke-width="1.5"/><circle cx="394.0" cy="812.4" r="2.85" fill="#fff" stroke="#000" stroke-width="1.5"/><circle cx="393.2" cy="815.3" r="2.85" fill="#fff" stroke="#000" stroke-width="1.5"/><circle cx="403.2" cy="813.8" r="2.85" fill="#fff" stroke="#000" stroke-width="1.5"/><circle cx="404.8" cy="818.0" r="2.85" fill="#fff" stroke="#000" stroke-width="1.5"/><circle cx="406.6" cy="823.5" r="2.85" fill="#fff" stroke="#000" stroke-width="1.5"/><circle cx="404.4" cy="829.1" r="2.85" fill="#fff" stroke="#000" stroke-width="1.5"/><circle cx="399.6" cy="832.5" r="2.85" fill="#fff" stroke="#000" stroke-width="1.5"/><circle cx="410.4" cy="807.9" r="2.85" fill="#fff" stroke="#000" stroke-width="1.5"/><circle cx="413.3" cy="813.1" r="2.85" fill="#fff" stroke="#000" stroke-width="1.5"/><circle cx="417.8" cy="807.1" r="2.85" fill="#fff" stroke="#000" stroke-width="1.5"/><circle cx="417.1" cy="813.1" r="2.85" fill="#fff" stroke="#000" stroke-width="1.5"/><circle cx="422.3" cy="809.4" r="2.85" fill="#fff" stroke="#000" stroke-width="1.5"/><circle cx="424.5" cy="804.2" r="2.85" fill="#fff" stroke="#000" stroke-width="1.5"/><circle cx="423.0" cy="816.1" r="2.85" fill="#fff" stroke="#000" stroke-width="1.5"/><circle cx="362.4" cy="828.0" r="2.85" fill="#fff" stroke="#000" stroke-width="1.5"/><circle cx="371.9" cy="831.0" r="2.85" fill="#fff" stroke="#000" stroke-width="1.5"/><circle cx="383.8" cy="831.0" r="2.85" fill="#fff" stroke="#000" stroke-width="1.5"/><circle cx="421.5" cy="828.0" r="2.85" fill="#fff" stroke="#000" stroke-width="1.5"/><circle cx="425.3" cy="833.2" r="2.85" fill="#fff" stroke="#000" stroke-width="1.5"/><circle cx="356.7" cy="837.7" r="2.85" fill="#fff" stroke="#000" stroke-width="1.5"/><circle cx="369.4" cy="842.9" r="2.85" fill="#fff" stroke="#000" stroke-width="1.5"/><circle cx="385.0" cy="843.7" r="2.85" fill="#fff" stroke="#000" stroke-width="1.5"/><circle cx="383.5" cy="846.6" r="2.85" fill="#fff" stroke="#000" stroke-width="1.5"/><circle cx="393.2" cy="844.4" r="2.85" fill="#fff" stroke="#000" stroke-width="1.5"/><circle cx="396.9" cy="841.4" r="2.85" fill="#fff" stroke="#000" stroke-width="1.5"/><circle cx="399.9" cy="842.2" r="2.85" fill="#fff" stroke="#000" stroke-width="1.5"/><circle cx="400.7" cy="845.9" r="2.85" fill="#fff" stroke="#000" stroke-width="1.5"/><circle cx="420.8" cy="841.4" r="2.85" fill="#fff" stroke="#000" stroke-width="1.5"/><circle cx="424.5" cy="843.7" r="2.85" fill="#fff" stroke="#000" stroke-width="1.5"/><circle cx="356.7" cy="846.6" r="2.85" fill="#fff" stroke="#000" stroke-width="1.5"/><circle cx="365.6" cy="846.6" r="2.85" fill="#fff" stroke="#000" stroke-width="1.5"/><circle cx="350.7" cy="851.9" r="2.85" fill="#fff" stroke="#000" stroke-width="1.5"/><circle cx="358.2" cy="851.9" r="2.85" fill="#fff" stroke="#000" stroke-width="1.5"/><circle cx="365.6" cy="851.1" r="2.85" fill="#fff" stroke="#000" stroke-width="1.5"/><circle cx="371.6" cy="850.4" r="2.85" fill="#fff" stroke="#000" stroke-width="1.5"/><circle cx="380.5" cy="851.9" r="2.85" fill="#fff" stroke="#000" stroke-width="1.5"/><circle cx="396.9" cy="851.1" r="2.85" fill="#fff" stroke="#000" stroke-width="1.5"/><circle cx="413.3" cy="849.6" r="2.85" fill="#fff" stroke="#000" stroke-width="1.5"/><circle cx="332.1" cy="861.6" r="2.85" fill="#fff" stroke="#000" stroke-width="1.5"/><circle cx="344.8" cy="860.7" r="2.85" fill="#fff" stroke="#000" stroke-width="1.5"/><circle cx="349.2" cy="861.9" r="2.85" fill="#fff" stroke="#000" stroke-width="1.5"/><circle cx="356.7" cy="859.7" r="2.85" fill="#fff" stroke="#000" stroke-width="1.5"/><circle cx="360.4" cy="864.2" r="2.85" fill="#fff" stroke="#000" stroke-width="1.5"/><circle cx="346.3" cy="867.1" r="2.85" fill="#fff" stroke="#000" stroke-width="1.5"/><circle cx="351.5" cy="868.6" r="2.85" fill="#fff" stroke="#000" stroke-width="1.5"/><circle cx="352.2" cy="873.8" r="2.85" fill="#fff" stroke="#000" stroke-width="1.5"/><circle cx="338.1" cy="873.1" r="2.85" fill="#fff" stroke="#000" stroke-width="1.5"/><circle cx="340.3" cy="872.1" r="2.85" fill="#fff" stroke="#000" stroke-width="1.5"/><circle cx="371.6" cy="868.6" r="2.85" fill="#fff" stroke="#000" stroke-width="1.5"/><circle cx="377.6" cy="861.9" r="2.85" fill="#fff" stroke="#000" stroke-width="1.5"/><circle cx="382.0" cy="861.2" r="2.85" fill="#fff" stroke="#000" stroke-width="1.5"/><circle cx="386.5" cy="858.9" r="2.85" fill="#fff" stroke="#000" stroke-width="1.5"/><circle cx="379.8" cy="873.1" r="2.85" fill="#fff" stroke="#000" stroke-width="1.5"/><circle cx="385.0" cy="871.6" r="2.85" fill="#fff" stroke="#000" stroke-width="1.5"/><circle cx="392.5" cy="868.6" r="2.85" fill="#fff" stroke="#000" stroke-width="1.5"/><circle cx="398.4" cy="866.4" r="2.85" fill="#fff" stroke="#000" stroke-width="1.5"/><circle cx="405.9" cy="863.4" r="2.85" fill="#fff" stroke="#000" stroke-width="1.5"/><circle cx="411.8" cy="858.9" r="2.85" fill="#fff" stroke="#000" stroke-width="1.5"/><circle cx="419.3" cy="861.2" r="2.85" fill="#fff" stroke="#000" stroke-width="1.5"/><circle cx="424.5" cy="863.4" r="2.85" fill="#fff" stroke="#000" stroke-width="1.5"/><circle cx="364.9" cy="876.8" r="2.85" fill="#fff" stroke="#000" stroke-width="1.5"/><circle cx="367.9" cy="880.6" r="2.85" fill="#fff" stroke="#000" stroke-width="1.5"/><circle cx="358.2" cy="882.8" r="2.85" fill="#fff" stroke="#000" stroke-width="1.5"/><circle cx="361.9" cy="883.5" r="2.85" fill="#fff" stroke="#000" stroke-width="1.5"/><circle cx="356.7" cy="882.0" r="2.85" fill="#fff" stroke="#000" stroke-width="1.5"/><circle cx="385.0" cy="878.0" r="2.85" fill="#fff" stroke="#000" stroke-width="1.5"/><circle cx="394.7" cy="875.3" r="2.85" fill="#fff" stroke="#000" stroke-width="1.5"/><circle cx="403.6" cy="869.4" r="2.85" fill="#fff" stroke="#000" stroke-width="1.5"/><circle cx="408.9" cy="876.8" r="2.85" fill="#fff" stroke="#000" stroke-width="1.5"/><circle cx="415.6" cy="870.9" r="2.85" fill="#fff" stroke="#000" stroke-width="1.5"/><circle cx="416.3" cy="877.6" r="2.85" fill="#fff" stroke="#000" stroke-width="1.5"/><circle cx="423.8" cy="876.1" r="2.85" fill="#fff" stroke="#000" stroke-width="1.5"/><circle cx="418.6" cy="865.7" r="2.85" fill="#fff" stroke="#000" stroke-width="1.5"/><circle cx="336.6" cy="885.8" r="2.85" fill="#fff" stroke="#000" stroke-width="1.5"/><circle cx="348.5" cy="889.5" r="2.85" fill="#fff" stroke="#000" stroke-width="1.5"/><circle cx="368.6" cy="889.1" r="2.85" fill="#fff" stroke="#000" stroke-width="1.5"/><circle cx="388.7" cy="889.9" r="2.85" fill="#fff" stroke="#000" stroke-width="1.5"/><circle cx="394.0" cy="886.5" r="2.85" fill="#fff" stroke="#000" stroke-width="1.5"/><circle cx="402.2" cy="885.0" r="2.85" fill="#fff" stroke="#000" stroke-width="1.5"/><circle cx="411.8" cy="882.8" r="2.85" fill="#fff" stroke="#000" stroke-width="1.5"/><circle cx="422.3" cy="884.3" r="2.85" fill="#fff" stroke="#000" stroke-width="1.5"/><circle cx="378.3" cy="895.5" r="2.85" fill="#fff" stroke="#000" stroke-width="1.5"/><circle cx="404.4" cy="891.0" r="2.85" fill="#fff" stroke="#000" stroke-width="1.5"/><circle cx="410.4" cy="891.7" r="2.85" fill="#fff" stroke="#000" stroke-width="1.5"/><circle cx="417.1" cy="891.0" r="2.85" fill="#fff" stroke="#000" stroke-width="1.5"/><circle cx="423.8" cy="890.2" r="2.85" fill="#fff" stroke="#000" stroke-width="1.5"/><circle cx="408.1" cy="897.0" r="2.85" fill="#fff" stroke="#000" stroke-width="1.5"/><circle cx="424.5" cy="896.2" r="2.85" fill="#fff" stroke="#000" stroke-width="1.5"/><circle cx="319.4" cy="903.4" r="2.85" fill="#fff" stroke="#000" stroke-width="1.5"/><circle cx="371.6" cy="885.0" r="2.85" fill="#fff" stroke="#000" stroke-width="1.5"/><circle cx="380.5" cy="881.3" r="2.85" fill="#fff" stroke="#000" stroke-width="1.5"/><circle cx="389.5" cy="882.0" r="2.85" fill="#fff" stroke="#000" stroke-width="1.5"/><circle cx="439.4" cy="805.7" r="2.85" fill="#fff" stroke="#000" stroke-width="1.5"/><circle cx="437.9" cy="808.6" r="2.85" fill="#fff" stroke="#000" stroke-width="1.5"/><circle cx="426.7" cy="810.9" r="2.85" fill="#fff" stroke="#000" stroke-width="1.5"/><circle cx="449.1" cy="808.6" r="2.85" fill="#fff" stroke="#000" stroke-width="1.5"/><circle cx="452.1" cy="813.1" r="2.85" fill="#fff" stroke="#000" stroke-width="1.5"/><circle cx="448.4" cy="812.4" r="2.85" fill="#fff" stroke="#000" stroke-width="1.5"/><circle cx="457.3" cy="807.6" r="2.85" fill="#fff" stroke="#000" stroke-width="1.5"/><circle cx="475.2" cy="811.6" r="2.85" fill="#fff" stroke="#000" stroke-width="1.5"/><circle cx="478.9" cy="815.3" r="2.85" fill="#fff" stroke="#000" stroke-width="1.5"/><circle cx="480.4" cy="819.1" r="2.85" fill="#fff" stroke="#000" stroke-width="1.5"/><circle cx="496.8" cy="802.2" r="2.85" fill="#fff" stroke="#000" stroke-width="1.5"/><circle cx="496.1" cy="811.6" r="2.85" fill="#fff" stroke="#000" stroke-width="1.5"/><circle cx="518.4" cy="808.6" r="2.85" fill="#fff" stroke="#000" stroke-width="1.5"/><circle cx="521.4" cy="807.9" r="2.85" fill="#fff" stroke="#000" stroke-width="1.5"/><circle cx="527.4" cy="819.8" r="2.85" fill="#fff" stroke="#000" stroke-width="1.5"/><circle cx="448.4" cy="820.6" r="2.85" fill="#fff" stroke="#000" stroke-width="1.5"/><circle cx="452.8" cy="817.6" r="2.85" fill="#fff" stroke="#000" stroke-width="1.5"/><circle cx="457.3" cy="822.8" r="2.85" fill="#fff" stroke="#000" stroke-width="1.5"/><circle cx="461.0" cy="820.6" r="2.85" fill="#fff" stroke="#000" stroke-width="1.5"/><circle cx="468.5" cy="819.1" r="2.85" fill="#fff" stroke="#000" stroke-width="1.5"/><circle cx="470.7" cy="820.6" r="2.85" fill="#fff" stroke="#000" stroke-width="1.5"/><circle cx="468.5" cy="824.3" r="2.85" fill="#fff" stroke="#000" stroke-width="1.5"/><circle cx="434.9" cy="822.8" r="2.85" fill="#fff" stroke="#000" stroke-width="1.5"/><circle cx="433.5" cy="825.8" r="2.85" fill="#fff" stroke="#000" stroke-width="1.5"/><circle cx="429.0" cy="828.8" r="2.85" fill="#fff" stroke="#000" stroke-width="1.5"/><circle cx="443.9" cy="828.8" r="2.85" fill="#fff" stroke="#000" stroke-width="1.5"/><circle cx="448.4" cy="827.3" r="2.85" fill="#fff" stroke="#000" stroke-width="1.5"/><circle cx="440.2" cy="832.5" r="2.85" fill="#fff" stroke="#000" stroke-width="1.5"/><circle cx="464.8" cy="831.0" r="2.85" fill="#fff" stroke="#000" stroke-width="1.5"/><circle cx="464.8" cy="835.5" r="2.85" fill="#fff" stroke="#000" stroke-width="1.5"/><circle cx="469.2" cy="830.2" r="2.85" fill="#fff" stroke="#000" stroke-width="1.5"/><circle cx="501.3" cy="820.6" r="2.85" fill="#fff" stroke="#000" stroke-width="1.5"/><circle cx="508.0" cy="817.6" r="2.85" fill="#fff" stroke="#000" stroke-width="1.5"/><circle cx="513.9" cy="820.6" r="2.85" fill="#fff" stroke="#000" stroke-width="1.5"/><circle cx="500.5" cy="825.8" r="2.85" fill="#fff" stroke="#000" stroke-width="1.5"/><circle cx="505.0" cy="822.8" r="2.85" fill="#fff" stroke="#000" stroke-width="1.5"/><circle cx="499.0" cy="829.5" r="2.85" fill="#fff" stroke="#000" stroke-width="1.5"/><circle cx="509.5" cy="829.5" r="2.85" fill="#fff" stroke="#000" stroke-width="1.5"/><circle cx="515.4" cy="832.5" r="2.85" fill="#fff" stroke="#000" stroke-width="1.5"/><circle cx="503.5" cy="836.2" r="2.85" fill="#fff" stroke="#000" stroke-width="1.5"/><circle cx="515.4" cy="836.2" r="2.85" fill="#fff" stroke="#000" stroke-width="1.5"/><circle cx="522.1" cy="834.7" r="2.85" fill="#fff" stroke="#000" stroke-width="1.5"/><circle cx="494.6" cy="838.4" r="2.85" fill="#fff" stroke="#000" stroke-width="1.5"/><circle cx="429.0" cy="837.7" r="2.85" fill="#fff" stroke="#000" stroke-width="1.5"/><circle cx="435.7" cy="839.2" r="2.85" fill="#fff" stroke="#000" stroke-width="1.5"/><circle cx="443.9" cy="840.7" r="2.85" fill="#fff" stroke="#000" stroke-width="1.5"/><circle cx="449.8" cy="838.4" r="2.85" fill="#fff" stroke="#000" stroke-width="1.5"/><circle cx="457.3" cy="840.7" r="2.85" fill="#fff" stroke="#000" stroke-width="1.5"/><circle cx="460.3" cy="842.2" r="2.85" fill="#fff" stroke="#000" stroke-width="1.5"/><circle cx="470.7" cy="838.4" r="2.85" fill="#fff" stroke="#000" stroke-width="1.5"/><circle cx="432.0" cy="845.1" r="2.85" fill="#fff" stroke="#000" stroke-width="1.5"/><circle cx="439.4" cy="844.4" r="2.85" fill="#fff" stroke="#000" stroke-width="1.5"/><circle cx="448.4" cy="845.1" r="2.85" fill="#fff" stroke="#000" stroke-width="1.5"/><circle cx="524.4" cy="842.2" r="2.85" fill="#fff" stroke="#000" stroke-width="1.5"/><circle cx="530.3" cy="845.9" r="2.85" fill="#fff" stroke="#000" stroke-width="1.5"/><circle cx="530.3" cy="848.9" r="2.85" fill="#fff" stroke="#000" stroke-width="1.5"/><circle cx="506.5" cy="842.9" r="2.85" fill="#fff" stroke="#000" stroke-width="1.5"/><circle cx="513.9" cy="845.1" r="2.85" fill="#fff" stroke="#000" stroke-width="1.5"/><circle cx="427.5" cy="863.4" r="2.85" fill="#fff" stroke="#000" stroke-width="1.5"/><circle cx="434.9" cy="861.2" r="2.85" fill="#fff" stroke="#000" stroke-width="1.5"/><circle cx="437.9" cy="865.7" r="2.85" fill="#fff" stroke="#000" stroke-width="1.5"/><circle cx="443.9" cy="860.4" r="2.85" fill="#fff" stroke="#000" stroke-width="1.5"/><circle cx="451.3" cy="857.5" r="2.85" fill="#fff" stroke="#000" stroke-width="1.5"/><circle cx="457.3" cy="859.7" r="2.85" fill="#fff" stroke="#000" stroke-width="1.5"/><circle cx="461.8" cy="863.4" r="2.85" fill="#fff" stroke="#000" stroke-width="1.5"/><circle cx="476.7" cy="858.9" r="2.85" fill="#fff" stroke="#000" stroke-width="1.5"/><circle cx="481.9" cy="859.7" r="2.85" fill="#fff" stroke="#000" stroke-width="1.5"/><circle cx="487.1" cy="856.0" r="2.85" fill="#fff" stroke="#000" stroke-width="1.5"/><circle cx="493.1" cy="855.2" r="2.85" fill="#fff" stroke="#000" stroke-width="1.5"/><circle cx="500.5" cy="856.0" r="2.85" fill="#fff" stroke="#000" stroke-width="1.5"/><circle cx="507.2" cy="856.7" r="2.85" fill="#fff" stroke="#000" stroke-width="1.5"/><circle cx="515.4" cy="858.9" r="2.85" fill="#fff" stroke="#000" stroke-width="1.5"/><circle cx="525.9" cy="856.7" r="2.85" fill="#fff" stroke="#000" stroke-width="1.5"/><circle cx="532.6" cy="861.2" r="2.85" fill="#fff" stroke="#000" stroke-width="1.5"/><circle cx="429.0" cy="870.9" r="2.85" fill="#fff" stroke="#000" stroke-width="1.5"/><circle cx="433.5" cy="872.4" r="2.85" fill="#fff" stroke="#000" stroke-width="1.5"/><circle cx="443.1" cy="867.9" r="2.85" fill="#fff" stroke="#000" stroke-width="1.5"/><circle cx="450.6" cy="865.7" r="2.85" fill="#fff" stroke="#000" stroke-width="1.5"/><circle cx="455.8" cy="869.4" r="2.85" fill="#fff" stroke="#000" stroke-width="1.5"/><circle cx="463.3" cy="867.1" r="2.85" fill="#fff" stroke="#000" stroke-width="1.5"/><circle cx="470.7" cy="869.4" r="2.85" fill="#fff" stroke="#000" stroke-width="1.5"/><circle cx="478.9" cy="873.1" r="2.85" fill="#fff" stroke="#000" stroke-width="1.5"/><circle cx="484.9" cy="864.9" r="2.85" fill="#fff" stroke="#000" stroke-width="1.5"/><circle cx="490.1" cy="864.9" r="2.85" fill="#fff" stroke="#000" stroke-width="1.5"/><circle cx="493.8" cy="867.9" r="2.85" fill="#fff" stroke="#000" stroke-width="1.5"/><circle cx="507.2" cy="868.6" r="2.85" fill="#fff" stroke="#000" stroke-width="1.5"/><circle cx="518.4" cy="868.6" r="2.85" fill="#fff" stroke="#000" stroke-width="1.5"/><circle cx="521.4" cy="864.2" r="2.85" fill="#fff" stroke="#000" stroke-width="1.5"/><circle cx="527.4" cy="864.2" r="2.85" fill="#fff" stroke="#000" stroke-width="1.5"/><circle cx="427.5" cy="876.8" r="2.85" fill="#fff" stroke="#000" stroke-width="1.5"/><circle cx="434.2" cy="876.8" r="2.85" fill="#fff" stroke="#000" stroke-width="1.5"/><circle cx="440.9" cy="873.8" r="2.85" fill="#fff" stroke="#000" stroke-width="1.5"/><circle cx="446.9" cy="875.3" r="2.85" fill="#fff" stroke="#000" stroke-width="1.5"/><circle cx="453.6" cy="874.6" r="2.85" fill="#fff" stroke="#000" stroke-width="1.5"/><circle cx="463.3" cy="874.6" r="2.85" fill="#fff" stroke="#000" stroke-width="1.5"/><circle cx="473.7" cy="876.1" r="2.85" fill="#fff" stroke="#000" stroke-width="1.5"/><circle cx="480.4" cy="875.3" r="2.85" fill="#fff" stroke="#000" stroke-width="1.5"/><circle cx="489.3" cy="876.1" r="2.85" fill="#fff" stroke="#000" stroke-width="1.5"/><circle cx="496.1" cy="877.6" r="2.85" fill="#fff" stroke="#000" stroke-width="1.5"/><circle cx="507.2" cy="876.8" r="2.85" fill="#fff" stroke="#000" stroke-width="1.5"/><circle cx="513.9" cy="879.1" r="2.85" fill="#fff" stroke="#000" stroke-width="1.5"/><circle cx="519.9" cy="876.8" r="2.85" fill="#fff" stroke="#000" stroke-width="1.5"/><circle cx="526.6" cy="881.3" r="2.85" fill="#fff" stroke="#000" stroke-width="1.5"/><circle cx="532.6" cy="879.1" r="2.85" fill="#fff" stroke="#000" stroke-width="1.5"/><circle cx="434.2" cy="883.5" r="2.85" fill="#fff" stroke="#000" stroke-width="1.5"/><circle cx="441.7" cy="882.0" r="2.85" fill="#fff" stroke="#000" stroke-width="1.5"/><circle cx="448.4" cy="884.3" r="2.85" fill="#fff" stroke="#000" stroke-width="1.5"/><circle cx="453.6" cy="885.0" r="2.85" fill="#fff" stroke="#000" stroke-width="1.5"/><circle cx="466.2" cy="881.3" r="2.85" fill="#fff" stroke="#000" stroke-width="1.5"/><circle cx="473.7" cy="882.0" r="2.85" fill="#fff" stroke="#000" stroke-width="1.5"/><circle cx="480.4" cy="881.3" r="2.85" fill="#fff" stroke="#000" stroke-width="1.5"/><circle cx="493.1" cy="882.8" r="2.85" fill="#fff" stroke="#000" stroke-width="1.5"/><circle cx="502.0" cy="882.0" r="2.85" fill="#fff" stroke="#000" stroke-width="1.5"/><circle cx="514.7" cy="884.3" r="2.85" fill="#fff" stroke="#000" stroke-width="1.5"/><circle cx="527.4" cy="886.5" r="2.85" fill="#fff" stroke="#000" stroke-width="1.5"/><circle cx="443.1" cy="888.0" r="2.85" fill="#fff" stroke="#000" stroke-width="1.5"/><circle cx="452.1" cy="890.2" r="2.85" fill="#fff" stroke="#000" stroke-width="1.5"/><circle cx="456.6" cy="893.2" r="2.85" fill="#fff" stroke="#000" stroke-width="1.5"/><circle cx="461.8" cy="894.0" r="2.85" fill="#fff" stroke="#000" stroke-width="1.5"/><circle cx="484.9" cy="888.8" r="2.85" fill="#fff" stroke="#000" stroke-width="1.5"/><circle cx="488.6" cy="889.5" r="2.85" fill="#fff" stroke="#000" stroke-width="1.5"/><circle cx="484.9" cy="894.0" r="2.85" fill="#fff" stroke="#000" stroke-width="1.5"/><circle cx="489.3" cy="894.7" r="2.85" fill="#fff" stroke="#000" stroke-width="1.5"/><circle cx="499.0" cy="894.0" r="2.85" fill="#fff" stroke="#000" stroke-width="1.5"/><circle cx="509.5" cy="891.7" r="2.85" fill="#fff" stroke="#000" stroke-width="1.5"/><circle cx="528.8" cy="891.7" r="2.85" fill="#fff" stroke="#000" stroke-width="1.5"/><circle cx="441.7" cy="894.4" r="2.85" fill="#fff" stroke="#000" stroke-width="1.5"/><circle cx="455.1" cy="899.9" r="2.85" fill="#fff" stroke="#000" stroke-width="1.5"/><circle cx="464.8" cy="899.2" r="2.85" fill="#fff" stroke="#000" stroke-width="1.5"/><circle cx="483.4" cy="899.2" r="2.85" fill="#fff" stroke="#000" stroke-width="1.5"/><circle cx="486.4" cy="900.7" r="2.85" fill="#fff" stroke="#000" stroke-width="1.5"/><circle cx="518.4" cy="897.7" r="2.85" fill="#fff" stroke="#000" stroke-width="1.5"/><circle cx="519.9" cy="901.4" r="2.85" fill="#fff" stroke="#000" stroke-width="1.5"/><circle cx="409.5" cy="685.2" r="4.0" fill="#f0df2c" stroke="#000" stroke-width="1.5"/><circle cx="525.7" cy="794.0" r="4.0" fill="#f0df2c" stroke="#000" stroke-width="1.5"/><circle cx="409.6" cy="838.4" r="4.0" fill="#f0df2c" stroke="#000" stroke-width="1.5"/><circle cx="385.8" cy="866.4" r="4.0" fill="#f0df2c" stroke="#000" stroke-width="1.5"/><circle cx="399.5" cy="861.6" r="4.0" fill="#f0df2c" stroke="#000" stroke-width="1.5"/><circle cx="380.1" cy="887.3" r="4.0" fill="#f0df2c" stroke="#000" stroke-width="1.5"/><circle cx="473.4" cy="801.6" r="4.0" fill="#f0df2c" stroke="#000" stroke-width="1.5"/><circle cx="527.4" cy="803.1" r="4.0" fill="#f0df2c" stroke="#000" stroke-width="1.5"/><circle cx="482.6" cy="834.7" r="4.0" fill="#f0df2c" stroke="#000" stroke-width="1.5"/><circle cx="483.4" cy="840.7" r="4.0" fill="#f0df2c" stroke="#000" stroke-width="1.5"/><circle cx="470.0" cy="859.2" r="4.0" fill="#f0df2c" stroke="#000" stroke-width="1.5"/><circle cx="498.7" cy="860.9" r="4.0" fill="#f0df2c" stroke="#000" stroke-width="1.5"/><circle cx="459.1" cy="882.3" r="4.0" fill="#f0df2c" stroke="#000" stroke-width="1.5"/><circle cx="507.2" cy="887.3" r="4.0" fill="#f0df2c" stroke="#000" stroke-width="1.5"/><circle cx="430.5" cy="893.5" r="4.0" fill="#f0df2c" stroke="#000" stroke-width="1.5"/><circle cx="471.0" cy="901.9" r="4.0" fill="#f0df2c" stroke="#000" stroke-width="1.5"/><circle cx="465.5" cy="853.7" r="4.0" fill="#f0df2c" stroke="#000" stroke-width="1.5"/></g>
<path d="M318.80,848.30 L322.38,848.35 L325.95,848.39 L329.53,848.44 L333.10,848.49 L336.68,848.53 L340.25,848.58 L343.82,848.62 L347.40,848.66 L350.98,848.70 L354.55,848.74 L358.12,848.78 L361.70,848.81 L365.27,848.85 L368.85,848.88 L372.43,848.91 L376.00,848.94 L379.57,848.96 L383.15,848.98 L386.73,849.00 L390.30,849.01 L393.88,849.02 L397.45,849.02 L401.02,849.02 L404.60,849.01 L408.17,848.99 L411.75,848.96 L415.32,848.92 L418.90,848.86 L422.47,848.79 L426.05,848.71 L429.62,848.60 L433.20,848.48 L436.77,848.34 L440.35,848.17 L443.92,847.98 L447.50,847.77 L451.07,847.54 L454.65,847.29 L458.23,847.03 L461.80,846.74 L465.38,846.44 L468.95,846.13 L472.52,845.81 L476.10,845.48 L479.67,845.14 L483.25,844.79 L486.82,844.44 L490.40,844.08 L493.97,843.71 L497.55,843.34 L501.12,842.97 L504.70,842.59 L508.27,842.21 L511.85,841.83 L515.42,841.45 L519.00,841.06 L522.57,840.67 L526.15,840.28 L529.72,839.89 L533.30,839.50 L533.30,852.70 L529.72,852.66 L526.15,852.62 L522.57,852.58 L519.00,852.55 L515.42,852.51 L511.85,852.48 L508.27,852.45 L504.70,852.42 L501.12,852.40 L497.55,852.38 L493.97,852.36 L490.40,852.34 L486.82,852.34 L483.25,852.33 L479.67,852.34 L476.10,852.35 L472.52,852.37 L468.95,852.40 L465.38,852.44 L461.80,852.49 L458.23,852.56 L454.65,852.64 L451.07,852.74 L447.50,852.87 L443.92,853.01 L440.35,853.17 L436.77,853.36 L433.20,853.57 L429.62,853.79 L426.05,854.04 L422.47,854.31 L418.90,854.59 L415.32,854.89 L411.75,855.20 L408.17,855.52 L404.60,855.85 L401.02,856.19 L397.45,856.54 L393.88,856.89 L390.30,857.25 L386.73,857.62 L383.15,857.99 L379.57,858.36 L376.00,858.74 L372.43,859.12 L368.85,859.50 L365.27,859.88 L361.70,860.27 L358.12,860.65 L354.55,861.04 L350.98,861.43 L347.40,861.83 L343.82,862.22 L340.25,862.61 L336.68,863.01 L333.10,863.41 L329.53,863.80 L325.95,864.20 L322.38,864.60 L318.80,865.00 Z" fill="none" stroke="#e01e16" stroke-width="2.15"/>
<path d="M318.8,856.65 L533.3,846.1" fill="none" stroke="#e01e16" stroke-width="4.0"/>
<rect x="308.5" y="672" width="234.60000000000002" height="243.89999999999998" fill="none" stroke="#000" stroke-width="2.2"/>
<line x1="318.4" y1="916.9" x2="318.4" y2="919.8" stroke="#000" stroke-width="1.6"/>
<text x="318.4" y="930.9" font-size="12.8" text-anchor="middle" fill="#1a1a1a">200</text>
<line x1="373.6" y1="916.9" x2="373.6" y2="919.8" stroke="#000" stroke-width="1.6"/>
<text x="373.6" y="930.9" font-size="12.8" text-anchor="middle" fill="#1a1a1a">400</text>
<line x1="428.6" y1="916.9" x2="428.6" y2="919.8" stroke="#000" stroke-width="1.6"/>
<text x="428.6" y="930.9" font-size="12.8" text-anchor="middle" fill="#1a1a1a">600</text>
<line x1="483.7" y1="916.9" x2="483.7" y2="919.8" stroke="#000" stroke-width="1.6"/>
<text x="483.7" y="930.9" font-size="12.8" text-anchor="middle" fill="#1a1a1a">800</text>
<line x1="538.8" y1="916.9" x2="538.8" y2="919.8" stroke="#000" stroke-width="1.6"/>
<text x="535.1999999999999" y="930.9" font-size="12.8" text-anchor="middle" fill="#1a1a1a">1000</text>
<text x="317.44" y="686.3" font-size="13.3" fill="#1a1a1a">β</text>
<text x="328.64" y="686.3" font-size="13.3" fill="#1a1a1a">=</text>
<text x="339.29" y="686.3" font-size="13.3" fill="#1a1a1a">+0.064</text>
<text x="318.34" y="701.1" font-size="13.3" font-style="italic" fill="#1a1a1a">P</text>
<text x="329.64" y="701.1" font-size="13.3" fill="#1a1a1a">=</text>
<text x="341.09" y="701.1" font-size="13.3" fill="#1a1a1a">0.163</text>
<g><path d="M633.2,685.3 L640.2,685.3 L636.7,679.2 Z" fill="#fff" stroke="#000" stroke-width="1.5" stroke-linejoin="miter"/><path d="M705.1,729.6 L712.1,729.6 L708.6,723.5 Z" fill="#fff" stroke="#000" stroke-width="1.5" stroke-linejoin="miter"/><path d="M769.5,735.6 L776.5,735.6 L773.0,729.5 Z" fill="#fff" stroke="#000" stroke-width="1.5" stroke-linejoin="miter"/><path d="M588.9,734.1 L595.9,734.1 L592.4,728.0 Z" fill="#fff" stroke="#000" stroke-width="1.5" stroke-linejoin="miter"/><path d="M581.7,741.9 L588.7,741.9 L585.2,735.8 Z" fill="#fff" stroke="#000" stroke-width="1.5" stroke-linejoin="miter"/><path d="M686.2,746.1 L693.2,746.1 L689.7,740.0 Z" fill="#fff" stroke="#000" stroke-width="1.5" stroke-linejoin="miter"/><path d="M648.8,761.9 L655.8,761.9 L652.3,755.8 Z" fill="#fff" stroke="#000" stroke-width="1.5" stroke-linejoin="miter"/><path d="M639.8,768.5 L646.8,768.5 L643.3,762.4 Z" fill="#fff" stroke="#000" stroke-width="1.5" stroke-linejoin="miter"/><path d="M639.8,773.9 L646.8,773.9 L643.3,767.8 Z" fill="#fff" stroke="#000" stroke-width="1.5" stroke-linejoin="miter"/><path d="M564.1,783.5 L571.1,783.5 L567.6,777.4 Z" fill="#fff" stroke="#000" stroke-width="1.5" stroke-linejoin="miter"/><path d="M557.5,788.0 L564.5,788.0 L561.0,781.9 Z" fill="#fff" stroke="#000" stroke-width="1.5" stroke-linejoin="miter"/><path d="M558.1,794.0 L565.1,794.0 L561.6,787.9 Z" fill="#fff" stroke="#000" stroke-width="1.5" stroke-linejoin="miter"/><path d="M573.3,794.9 L580.3,794.9 L576.8,788.8 Z" fill="#fff" stroke="#000" stroke-width="1.5" stroke-linejoin="miter"/><path d="M573.9,797.9 L580.9,797.9 L577.4,791.8 Z" fill="#fff" stroke="#000" stroke-width="1.5" stroke-linejoin="miter"/><path d="M585.0,791.9 L592.0,791.9 L588.5,785.8 Z" fill="#fff" stroke="#000" stroke-width="1.5" stroke-linejoin="miter"/><path d="M621.8,782.6 L628.8,782.6 L625.3,776.5 Z" fill="#fff" stroke="#000" stroke-width="1.5" stroke-linejoin="miter"/><path d="M660.8,788.3 L667.8,788.3 L664.3,782.2 Z" fill="#fff" stroke="#000" stroke-width="1.5" stroke-linejoin="miter"/><path d="M688.3,785.3 L695.3,785.3 L691.8,779.2 Z" fill="#fff" stroke="#000" stroke-width="1.5" stroke-linejoin="miter"/><path d="M722.1,781.1 L729.1,781.1 L725.6,775.0 Z" fill="#fff" stroke="#000" stroke-width="1.5" stroke-linejoin="miter"/><path d="M741.6,781.1 L748.6,781.1 L745.1,775.0 Z" fill="#fff" stroke="#000" stroke-width="1.5" stroke-linejoin="miter"/><path d="M761.7,797.0 L768.7,797.0 L765.2,790.9 Z" fill="#fff" stroke="#000" stroke-width="1.5" stroke-linejoin="miter"/><path d="M590.4,800.8 L597.4,800.8 L593.9,794.7 Z" fill="#fff" stroke="#000" stroke-width="1.5" stroke-linejoin="miter"/><path d="M648.8,800.0 L655.8,800.0 L652.3,793.9 Z" fill="#fff" stroke="#000" stroke-width="1.5" stroke-linejoin="miter"/><path d="M656.9,799.4 L663.9,799.4 L660.4,793.3 Z" fill="#fff" stroke="#000" stroke-width="1.5" stroke-linejoin="miter"/><path d="M697.3,802.0 L704.3,802.0 L700.8,795.9 Z" fill="#fff" stroke="#000" stroke-width="1.5" stroke-linejoin="miter"/><path d="M742.5,802.0 L749.5,802.0 L746.0,795.9 Z" fill="#fff" stroke="#000" stroke-width="1.5" stroke-linejoin="miter"/><path d="M557.4,805.4 L564.4,805.4 L560.9,799.3 Z" fill="#fff" stroke="#000" stroke-width="1.5" stroke-linejoin="miter"/><path d="M564.1,806.1 L571.1,806.1 L567.6,800.0 Z" fill="#fff" stroke="#000" stroke-width="1.5" stroke-linejoin="miter"/><path d="M567.9,810.6 L574.9,810.6 L571.4,804.5 Z" fill="#fff" stroke="#000" stroke-width="1.5" stroke-linejoin="miter"/><path d="M568.6,813.6 L575.6,813.6 L572.1,807.5 Z" fill="#fff" stroke="#000" stroke-width="1.5" stroke-linejoin="miter"/><path d="M576.1,806.1 L583.1,806.1 L579.6,800.0 Z" fill="#fff" stroke="#000" stroke-width="1.5" stroke-linejoin="miter"/><path d="M576.8,801.6 L583.8,801.6 L580.3,795.5 Z" fill="#fff" stroke="#000" stroke-width="1.5" stroke-linejoin="miter"/><path d="M587.2,806.1 L594.2,806.1 L590.7,800.0 Z" fill="#fff" stroke="#000" stroke-width="1.5" stroke-linejoin="miter"/><path d="M593.9,810.3 L600.9,810.3 L597.4,804.2 Z" fill="#fff" stroke="#000" stroke-width="1.5" stroke-linejoin="miter"/><path d="M602.6,811.8 L609.6,811.8 L606.1,805.7 Z" fill="#fff" stroke="#000" stroke-width="1.5" stroke-linejoin="miter"/><path d="M625.2,806.9 L632.2,806.9 L628.7,800.8 Z" fill="#fff" stroke="#000" stroke-width="1.5" stroke-linejoin="miter"/><path d="M630.5,815.1 L637.5,815.1 L634.0,809.0 Z" fill="#fff" stroke="#000" stroke-width="1.5" stroke-linejoin="miter"/><path d="M634.2,821.8 L641.2,821.8 L637.7,815.7 Z" fill="#fff" stroke="#000" stroke-width="1.5" stroke-linejoin="miter"/><path d="M642.4,812.8 L649.4,812.8 L645.9,806.7 Z" fill="#fff" stroke="#000" stroke-width="1.5" stroke-linejoin="miter"/><path d="M650.6,807.6 L657.6,807.6 L654.1,801.5 Z" fill="#fff" stroke="#000" stroke-width="1.5" stroke-linejoin="miter"/><path d="M558.9,820.3 L565.9,820.3 L562.4,814.2 Z" fill="#fff" stroke="#000" stroke-width="1.5" stroke-linejoin="miter"/><path d="M575.3,818.8 L582.3,818.8 L578.8,812.7 Z" fill="#fff" stroke="#000" stroke-width="1.5" stroke-linejoin="miter"/><path d="M576.8,824.0 L583.8,824.0 L580.3,817.9 Z" fill="#fff" stroke="#000" stroke-width="1.5" stroke-linejoin="miter"/><path d="M572.3,824.0 L579.3,824.0 L575.8,817.9 Z" fill="#fff" stroke="#000" stroke-width="1.5" stroke-linejoin="miter"/><path d="M614.1,821.8 L621.1,821.8 L617.6,815.7 Z" fill="#fff" stroke="#000" stroke-width="1.5" stroke-linejoin="miter"/><path d="M619.3,819.5 L626.3,819.5 L622.8,813.4 Z" fill="#fff" stroke="#000" stroke-width="1.5" stroke-linejoin="miter"/><path d="M598.4,830.7 L605.4,830.7 L601.9,824.6 Z" fill="#fff" stroke="#000" stroke-width="1.5" stroke-linejoin="miter"/><path d="M607.4,831.5 L614.4,831.5 L610.9,825.4 Z" fill="#fff" stroke="#000" stroke-width="1.5" stroke-linejoin="miter"/><path d="M573.8,832.2 L580.8,832.2 L577.3,826.1 Z" fill="#fff" stroke="#000" stroke-width="1.5" stroke-linejoin="miter"/><path d="M569.3,832.9 L576.3,832.9 L572.8,826.8 Z" fill="#fff" stroke="#000" stroke-width="1.5" stroke-linejoin="miter"/><path d="M639.4,828.5 L646.4,828.5 L642.9,822.4 Z" fill="#fff" stroke="#000" stroke-width="1.5" stroke-linejoin="miter"/><path d="M648.3,832.2 L655.3,832.2 L651.8,826.1 Z" fill="#fff" stroke="#000" stroke-width="1.5" stroke-linejoin="miter"/><path d="M660.3,824.7 L667.3,824.7 L663.8,818.6 Z" fill="#fff" stroke="#000" stroke-width="1.5" stroke-linejoin="miter"/><path d="M660.3,831.5 L667.3,831.5 L663.8,825.4 Z" fill="#fff" stroke="#000" stroke-width="1.5" stroke-linejoin="miter"/><path d="M558.9,832.2 L565.9,832.2 L562.4,826.1 Z" fill="#fff" stroke="#000" stroke-width="1.5" stroke-linejoin="miter"/><path d="M558.9,840.4 L565.9,840.4 L562.4,834.3 Z" fill="#fff" stroke="#000" stroke-width="1.5" stroke-linejoin="miter"/><path d="M570.8,841.1 L577.8,841.1 L574.3,835.0 Z" fill="#fff" stroke="#000" stroke-width="1.5" stroke-linejoin="miter"/><path d="M577.5,841.1 L584.5,841.1 L581.0,835.0 Z" fill="#fff" stroke="#000" stroke-width="1.5" stroke-linejoin="miter"/><path d="M581.3,845.6 L588.3,845.6 L584.8,839.5 Z" fill="#fff" stroke="#000" stroke-width="1.5" stroke-linejoin="miter"/><path d="M623.0,837.4 L630.0,837.4 L626.5,831.3 Z" fill="#fff" stroke="#000" stroke-width="1.5" stroke-linejoin="miter"/><path d="M623.0,841.9 L630.0,841.9 L626.5,835.8 Z" fill="#fff" stroke="#000" stroke-width="1.5" stroke-linejoin="miter"/><path d="M647.6,837.4 L654.6,837.4 L651.1,831.3 Z" fill="#fff" stroke="#000" stroke-width="1.5" stroke-linejoin="miter"/><path d="M658.8,838.2 L665.8,838.2 L662.3,832.1 Z" fill="#fff" stroke="#000" stroke-width="1.5" stroke-linejoin="miter"/><path d="M563.4,851.6 L570.4,851.6 L566.9,845.5 Z" fill="#fff" stroke="#000" stroke-width="1.5" stroke-linejoin="miter"/><path d="M570.1,849.3 L577.1,849.3 L573.6,843.2 Z" fill="#fff" stroke="#000" stroke-width="1.5" stroke-linejoin="miter"/><path d="M559.7,856.8 L566.7,856.8 L563.2,850.7 Z" fill="#fff" stroke="#000" stroke-width="1.5" stroke-linejoin="miter"/><path d="M567.9,856.8 L574.9,856.8 L571.4,850.7 Z" fill="#fff" stroke="#000" stroke-width="1.5" stroke-linejoin="miter"/><path d="M588.0,850.8 L595.0,850.8 L591.5,844.7 Z" fill="#fff" stroke="#000" stroke-width="1.5" stroke-linejoin="miter"/><path d="M594.7,851.6 L601.7,851.6 L598.2,845.5 Z" fill="#fff" stroke="#000" stroke-width="1.5" stroke-linejoin="miter"/><path d="M599.2,848.6 L606.2,848.6 L602.7,842.5 Z" fill="#fff" stroke="#000" stroke-width="1.5" stroke-linejoin="miter"/><path d="M605.9,853.1 L612.9,853.1 L609.4,847.0 Z" fill="#fff" stroke="#000" stroke-width="1.5" stroke-linejoin="miter"/><path d="M616.3,857.5 L623.3,857.5 L619.8,851.4 Z" fill="#fff" stroke="#000" stroke-width="1.5" stroke-linejoin="miter"/><path d="M623.0,853.1 L630.0,853.1 L626.5,847.0 Z" fill="#fff" stroke="#000" stroke-width="1.5" stroke-linejoin="miter"/><path d="M648.3,856.8 L655.3,856.8 L651.8,850.7 Z" fill="#fff" stroke="#000" stroke-width="1.5" stroke-linejoin="miter"/><path d="M655.8,850.8 L662.8,850.8 L659.3,844.7 Z" fill="#fff" stroke="#000" stroke-width="1.5" stroke-linejoin="miter"/><path d="M660.3,852.3 L667.3,852.3 L663.8,846.2 Z" fill="#fff" stroke="#000" stroke-width="1.5" stroke-linejoin="miter"/><path d="M587.2,859.8 L594.2,859.8 L590.7,853.7 Z" fill="#fff" stroke="#000" stroke-width="1.5" stroke-linejoin="miter"/><path d="M590.2,865.7 L597.2,865.7 L593.7,859.6 Z" fill="#fff" stroke="#000" stroke-width="1.5" stroke-linejoin="miter"/><path d="M560.4,864.2 L567.4,864.2 L563.9,858.1 Z" fill="#fff" stroke="#000" stroke-width="1.5" stroke-linejoin="miter"/><path d="M560.4,868.7 L567.4,868.7 L563.9,862.6 Z" fill="#fff" stroke="#000" stroke-width="1.5" stroke-linejoin="miter"/><path d="M570.1,868.0 L577.1,868.0 L573.6,861.9 Z" fill="#fff" stroke="#000" stroke-width="1.5" stroke-linejoin="miter"/><path d="M582.0,866.5 L589.0,866.5 L585.5,860.4 Z" fill="#fff" stroke="#000" stroke-width="1.5" stroke-linejoin="miter"/><path d="M602.9,865.7 L609.9,865.7 L606.4,859.6 Z" fill="#fff" stroke="#000" stroke-width="1.5" stroke-linejoin="miter"/><path d="M605.1,869.5 L612.1,869.5 L608.6,863.4 Z" fill="#fff" stroke="#000" stroke-width="1.5" stroke-linejoin="miter"/><path d="M607.4,867.2 L614.4,867.2 L610.9,861.1 Z" fill="#fff" stroke="#000" stroke-width="1.5" stroke-linejoin="miter"/><path d="M623.8,870.2 L630.8,870.2 L627.3,864.1 Z" fill="#fff" stroke="#000" stroke-width="1.5" stroke-linejoin="miter"/><path d="M638.7,868.7 L645.7,868.7 L642.2,862.6 Z" fill="#fff" stroke="#000" stroke-width="1.5" stroke-linejoin="miter"/><path d="M646.9,869.5 L653.9,869.5 L650.4,863.4 Z" fill="#fff" stroke="#000" stroke-width="1.5" stroke-linejoin="miter"/><path d="M661.8,867.2 L668.8,867.2 L665.3,861.1 Z" fill="#fff" stroke="#000" stroke-width="1.5" stroke-linejoin="miter"/><path d="M661.8,874.7 L668.8,874.7 L665.3,868.6 Z" fill="#fff" stroke="#000" stroke-width="1.5" stroke-linejoin="miter"/><path d="M557.4,873.9 L564.4,873.9 L560.9,867.8 Z" fill="#fff" stroke="#000" stroke-width="1.5" stroke-linejoin="miter"/><path d="M568.6,873.9 L575.6,873.9 L572.1,867.8 Z" fill="#fff" stroke="#000" stroke-width="1.5" stroke-linejoin="miter"/><path d="M591.0,873.9 L598.0,873.9 L594.5,867.8 Z" fill="#fff" stroke="#000" stroke-width="1.5" stroke-linejoin="miter"/><path d="M596.9,876.2 L603.9,876.2 L600.4,870.1 Z" fill="#fff" stroke="#000" stroke-width="1.5" stroke-linejoin="miter"/><path d="M579.5,879.9 L586.5,879.9 L583.0,873.8 Z" fill="#fff" stroke="#000" stroke-width="1.5" stroke-linejoin="miter"/><path d="M599.9,889.6 L606.9,889.6 L603.4,883.5 Z" fill="#fff" stroke="#000" stroke-width="1.5" stroke-linejoin="miter"/><path d="M592.5,906.7 L599.5,906.7 L596.0,900.6 Z" fill="#fff" stroke="#000" stroke-width="1.5" stroke-linejoin="miter"/><path d="M673.1,807.7 L680.1,807.7 L676.6,801.6 Z" fill="#fff" stroke="#000" stroke-width="1.5" stroke-linejoin="miter"/><path d="M692.8,807.7 L699.8,807.7 L696.3,801.6 Z" fill="#fff" stroke="#000" stroke-width="1.5" stroke-linejoin="miter"/><path d="M696.8,812.4 L703.8,812.4 L700.3,806.3 Z" fill="#fff" stroke="#000" stroke-width="1.5" stroke-linejoin="miter"/><path d="M717.3,805.3 L724.3,805.3 L720.8,799.2 Z" fill="#fff" stroke="#000" stroke-width="1.5" stroke-linejoin="miter"/><path d="M729.2,812.4 L736.2,812.4 L732.7,806.3 Z" fill="#fff" stroke="#000" stroke-width="1.5" stroke-linejoin="miter"/><path d="M722.1,817.2 L729.1,817.2 L725.6,811.1 Z" fill="#fff" stroke="#000" stroke-width="1.5" stroke-linejoin="miter"/><path d="M746.5,818.8 L753.5,818.8 L750.0,812.7 Z" fill="#fff" stroke="#000" stroke-width="1.5" stroke-linejoin="miter"/><path d="M669.1,826.7 L676.1,826.7 L672.6,820.6 Z" fill="#fff" stroke="#000" stroke-width="1.5" stroke-linejoin="miter"/><path d="M689.7,822.7 L696.7,822.7 L693.2,816.6 Z" fill="#fff" stroke="#000" stroke-width="1.5" stroke-linejoin="miter"/><path d="M710.2,829.0 L717.2,829.0 L713.7,822.9 Z" fill="#fff" stroke="#000" stroke-width="1.5" stroke-linejoin="miter"/><path d="M717.3,829.0 L724.3,829.0 L720.8,822.9 Z" fill="#fff" stroke="#000" stroke-width="1.5" stroke-linejoin="miter"/><path d="M722.9,826.7 L729.9,826.7 L726.4,820.6 Z" fill="#fff" stroke="#000" stroke-width="1.5" stroke-linejoin="miter"/><path d="M702.3,833.8 L709.3,833.8 L705.8,827.7 Z" fill="#fff" stroke="#000" stroke-width="1.5" stroke-linejoin="miter"/><path d="M689.7,837.7 L696.7,837.7 L693.2,831.6 Z" fill="#fff" stroke="#000" stroke-width="1.5" stroke-linejoin="miter"/><path d="M696.8,837.7 L703.8,837.7 L700.3,831.6 Z" fill="#fff" stroke="#000" stroke-width="1.5" stroke-linejoin="miter"/><path d="M719.7,835.4 L726.7,835.4 L723.2,829.3 Z" fill="#fff" stroke="#000" stroke-width="1.5" stroke-linejoin="miter"/><path d="M726.0,837.7 L733.0,837.7 L729.5,831.6 Z" fill="#fff" stroke="#000" stroke-width="1.5" stroke-linejoin="miter"/><path d="M665.2,847.2 L672.2,847.2 L668.7,841.1 Z" fill="#fff" stroke="#000" stroke-width="1.5" stroke-linejoin="miter"/><path d="M677.0,845.6 L684.0,845.6 L680.5,839.5 Z" fill="#fff" stroke="#000" stroke-width="1.5" stroke-linejoin="miter"/><path d="M682.6,847.2 L689.6,847.2 L686.1,841.1 Z" fill="#fff" stroke="#000" stroke-width="1.5" stroke-linejoin="miter"/><path d="M689.7,844.0 L696.7,844.0 L693.2,837.9 Z" fill="#fff" stroke="#000" stroke-width="1.5" stroke-linejoin="miter"/><path d="M674.7,851.9 L681.7,851.9 L678.2,845.8 Z" fill="#fff" stroke="#000" stroke-width="1.5" stroke-linejoin="miter"/><path d="M736.3,848.0 L743.3,848.0 L739.8,841.9 Z" fill="#fff" stroke="#000" stroke-width="1.5" stroke-linejoin="miter"/><path d="M693.9,855.9 L700.9,855.9 L697.4,849.8 Z" fill="#fff" stroke="#000" stroke-width="1.5" stroke-linejoin="miter"/><path d="M702.3,854.3 L709.3,854.3 L705.8,848.2 Z" fill="#fff" stroke="#000" stroke-width="1.5" stroke-linejoin="miter"/><path d="M700.7,859.8 L707.7,859.8 L704.2,853.7 Z" fill="#fff" stroke="#000" stroke-width="1.5" stroke-linejoin="miter"/><path d="M725.2,862.2 L732.2,862.2 L728.7,856.1 Z" fill="#fff" stroke="#000" stroke-width="1.5" stroke-linejoin="miter"/><path d="M665.2,865.4 L672.2,865.4 L668.7,859.3 Z" fill="#fff" stroke="#000" stroke-width="1.5" stroke-linejoin="miter"/><path d="M669.9,863.8 L676.9,863.8 L673.4,857.7 Z" fill="#fff" stroke="#000" stroke-width="1.5" stroke-linejoin="miter"/><path d="M696.0,866.9 L703.0,866.9 L699.5,860.8 Z" fill="#fff" stroke="#000" stroke-width="1.5" stroke-linejoin="miter"/><path d="M704.7,863.8 L711.7,863.8 L708.2,857.7 Z" fill="#fff" stroke="#000" stroke-width="1.5" stroke-linejoin="miter"/><path d="M705.5,868.5 L712.5,868.5 L709.0,862.4 Z" fill="#fff" stroke="#000" stroke-width="1.5" stroke-linejoin="miter"/><path d="M687.3,869.3 L694.3,869.3 L690.8,863.2 Z" fill="#fff" stroke="#000" stroke-width="1.5" stroke-linejoin="miter"/><path d="M690.5,870.1 L697.5,870.1 L694.0,864.0 Z" fill="#fff" stroke="#000" stroke-width="1.5" stroke-linejoin="miter"/><path d="M741.8,866.2 L748.8,866.2 L745.3,860.1 Z" fill="#fff" stroke="#000" stroke-width="1.5" stroke-linejoin="miter"/><path d="M676.2,872.5 L683.2,872.5 L679.7,866.4 Z" fill="#fff" stroke="#000" stroke-width="1.5" stroke-linejoin="miter"/><path d="M694.4,873.3 L701.4,873.3 L697.9,867.2 Z" fill="#fff" stroke="#000" stroke-width="1.5" stroke-linejoin="miter"/><path d="M707.1,873.3 L714.1,873.3 L710.6,867.2 Z" fill="#fff" stroke="#000" stroke-width="1.5" stroke-linejoin="miter"/><path d="M711.8,874.1 L718.8,874.1 L715.3,868.0 Z" fill="#fff" stroke="#000" stroke-width="1.5" stroke-linejoin="miter"/><path d="M732.8,872.5 L739.8,872.5 L736.3,866.4 Z" fill="#fff" stroke="#000" stroke-width="1.5" stroke-linejoin="miter"/><path d="M749.7,874.8 L756.7,874.8 L753.2,868.7 Z" fill="#fff" stroke="#000" stroke-width="1.5" stroke-linejoin="miter"/><path d="M677.8,882.7 L684.8,882.7 L681.3,876.6 Z" fill="#fff" stroke="#000" stroke-width="1.5" stroke-linejoin="miter"/><path d="M696.0,881.2 L703.0,881.2 L699.5,875.1 Z" fill="#fff" stroke="#000" stroke-width="1.5" stroke-linejoin="miter"/><path d="M714.2,882.0 L721.2,882.0 L717.7,875.9 Z" fill="#fff" stroke="#000" stroke-width="1.5" stroke-linejoin="miter"/><path d="M656.5,883.5 L663.5,883.5 L660.0,877.4 Z" fill="#fff" stroke="#000" stroke-width="1.5" stroke-linejoin="miter"/><path d="M610.2,827.1 L619.8,827.1 L615.0,819.1 Z" fill="#f0df2c" stroke="#000" stroke-width="1.5" stroke-linejoin="miter"/><path d="M558.7,883.0 L568.3,883.0 L563.5,875.0 Z" fill="#f0df2c" stroke="#000" stroke-width="1.5" stroke-linejoin="miter"/><path d="M650.8,881.2 L660.4,881.2 L655.6,873.2 Z" fill="#f0df2c" stroke="#000" stroke-width="1.5" stroke-linejoin="miter"/><path d="M646.3,892.7 L655.9,892.7 L651.1,884.7 Z" fill="#f0df2c" stroke="#000" stroke-width="1.5" stroke-linejoin="miter"/><path d="M729.9,829.1 L739.5,829.1 L734.7,821.1 Z" fill="#f0df2c" stroke="#000" stroke-width="1.5" stroke-linejoin="miter"/><path d="M683.3,857.6 L692.9,857.6 L688.1,849.6 Z" fill="#f0df2c" stroke="#000" stroke-width="1.5" stroke-linejoin="miter"/><path d="M712.1,858.4 L721.7,858.4 L716.9,850.4 Z" fill="#f0df2c" stroke="#000" stroke-width="1.5" stroke-linejoin="miter"/><path d="M714.1,892.3 L723.7,892.3 L718.9,884.3 Z" fill="#f0df2c" stroke="#000" stroke-width="1.5" stroke-linejoin="miter"/></g>
<path d="M559.70,826.30 L563.27,826.53 L566.85,826.75 L570.42,826.97 L573.99,827.19 L577.57,827.40 L581.14,827.61 L584.71,827.82 L588.29,828.02 L591.86,828.21 L595.43,828.40 L599.01,828.58 L602.58,828.75 L606.15,828.92 L609.73,829.07 L613.30,829.21 L616.87,829.33 L620.45,829.43 L624.02,829.52 L627.59,829.58 L631.17,829.62 L634.74,829.64 L638.31,829.62 L641.89,829.58 L645.46,829.50 L649.03,829.40 L652.61,829.26 L656.18,829.10 L659.75,828.92 L663.33,828.71 L666.90,828.47 L670.47,828.23 L674.05,827.96 L677.62,827.68 L681.19,827.39 L684.77,827.08 L688.34,826.77 L691.91,826.45 L695.49,826.12 L699.06,825.79 L702.63,825.45 L706.21,825.11 L709.78,824.76 L713.35,824.40 L716.93,824.05 L720.50,823.69 L724.07,823.33 L727.65,822.97 L731.22,822.60 L734.79,822.23 L738.37,821.86 L741.94,821.49 L745.51,821.12 L749.09,820.74 L752.66,820.37 L756.23,819.99 L759.81,819.62 L763.38,819.24 L766.95,818.86 L770.53,818.48 L774.10,818.10 L774.10,843.00 L770.53,842.76 L766.95,842.51 L763.38,842.27 L759.81,842.03 L756.23,841.79 L752.66,841.55 L749.09,841.31 L745.51,841.07 L741.94,840.84 L738.37,840.60 L734.79,840.37 L731.22,840.14 L727.65,839.91 L724.07,839.68 L720.50,839.46 L716.93,839.24 L713.35,839.02 L709.78,838.80 L706.21,838.59 L702.63,838.38 L699.06,838.18 L695.49,837.98 L691.91,837.79 L688.34,837.61 L684.77,837.43 L681.19,837.27 L677.62,837.11 L674.05,836.97 L670.47,836.84 L666.90,836.73 L663.33,836.63 L659.75,836.56 L656.18,836.51 L652.61,836.48 L649.03,836.49 L645.46,836.52 L641.89,836.58 L638.31,836.67 L634.74,836.79 L631.17,836.94 L627.59,837.12 L624.02,837.32 L620.45,837.54 L616.87,837.79 L613.30,838.04 L609.73,838.32 L606.15,838.61 L602.58,838.91 L599.01,839.21 L595.43,839.53 L591.86,839.86 L588.29,840.19 L584.71,840.53 L581.14,840.87 L577.57,841.21 L573.99,841.57 L570.42,841.92 L566.85,842.28 L563.27,842.64 L559.70,843.00 Z" fill="none" stroke="#3bb91b" stroke-width="2.15"/>
<path d="M559.7,834.65 L774.1,830.55" fill="none" stroke="#3bb91b" stroke-width="4.0"/>
<rect x="549.2" y="672" width="235.0999999999999" height="243.89999999999998" fill="none" stroke="#000" stroke-width="2.2"/>
<line x1="563" y1="916.9" x2="563" y2="919.8" stroke="#000" stroke-width="1.6"/>
<text x="567.0" y="930.9" font-size="12.8" text-anchor="middle" fill="#1a1a1a">1000</text>
<line x1="620.4" y1="916.9" x2="620.4" y2="919.8" stroke="#000" stroke-width="1.6"/>
<text x="620.4" y="930.9" font-size="12.8" text-anchor="middle" fill="#1a1a1a">1500</text>
<line x1="679" y1="916.9" x2="679" y2="919.8" stroke="#000" stroke-width="1.6"/>
<text x="679" y="930.9" font-size="12.8" text-anchor="middle" fill="#1a1a1a">2000</text>
<line x1="737" y1="916.9" x2="737" y2="919.8" stroke="#000" stroke-width="1.6"/>
<text x="737" y="930.9" font-size="12.8" text-anchor="middle" fill="#1a1a1a">2500</text>
<text x="560.46" y="686.3" font-size="13.3" fill="#1a1a1a">β</text>
<text x="571.66" y="686.3" font-size="13.3" fill="#1a1a1a">=</text>
<text x="582.31" y="686.3" font-size="13.3" fill="#1a1a1a">+0.083</text>
<text x="561.36" y="701.1" font-size="13.3" font-style="italic" fill="#1a1a1a">P</text>
<text x="572.66" y="701.1" font-size="13.3" fill="#1a1a1a">=</text>
<text x="584.11" y="701.1" font-size="13.3" fill="#1a1a1a">0.271</text>
<line x1="64.6" y1="680.3" x2="67.5" y2="680.3" stroke="#000" stroke-width="1.6"/>
<text x="61.2" y="685.3" font-size="12.8" text-anchor="end" fill="#1a1a1a">15000</text>
<line x1="64.6" y1="759.4" x2="67.5" y2="759.4" stroke="#000" stroke-width="1.6"/>
<text x="61.2" y="764.4" font-size="12.8" text-anchor="end" fill="#1a1a1a">10000</text>
<line x1="64.6" y1="838.6" x2="67.5" y2="838.6" stroke="#000" stroke-width="1.6"/>
<text x="61.2" y="843.6" font-size="12.8" text-anchor="end" fill="#1a1a1a">5000</text>
<text transform="translate(16.2,864.6) rotate(-90)" font-size="14.75" font-weight="bold">CSF sTREM2</text>
<text transform="translate(16.6,764.9000000000001) rotate(-90)" font-size="11.45" fill="#1a1a1a">(pg/ml)</text>
<text x="128" y="314.4" font-size="14.75" font-weight="bold">CSF T-tau</text>
<text x="199.8" y="314.4" font-size="13.2" fill="#1a1a1a">(pg/ml)</text>
<text x="370" y="314.4" font-size="14.75" font-weight="bold">CSF T-tau</text>
<text x="441.8" y="314.4" font-size="13.2" fill="#1a1a1a">(pg/ml)</text>
<text x="613.2" y="314.4" font-size="14.75" font-weight="bold">CSF T-tau</text>
<text x="685.0" y="314.4" font-size="13.2" fill="#1a1a1a">(pg/ml)</text>
<text x="128" y="634.4" font-size="14.75" font-weight="bold">CSF P-tau</text>
<text x="200.4" y="634.4" font-size="13.2" fill="#1a1a1a">(pg/ml)</text>
<text x="370" y="634.4" font-size="14.75" font-weight="bold">CSF P-tau</text>
<text x="442.4" y="634.4" font-size="13.2" fill="#1a1a1a">(pg/ml)</text>
<text x="613.2" y="634.4" font-size="14.75" font-weight="bold">CSF P-tau</text>
<text x="685.6" y="634.4" font-size="13.2" fill="#1a1a1a">(pg/ml)</text>
<text x="128" y="950.5" font-size="14.75" font-weight="bold">CSF A<tspan font-weight="normal" font-size="14.8">β</tspan><tspan font-size="8.2" dy="4.8" dx="0.3">1-42</tspan></text>
<text x="200.1" y="950.5" font-size="13.2" fill="#1a1a1a">(pg/ml)</text>
<text x="370" y="950.5" font-size="14.75" font-weight="bold">CSF A<tspan font-weight="normal" font-size="14.8">β</tspan><tspan font-size="8.2" dy="4.8" dx="0.3">1-42</tspan></text>
<text x="442.1" y="950.5" font-size="13.2" fill="#1a1a1a">(pg/ml)</text>
<text x="613.2" y="950.5" font-size="14.75" font-weight="bold">CSF A<tspan font-weight="normal" font-size="14.8">β</tspan><tspan font-size="8.2" dy="4.8" dx="0.3">1-42</tspan></text>
<text x="685.3000000000001" y="950.5" font-size="13.2" fill="#1a1a1a">(pg/ml)</text>
</svg></body></html>
